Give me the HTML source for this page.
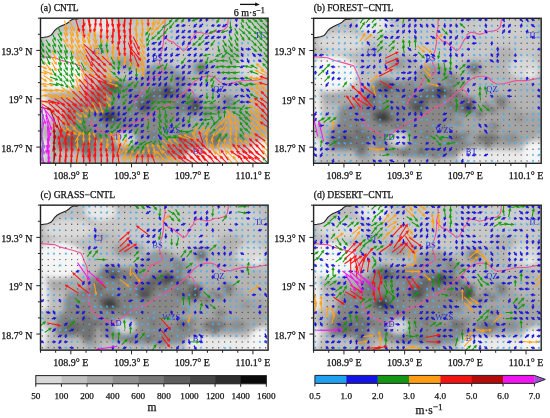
<!DOCTYPE html><html><head><meta charset="utf-8"><style>
html,body{margin:0;padding:0;background:#fff;width:550px;height:418px;overflow:hidden}
svg{display:block}
.ax{font-family:"Liberation Serif",serif;font-size:10px;fill:#111;stroke:#111;stroke-width:0.25px}
.ti{font-family:"Liberation Serif",serif;font-size:9.6px;fill:#111;stroke:#111;stroke-width:0.25px}
.cb{font-family:"Liberation Serif",serif;font-size:9.2px;fill:#111;stroke:#111;stroke-width:0.25px}
.cbu{font-family:"Liberation Serif",serif;font-size:11.5px;fill:#111;stroke:#111;stroke-width:0.25px}
.lb{font-family:"Liberation Serif",serif;font-size:8.5px;fill:#2828d8}
.cb2{font-family:"Liberation Serif",serif;font-size:10px;fill:#111;stroke:#111;stroke-width:0.25px}
</style></head><body>
<svg width="550" height="418" viewBox="0 0 550 418">
<rect width="550" height="418" fill="#fff"/>
<defs><filter id="tblur" x="-5%" y="-5%" width="110%" height="110%"><feGaussianBlur stdDeviation="2.5" edgeMode="duplicate"/></filter></defs>
<clipPath id="cpa"><rect x="40.50" y="18.20" width="227.6" height="145.0"/></clipPath>
<g clip-path="url(#cpa)">
<g filter="url(#tblur)"><rect x="32.5" y="10.2" width="243.6" height="161.0" fill="rgb(190,190,190)"/><ellipse cx="155.5" cy="118.2" rx="92" ry="40" fill="rgb(136,136,136)"/><ellipse cx="180.5" cy="43.2" rx="90" ry="25" fill="rgb(200,200,200)"/><ellipse cx="215.5" cy="78.2" rx="45" ry="20" fill="rgb(182,182,182)"/><ellipse cx="225.5" cy="123.2" rx="45" ry="25" fill="rgb(165,165,165)"/><ellipse cx="58.5" cy="73.2" rx="26" ry="18" fill="rgb(245,245,245)"/><ellipse cx="41.5" cy="123.2" rx="7" ry="40" fill="rgb(238,238,238)"/><ellipse cx="68.5" cy="42.2" rx="24" ry="10" fill="rgb(218,218,218)"/><ellipse cx="100.5" cy="24.2" rx="16" ry="9" fill="rgb(232,232,232)"/><ellipse cx="225.5" cy="159.2" rx="40" ry="9" fill="rgb(235,235,235)"/><ellipse cx="262.5" cy="155.2" rx="14" ry="14" fill="rgb(245,245,245)"/><ellipse cx="203.5" cy="156.2" rx="18" ry="8" fill="rgb(232,232,232)"/><ellipse cx="251.5" cy="68.2" rx="16" ry="11" fill="rgb(215,215,215)"/><ellipse cx="257.5" cy="74.2" rx="6" ry="4" fill="rgb(235,235,235)"/><ellipse cx="125.5" cy="139.2" rx="11" ry="8" fill="rgb(212,212,212)"/><ellipse cx="230.5" cy="28.2" rx="30" ry="10" fill="rgb(205,205,205)"/><ellipse cx="105.5" cy="54.2" rx="15" ry="9" fill="rgb(188,188,188)"/><ellipse cx="100.5" cy="50.2" rx="6" ry="4" fill="rgb(170,170,170)"/><ellipse cx="128.5" cy="62.2" rx="17" ry="8" fill="rgb(170,170,170)"/><ellipse cx="123.5" cy="64.2" rx="8" ry="5" fill="rgb(150,150,150)"/><ellipse cx="230.5" cy="54.2" rx="12" ry="7" fill="rgb(178,178,178)"/><ellipse cx="160.5" cy="78.2" rx="20" ry="15" fill="rgb(150,150,150)"/><ellipse cx="255.5" cy="98.2" rx="15" ry="14" fill="rgb(180,180,180)"/><ellipse cx="216.5" cy="98.2" rx="14" ry="9" fill="rgb(172,172,172)"/><ellipse cx="184.5" cy="82.2" rx="8" ry="7" fill="rgb(150,150,150)"/><ellipse cx="68.5" cy="98.2" rx="20" ry="7" fill="rgb(170,170,170)"/><ellipse cx="153.5" cy="147.2" rx="15" ry="10" fill="rgb(140,140,140)"/><ellipse cx="172.5" cy="130.2" rx="9" ry="7" fill="rgb(160,160,160)"/><ellipse cx="210.5" cy="118.2" rx="11" ry="13" fill="rgb(165,165,165)"/><ellipse cx="71.5" cy="137.2" rx="18" ry="14" fill="rgb(132,132,132)"/><ellipse cx="92.5" cy="150.2" rx="10" ry="12" fill="rgb(165,165,165)"/><ellipse cx="48.5" cy="131.2" rx="8" ry="10" fill="rgb(180,180,180)"/><ellipse cx="111.5" cy="86.2" rx="13" ry="8" fill="rgb(120,120,120)"/><ellipse cx="113.5" cy="88.2" rx="5" ry="4" fill="rgb(80,80,80)"/><ellipse cx="97.5" cy="106.2" rx="8" ry="5" fill="rgb(120,120,120)"/><ellipse cx="110.5" cy="116.2" rx="11" ry="7" fill="rgb(85,85,85)"/><ellipse cx="110.5" cy="117.2" rx="6" ry="4" fill="rgb(55,55,55)"/><ellipse cx="144.5" cy="104.2" rx="9" ry="7" fill="rgb(100,100,100)"/><ellipse cx="160.5" cy="92.2" rx="12" ry="6" fill="rgb(105,105,105)"/><ellipse cx="166.5" cy="91.2" rx="7" ry="6" fill="rgb(60,60,60)"/><ellipse cx="194.5" cy="105.2" rx="7" ry="9" fill="rgb(90,90,90)"/><ellipse cx="195.5" cy="107.2" rx="4" ry="4" fill="rgb(55,55,55)"/><ellipse cx="200.5" cy="68.2" rx="8" ry="7" fill="rgb(150,150,150)"/><ellipse cx="201.5" cy="68.2" rx="4" ry="4" fill="rgb(90,90,90)"/><ellipse cx="87.5" cy="144.2" rx="8" ry="12" fill="rgb(115,115,115)"/><ellipse cx="71.5" cy="140.2" rx="9" ry="7" fill="rgb(105,105,105)"/><ellipse cx="178.5" cy="78.2" rx="6" ry="5" fill="rgb(130,130,130)"/><ellipse cx="214.5" cy="138.2" rx="13" ry="5" fill="rgb(115,115,115)"/><ellipse cx="237.5" cy="138.2" rx="9" ry="5" fill="rgb(140,140,140)"/><ellipse cx="162.5" cy="153.2" rx="7" ry="7" fill="rgb(130,130,130)"/><ellipse cx="144.5" cy="108.2" rx="6" ry="4" fill="rgb(75,75,75)"/><ellipse cx="128.5" cy="110.2" rx="5" ry="3" fill="rgb(110,110,110)"/><ellipse cx="152.5" cy="98.2" rx="5" ry="3" fill="rgb(100,100,100)"/><ellipse cx="177.5" cy="94.2" rx="5" ry="4" fill="rgb(105,105,105)"/><ellipse cx="183.5" cy="108.2" rx="4" ry="3" fill="rgb(110,110,110)"/><ellipse cx="206.5" cy="113.2" rx="5" ry="4" fill="rgb(120,120,120)"/><ellipse cx="220.5" cy="126.2" rx="6" ry="4" fill="rgb(130,130,130)"/><ellipse cx="85.5" cy="118.2" rx="5" ry="4" fill="rgb(130,130,130)"/><ellipse cx="60.5" cy="146.2" rx="5" ry="4" fill="rgb(120,120,120)"/><ellipse cx="100.5" cy="136.2" rx="5" ry="4" fill="rgb(130,130,130)"/><ellipse cx="135.5" cy="148.2" rx="5" ry="4" fill="rgb(140,140,140)"/><ellipse cx="180.5" cy="138.2" rx="5" ry="4" fill="rgb(135,135,135)"/><ellipse cx="245.5" cy="118.2" rx="5" ry="4" fill="rgb(150,150,150)"/><ellipse cx="180.1" cy="135.5" rx="4.1" ry="3.4" fill="rgb(120,120,120)"/><ellipse cx="148.6" cy="151.7" rx="3.8" ry="3.4" fill="rgb(98,98,98)"/><ellipse cx="149.3" cy="95.9" rx="3.6" ry="2.9" fill="rgb(95,95,95)"/><ellipse cx="98.8" cy="98.6" rx="4.3" ry="3.1" fill="rgb(100,100,100)"/><ellipse cx="179.0" cy="86.3" rx="2.5" ry="3.3" fill="rgb(102,102,102)"/><ellipse cx="230.0" cy="99.3" rx="4.4" ry="2.8" fill="rgb(118,118,118)"/><ellipse cx="127.7" cy="89.5" rx="2.8" ry="2.1" fill="rgb(105,105,105)"/><ellipse cx="191.1" cy="103.2" rx="3.1" ry="3.2" fill="rgb(111,111,111)"/><ellipse cx="118.7" cy="114.7" rx="3.9" ry="2.1" fill="rgb(129,129,129)"/><ellipse cx="213.0" cy="105.5" rx="3.7" ry="2.0" fill="rgb(96,96,96)"/><ellipse cx="94.8" cy="136.7" rx="4.4" ry="3.4" fill="rgb(107,107,107)"/><ellipse cx="126.5" cy="118.2" rx="4.1" ry="2.2" fill="rgb(121,121,121)"/><ellipse cx="214.9" cy="145.0" rx="2.6" ry="3.4" fill="rgb(98,98,98)"/><ellipse cx="123.6" cy="125.1" rx="4.3" ry="2.5" fill="rgb(127,127,127)"/><ellipse cx="164.5" cy="101.2" rx="3.1" ry="2.3" fill="rgb(97,97,97)"/><ellipse cx="85.3" cy="131.3" rx="4.5" ry="2.2" fill="rgb(96,96,96)"/><ellipse cx="136.7" cy="95.2" rx="3.7" ry="3.2" fill="rgb(110,110,110)"/><ellipse cx="154.2" cy="143.3" rx="2.8" ry="3.1" fill="rgb(128,128,128)"/><ellipse cx="181.6" cy="139.2" rx="2.7" ry="2.7" fill="rgb(100,100,100)"/><ellipse cx="224.4" cy="99.8" rx="3.4" ry="3.5" fill="rgb(124,124,124)"/><ellipse cx="153.1" cy="134.6" rx="3.5" ry="2.4" fill="rgb(109,109,109)"/><ellipse cx="84.8" cy="106.4" rx="4.5" ry="3.4" fill="rgb(116,116,116)"/><ellipse cx="155.4" cy="103.3" rx="2.7" ry="2.4" fill="rgb(122,122,122)"/><ellipse cx="229.0" cy="105.1" rx="4.1" ry="3.2" fill="rgb(119,119,119)"/><ellipse cx="188.3" cy="137.0" rx="3.2" ry="3.1" fill="rgb(104,104,104)"/><ellipse cx="152.6" cy="137.8" rx="3.9" ry="2.4" fill="rgb(128,128,128)"/><ellipse cx="185.4" cy="122.7" rx="2.5" ry="2.8" fill="rgb(103,103,103)"/><ellipse cx="189.8" cy="113.2" rx="4.1" ry="3.0" fill="rgb(122,122,122)"/><ellipse cx="125.1" cy="127.7" rx="4.0" ry="3.2" fill="rgb(107,107,107)"/><ellipse cx="161.4" cy="89.5" rx="4.2" ry="3.4" fill="rgb(111,111,111)"/><ellipse cx="193.8" cy="133.8" rx="4.0" ry="2.3" fill="rgb(122,122,122)"/><ellipse cx="171.7" cy="129.4" rx="3.3" ry="2.9" fill="rgb(122,122,122)"/><ellipse cx="182.9" cy="133.8" rx="2.6" ry="2.2" fill="rgb(110,110,110)"/><ellipse cx="185.5" cy="93.7" rx="3.9" ry="2.9" fill="rgb(96,96,96)"/><ellipse cx="149.8" cy="94.3" rx="2.6" ry="2.2" fill="rgb(106,106,106)"/><ellipse cx="131.6" cy="125.1" rx="3.7" ry="2.4" fill="rgb(126,126,126)"/><ellipse cx="111.2" cy="109.0" rx="2.7" ry="3.2" fill="rgb(108,108,108)"/><ellipse cx="74.5" cy="119.8" rx="3.2" ry="2.9" fill="rgb(128,128,128)"/><ellipse cx="219.2" cy="109.7" rx="4.1" ry="3.0" fill="rgb(107,107,107)"/><ellipse cx="83.9" cy="123.9" rx="3.6" ry="3.4" fill="rgb(128,128,128)"/><ellipse cx="177.2" cy="104.3" rx="4.3" ry="2.0" fill="rgb(98,98,98)"/><ellipse cx="168.7" cy="125.4" rx="2.8" ry="2.9" fill="rgb(126,126,126)"/><ellipse cx="130.7" cy="110.7" rx="3.0" ry="2.4" fill="rgb(129,129,129)"/><ellipse cx="131.5" cy="153.1" rx="4.3" ry="2.9" fill="rgb(104,104,104)"/><ellipse cx="138.6" cy="101.7" rx="4.5" ry="2.7" fill="rgb(105,105,105)"/></g>
<polygon points="37.5,15.2 38.5,38.0 40.5,37.8 44.0,37.3 47.5,36.7 50.9,35.4 52.8,33.2 54.5,30.7 57.0,28.4 60.0,26.6 63.0,25.2 66.5,23.7 69.0,22.0 71.0,20.2 73.5,18.8 76.5,19.1 78.5,18.6 79.5,16.2 79.5,15.2" fill="#fff"/>
<polyline points="38.5,38.0 40.5,37.8 44.0,37.3 47.5,36.7 50.9,35.4 52.8,33.2 54.5,30.7 57.0,28.4 60.0,26.6 63.0,25.2 66.5,23.7 69.0,22.0 71.0,20.2 73.5,18.8 76.5,19.1 78.5,18.6 79.5,16.2" fill="none" stroke="#222" stroke-width="1.1"/>
<polyline points="39.5,56.4 47.2,57.1 54.4,57.6 61.5,60.4 68.7,62.3 75.9,64.3 80.7,65.9 82.6,69.5 84.3,74.3 86.7,79.1 87.8,86.3 87.8,93.4 88.6,100.6 87.8,107.8 89.0,115.0 91.3,123.1 96.0,127.7 100.7,130.9 106.9,134.0 110.5,135.7 115.5,135.2 119.5,132.7 123.3,129.7 126.7,127.5 131.5,124.5 136.3,121.5 141.1,119.7 145.9,117.9 150.7,114.9 155.5,111.9 160.0,108.3 164.6,106.3 171.8,102.7 178.9,96.4 184.7,92.1 188.4,88.5 194.9,81.2 200.7,77.5 206.5,76.1 210.9,76.1 215.3,77.5 219.6,81.9 224.0,84.2 231.1,83.4 242.8,80.5 253.1,80.5 269.5,77.5" fill="none" stroke="#f0509a" stroke-width="1.1"/>
<polyline points="228.4,17.2 228.0,22.2 227.3,26.6 224.0,29.9 219.6,31.0 215.2,31.4 210.8,33.2 206.4,34.3 202.0,32.8 197.6,32.1 194.3,34.3 193.2,37.6 191.0,39.8 188.8,44.2 186.6,48.6 183.3,50.8 180.0,47.5 176.7,45.3 173.4,42.0 169.0,40.9 165.7,37.6 163.5,34.3 163.5,42.0 162.4,48.6 160.2,55.2 160.2,58.9 159.5,63.2 161.7,69.0 162.4,71.9 159.5,74.7 155.2,76.9 150.9,78.3 149.5,81.2 148.0,84.0 145.9,88.0 142.3,91.6 138.7,96.4 136.3,98.8 134.0,104.2" fill="none" stroke="#f0509a" stroke-width="1.1"/>
<polyline points="165.0,17.2 165.0,26.2 163.5,34.3" fill="none" stroke="#f0509a" stroke-width="1.1"/>
<polyline points="188.4,88.5 192.8,91.5 195.7,98.1 196.5,102.2" fill="none" stroke="#f0509a" stroke-width="1.1"/>
<text x="157.5" y="60.6" text-anchor="middle" class="lb">BS</text>
<text x="218.9" y="91.7" text-anchor="middle" class="lb">QZ</text>
<text x="171.2" y="133.2" text-anchor="middle" class="lb">WZS</text>
<text x="116.0" y="139.5" text-anchor="middle" class="lb">LD</text>
<text x="198.2" y="154.0" text-anchor="middle" class="lb">BT</text>
<text x="260.5" y="37.8" text-anchor="middle" class="lb">TC</text>
<text x="98.5" y="54.4" text-anchor="middle" class="lb">CJ</text>
<path d="M189.3 25.6h0.01M165.8 43.2h0.01M171.7 43.2h0.01M201.1 49.1h0.01M212.8 49.1h0.01M183.4 55.0h0.01M159.9 60.9h0.01M124.6 72.6h0.01M212.8 72.6h0.01M248.1 72.6h0.01M189.3 78.5h0.01M218.7 84.4h0.01M201.1 90.3h0.01M224.6 96.1h0.01M218.7 102.0h0.01M142.3 113.8h0.01M171.7 113.8h0.01M148.1 119.7h0.01M89.3 125.5h0.01M154.0 125.5h0.01M101.1 131.4h0.01M148.1 131.4h0.01M177.5 131.4h0.01" stroke="#505050" stroke-width="1.4" stroke-linecap="round"/>
<path d="M213.3 18.8L213.0 19.4M225.1 18.8L224.8 19.4M230.8 18.9L230.7 19.2M207.8 25.3L207.4 25.4M172.4 30.1L171.6 31.5M202.0 30.9L201.3 31.3M172.6 36.4L171.7 37.3M178.3 42.8L178.0 43.0M218.0 42.2L218.6 43.1M242.0 42.1L242.2 43.0M247.8 42.3L247.9 42.8M172.5 48.7L172.1 48.9M184.6 48.4L183.4 49.1M213.3 54.2L213.1 54.5M247.5 53.8L248.1 54.9M177.8 60.0L177.7 60.4M253.1 59.8L254.0 60.9M155.2 66.0L154.1 66.7M172.3 65.9L171.9 66.5M195.5 65.4L195.2 66.7M178.8 71.9L177.5 72.6M196.4 72.0L195.2 72.6M243.6 72.3L242.2 72.6M219.5 78.2L219.2 78.3M125.4 83.5L124.8 84.2M172.3 83.4L171.8 84.2M137.2 89.4L136.5 90.1M143.0 89.8L142.7 90.0M154.8 89.9L154.5 90.0M160.4 89.6L160.3 89.8M173.0 89.8L171.7 90.3M183.9 89.1L183.5 90.2M196.0 89.6L195.4 90.1M206.5 89.6L206.6 89.8M231.4 90.1L230.9 90.2M237.2 89.7L236.6 90.1M143.0 95.2L142.4 96.0M155.1 95.6L154.2 96.1M160.6 95.2L160.0 96.0M195.9 95.0L195.2 96.1M231.0 95.5L230.8 95.7M119.7 101.4L118.9 101.9M137.8 101.6L136.3 102.0M143.5 101.2L142.2 102.1M178.5 102.0L178.0 102.0M231.6 101.6L230.7 101.9M136.9 107.1L136.6 107.6M184.5 107.3L183.6 107.8M196.1 107.2L195.4 107.7M131.2 113.2L130.9 113.4M184.1 112.5L183.4 113.9M90.2 119.1L89.7 119.4M96.2 119.0L95.4 119.6M113.2 118.2L112.8 119.8M195.7 118.7L195.3 119.4M101.8 124.7L101.3 125.3M154.4 130.7L154.3 130.9M137.1 136.4L136.5 137.1M154.4 136.1L154.1 137.2" stroke="#45b0f0" stroke-width="1.2" fill="none"/>
<path d="M212.3 20.6L212.3 19.0L213.7 19.8zM224.0 20.6L224.1 18.9L225.5 19.8zM230.2 20.5L229.9 18.9L231.5 19.5zM206.1 25.8L207.2 24.6L207.7 26.2zM171.0 32.8L170.9 31.1L172.4 31.9zM200.1 32.1L200.8 30.6L201.7 32.1zM170.8 38.3L171.1 36.7L172.3 37.9zM176.7 43.6L177.6 42.2L178.4 43.7zM219.4 44.3L217.9 43.6L219.3 42.6zM242.4 44.4L241.3 43.1L243.0 42.8zM248.4 44.1L247.1 43.1L248.7 42.5zM170.8 49.5L171.7 48.1L172.5 49.6zM182.2 49.8L183.0 48.4L183.9 49.8zM212.4 55.7L212.4 54.1L213.8 55.0zM248.7 56.2L247.3 55.3L248.8 54.5zM177.3 61.7L176.9 60.1L178.5 60.6zM254.9 61.9L253.3 61.4L254.6 60.3zM152.9 67.4L153.6 66.0L154.5 67.4zM171.0 67.6L171.2 65.9L172.5 67.0zM194.8 68.1L194.4 66.5L196.0 66.9zM176.3 73.3L177.1 71.9L177.9 73.4zM194.0 73.2L194.8 71.8L195.6 73.4zM240.9 72.9L242.1 71.8L242.4 73.5zM217.9 78.8L218.9 77.5L219.5 79.1zM123.8 85.2L124.2 83.6L125.4 84.8zM171.1 85.4L171.0 83.8L172.5 84.6zM135.5 91.1L135.9 89.5L137.1 90.7zM141.5 90.7L142.3 89.3L143.2 90.7zM153.2 90.6L154.2 89.3L154.9 90.8zM159.4 90.9L159.6 89.3L160.9 90.4zM170.3 90.7L171.4 89.5L171.9 91.1zM182.9 91.4L182.7 89.8L184.2 90.5zM194.3 90.9L194.9 89.4L196.0 90.7zM207.4 90.9L205.9 90.3L207.3 89.3zM229.5 90.4L230.8 89.4L231.0 91.0zM235.5 90.8L236.2 89.3L237.1 90.8zM141.5 97.1L141.7 95.5L143.0 96.5zM152.9 96.7L153.8 95.3L154.6 96.8zM159.2 97.1L159.3 95.5L160.7 96.5zM194.5 97.3L194.5 95.6L195.9 96.5zM229.9 96.8L230.2 95.2L231.5 96.3zM117.7 102.6L118.5 101.2L119.4 102.6zM135.0 102.5L136.0 101.2L136.6 102.9zM141.0 102.8L141.7 101.3L142.6 102.8zM176.6 102.0L178.0 101.2L178.0 102.9zM229.3 102.4L230.4 101.1L230.9 102.8zM135.8 108.7L135.9 107.1L137.3 108.0zM182.4 108.5L183.2 107.1L184.0 108.5zM194.3 108.6L194.9 107.1L195.9 108.4zM129.8 114.4L130.3 112.8L131.4 114.1zM182.7 115.1L182.6 113.5L184.1 114.3zM88.5 120.2L89.2 118.7L90.1 120.2zM94.2 120.3L94.9 118.8L95.8 120.3zM112.5 121.1L112.0 119.6L113.7 120.0zM194.7 120.7L194.5 119.0L196.1 119.8zM100.4 126.4L100.6 124.8L101.9 125.9zM153.6 132.1L153.6 130.5L155.0 131.3zM135.6 138.2L135.8 136.6L137.2 137.7zM153.6 138.5L153.2 136.9L154.9 137.5z" fill="#45b0f0" stroke="#45b0f0" stroke-width="0.5"/>
<path d="M189.7 17.5L189.4 19.4M202.6 17.7L201.1 19.6M207.6 17.8L207.1 19.3M236.2 17.5L236.3 19.4M179.3 24.7L177.9 25.4M185.4 25.0L183.7 25.5M196.7 23.8L195.3 25.4M202.9 23.7L201.1 25.6M214.6 25.2L213.3 25.5M220.6 24.9L219.1 25.4M226.8 24.1L224.6 25.6M236.1 23.8L236.3 25.0M178.9 30.0L177.8 31.2M185.2 29.9L183.6 31.3M190.9 30.7L189.8 31.2M196.6 30.6L195.7 31.2M208.3 29.7L207.1 31.3M220.7 30.5L218.9 31.3M231.9 29.4L230.5 31.4M167.0 35.3L165.9 37.2M179.3 35.4L177.5 37.3M185.4 37.0L183.8 37.3M190.9 36.9L189.9 37.2M195.8 35.6L195.3 36.9M209.1 35.8L206.9 37.3M214.5 35.8L213.0 37.2M221.0 36.9L218.9 37.3M225.6 35.8L224.8 36.9M156.6 42.4L154.0 43.2M161.3 40.9L159.9 43.2M184.4 40.8L183.4 43.2M190.8 42.0L189.6 42.9M209.3 42.0L207.0 43.2M148.5 47.2L148.2 48.7M155.8 48.9L154.5 49.0M161.9 47.4L159.9 49.1M166.9 47.2L165.9 48.9M179.4 48.6L178.0 49.0M191.6 47.7L189.3 49.1M196.8 48.5L195.7 48.9M208.9 47.8L207.1 49.0M241.3 47.4L242.0 48.7M245.6 48.9L248.0 49.1M148.6 52.8L148.2 54.7M155.5 53.3L154.2 54.8M161.6 53.5L160.1 54.8M167.4 53.9L166.1 54.7M172.5 52.8L171.7 54.8M179.8 54.0L177.7 54.9M191.1 54.3L189.7 54.8M196.5 53.2L195.3 54.8M202.6 53.5L201.3 54.8M241.4 53.0L242.1 54.7M252.3 53.1L253.9 54.9M257.6 54.0L259.7 54.9M149.3 58.8L148.2 60.7M155.7 60.0L154.4 60.6M167.4 59.5L166.0 60.7M173.3 59.2L171.8 60.7M191.4 60.3L189.6 60.8M196.6 59.5L195.5 60.6M202.7 59.9L201.4 60.6M240.5 60.2L241.8 60.7M247.1 58.4L248.1 60.8M258.3 59.7L259.5 60.6M125.8 65.1L124.9 66.4M149.3 65.3L148.5 66.3M179.4 65.4L177.7 66.6M185.3 64.8L183.4 66.7M190.0 65.2L189.5 66.2M207.7 64.6L207.0 66.5M214.9 65.5L212.9 66.7M244.6 65.8L242.3 66.7M118.6 70.7L118.7 72.2M132.1 70.8L130.6 72.5M149.8 71.6L148.5 72.4M155.3 70.5L154.1 72.5M162.0 71.6L160.1 72.5M167.7 72.3L166.2 72.5M173.3 72.2L172.2 72.5M184.4 70.9L183.6 72.3M191.0 71.3L189.5 72.5M203.1 71.0L201.1 72.6M209.1 71.3L207.0 72.6M220.5 73.0L219.2 72.7M132.2 76.7L130.6 78.4M136.4 76.5L136.4 78.1M143.1 76.8L142.5 78.1M148.9 76.0L148.2 78.5M154.2 75.8L154.0 78.5M160.9 76.1L159.9 78.5M167.8 76.9L165.8 78.5M179.5 77.9L177.9 78.4M184.5 76.3L183.5 78.4M201.9 76.1L201.1 78.5M226.7 77.7L224.8 78.4M244.4 78.8L242.5 78.5M143.7 82.8L142.5 84.1M149.5 82.9L148.4 84.1M156.4 83.7L154.1 84.3M161.2 82.3L160.0 84.3M166.7 82.4L165.9 84.1M178.3 82.6L177.7 84.0M185.4 83.3L183.6 84.3M191.3 83.8L189.6 84.3M196.8 83.5L195.6 84.2M202.1 82.1L201.1 84.3M207.6 81.9L207.0 84.3M227.2 85.0L224.6 84.4M232.4 83.0L230.6 84.3M238.5 84.3L236.6 84.4M132.6 89.3L130.7 90.2M167.0 88.7L166.0 89.9M179.1 88.5L177.7 90.1M190.9 89.6L189.8 90.0M212.4 88.4L212.7 89.8M220.8 88.8L218.7 90.2M226.3 89.6L225.1 90.1M243.6 91.9L242.4 90.5M250.0 91.7L248.2 90.4M118.6 93.4L118.7 96.2M131.3 94.0L130.6 95.9M138.6 95.1L136.5 96.1M167.2 94.5L166.0 95.9M173.0 94.4L171.8 95.9M178.3 94.1L177.6 95.9M184.9 94.6L183.7 95.9M203.1 94.9L201.2 96.0M219.7 94.2L218.8 95.9M238.5 95.0L236.5 96.1M244.6 96.6L242.4 96.2M249.9 97.9L248.1 96.2M132.4 100.3L130.5 102.0M150.1 100.7L148.3 101.9M185.7 101.1L183.5 102.0M196.8 101.1L195.6 101.8M202.9 101.2L201.4 101.9M225.0 100.4L224.7 101.5M244.8 102.1L242.3 102.0M250.6 102.1L248.2 102.0M114.2 106.4L113.1 107.6M120.0 106.6L119.1 107.5M125.9 106.4L124.9 107.6M144.1 106.2L142.4 107.8M150.1 107.5L148.5 107.8M179.3 108.3L178.0 108.0M190.8 106.3L189.5 107.7M202.9 107.0L201.4 107.7M219.7 106.5L219.0 107.4M227.0 107.4L224.7 107.9M95.2 111.1L95.2 113.8M102.6 111.8L101.2 113.7M108.9 112.8L107.2 113.6M114.4 112.4L113.1 113.5M119.0 111.3L118.7 113.7M126.8 112.5L124.7 113.8M138.5 112.5L136.5 113.7M148.9 112.0L148.3 113.4M154.9 111.3L154.0 113.8M178.4 111.9L177.7 113.5M191.3 112.4L189.4 113.7M196.3 112.5L195.6 113.4M202.6 111.8L201.1 113.7M103.1 118.2L101.2 119.6M108.2 118.2L107.3 119.3M121.2 118.5L118.7 119.7M126.0 117.4L124.6 119.7M132.1 117.9L130.6 119.5M137.1 117.6L136.5 119.4M143.5 118.0L142.5 119.4M154.4 117.4L154.0 119.5M179.2 118.1L177.7 119.5M184.0 117.2L183.4 119.6M202.7 119.2L201.6 119.5M97.0 124.7L95.6 125.4M107.9 123.5L107.1 125.3M126.2 124.8L125.1 125.3M132.6 124.4L130.6 125.5M138.7 124.4L136.4 125.5M143.7 123.9L142.4 125.3M172.0 123.3L171.7 125.3M184.7 124.2L183.8 125.2M190.1 123.7L189.4 125.2M96.1 129.9L95.5 130.9M109.2 130.8L107.2 131.4M120.8 129.8L118.7 131.4M126.1 129.9L124.9 131.2M132.2 129.6L130.6 131.3M143.8 130.2L142.6 131.2M173.7 130.0L171.7 131.4M128.4 138.7L130.4 137.3M143.1 135.6L142.5 136.9M149.2 135.5L148.3 137.0M158.2 134.6L160.1 137.6M138.1 141.9L136.6 143.0" stroke="#1010e0" stroke-width="1.35" fill="none"/>
<path d="M188.9 21.9L188.1 19.2L190.6 19.7zM199.5 21.7L200.1 18.8L202.1 20.4zM206.3 21.6L205.8 18.9L208.3 19.7zM236.5 21.9L235.0 19.5L237.6 19.3zM175.8 26.4L177.4 24.2L178.5 26.6zM181.4 26.2L183.4 24.2L184.1 26.7zM193.6 27.4L194.3 24.6L196.3 26.3zM199.2 27.4L200.2 24.6L202.0 26.5zM211.1 25.9L213.1 24.2L213.6 26.8zM216.8 26.3L218.6 24.2L219.5 26.7zM222.3 27.1L223.8 24.5L225.3 26.7zM236.5 27.3L235.0 25.2L237.6 24.9zM176.2 32.9L176.9 30.3L178.8 32.0zM181.7 33.0L182.7 30.3L184.4 32.3zM187.7 32.2L189.3 30.1L190.3 32.4zM193.7 32.4L195.0 30.1L196.3 32.3zM205.6 33.2L206.1 30.5L208.1 32.0zM216.7 32.4L218.4 30.2L219.5 32.5zM229.1 33.5L229.4 30.6L231.6 32.1zM164.5 39.4L164.8 36.5L167.0 37.9zM175.8 39.3L176.6 36.5L178.5 38.2zM181.5 37.7L183.6 36.0L184.1 38.5zM187.7 37.8L189.5 35.9L190.2 38.4zM194.6 39.1L194.1 36.4L196.6 37.3zM204.8 38.8L206.2 36.3L207.7 38.4zM211.1 38.9L212.1 36.2L213.9 38.2zM216.4 37.8L218.7 36.0L219.1 38.6zM223.5 38.9L223.8 36.2L225.9 37.7zM151.5 44.0L153.6 42.0L154.4 44.5zM158.5 45.5L158.8 42.5L161.0 43.9zM182.4 45.7L182.2 42.7L184.6 43.7zM187.8 44.4L188.8 41.9L190.5 44.0zM204.6 44.4L206.4 42.0L207.6 44.4zM147.8 51.0L146.9 48.5L149.5 48.9zM152.2 49.3L154.4 47.8L154.7 50.3zM157.9 50.8L159.1 48.1L160.8 50.1zM164.7 51.0L164.8 48.2L167.0 49.5zM175.7 49.6L177.7 47.7L178.3 50.3zM187.0 50.5L188.6 48.0L190.0 50.2zM193.5 49.7L195.2 47.7L196.1 50.1zM205.0 50.4L206.4 47.9L207.8 50.1zM243.2 50.8L240.9 49.4L243.1 48.1zM250.6 49.3L247.9 50.4L248.1 47.8zM147.7 57.1L146.9 54.4L149.5 55.0zM152.6 56.7L153.2 53.9L155.2 55.6zM158.2 56.5L159.2 53.8L160.9 55.8zM164.2 56.1L165.4 53.7L166.9 55.8zM170.9 57.1L170.5 54.3L173.0 55.2zM175.3 55.9L177.2 53.7L178.2 56.1zM187.5 55.6L189.3 53.6L190.1 56.1zM193.9 56.8L194.3 54.0L196.4 55.5zM199.5 56.5L200.4 53.8L202.2 55.7zM243.0 57.0L240.9 55.2L243.3 54.2zM255.6 56.9L252.9 55.8L254.9 54.1zM262.1 55.9L259.2 56.1L260.2 53.7zM147.0 62.9L147.1 60.1L149.4 61.4zM152.4 61.7L153.8 59.5L155.1 61.8zM164.1 62.2L165.2 59.6L166.8 61.7zM170.0 62.6L170.8 59.8L172.7 61.6zM187.2 61.4L189.3 59.5L189.9 62.0zM193.7 62.3L194.6 59.7L196.4 61.5zM199.4 61.8L200.8 59.5L202.1 61.7zM244.0 61.5L241.3 61.9L242.2 59.5zM249.1 63.3L246.9 61.3L249.3 60.3zM261.4 62.0L258.7 61.6L260.3 59.6zM123.4 68.3L123.8 65.6L125.9 67.2zM147.0 68.1L147.5 65.5L149.5 67.2zM175.7 68.0L177.0 65.5L178.5 67.7zM181.6 68.7L182.5 65.9L184.4 67.6zM188.6 68.3L188.4 65.7L190.7 66.7zM206.1 68.9L205.8 66.1L208.2 67.0zM210.7 68.0L212.3 65.6L213.6 67.8zM239.8 67.7L241.8 65.5L242.7 67.9zM118.9 74.5L117.4 72.2L120.0 72.1zM128.9 74.4L129.6 71.6L131.6 73.3zM146.5 73.7L147.8 71.3L149.2 73.5zM152.7 74.7L153.0 71.8L155.2 73.2zM157.8 73.7L159.5 71.4L160.6 73.7zM163.8 73.0L165.9 71.3L166.4 73.8zM170.0 73.1L171.9 71.2L172.5 73.7zM182.5 74.3L182.5 71.6L184.8 72.9zM187.6 74.0L188.7 71.4L190.3 73.5zM199.1 74.2L200.3 71.6L201.9 73.6zM204.7 73.9L206.3 71.5L207.7 73.7zM216.9 72.3L219.4 71.4L218.9 74.0zM128.8 80.3L129.6 77.5L131.5 79.3zM136.4 80.5L135.1 78.1L137.7 78.1zM141.5 80.2L141.3 77.5L143.6 78.6zM147.4 81.0L146.9 78.1L149.4 78.8zM153.8 81.2L152.7 78.4L155.3 78.6zM158.9 80.9L158.7 78.0L161.1 79.0zM163.7 80.1L165.0 77.4L166.6 79.5zM175.5 79.1L177.5 77.2L178.3 79.6zM182.4 80.7L182.3 77.8L184.7 78.9zM200.2 80.9L199.8 78.0L202.3 78.9zM222.5 79.3L224.4 77.2L225.3 79.6zM240.0 78.2L242.7 77.2L242.3 79.8zM140.9 86.0L141.5 83.3L143.4 85.0zM146.8 85.8L147.5 83.2L149.4 85.0zM151.7 85.0L153.8 83.1L154.5 85.6zM158.6 86.4L158.9 83.6L161.1 85.0zM164.8 86.4L164.7 83.6L167.1 84.7zM176.8 86.1L176.5 83.4L178.9 84.5zM181.4 85.5L183.0 83.1L184.2 85.4zM187.3 84.9L189.3 83.0L190.0 85.5zM193.5 85.3L195.0 83.0L196.2 85.3zM200.0 86.6L199.9 83.7L202.3 84.8zM206.3 86.9L205.7 84.0L208.2 84.7zM222.0 83.7L224.9 83.1L224.3 85.6zM228.5 85.8L229.8 83.2L231.3 85.4zM234.2 84.4L236.6 83.1L236.7 85.7zM128.4 91.2L130.1 89.0L131.2 91.4zM164.6 91.8L165.0 89.2L167.1 90.7zM176.0 92.1L176.7 89.3L178.6 91.0zM187.7 90.9L189.3 88.8L190.3 91.2zM213.2 92.2L211.5 90.1L214.0 89.6zM216.6 91.7L218.0 89.2L219.5 91.3zM222.9 90.9L224.6 88.9L225.5 91.3zM240.9 88.6L243.4 89.7L241.4 91.4zM246.2 88.8L249.0 89.3L247.5 91.4zM118.8 98.8L117.4 96.2L120.0 96.1zM129.7 98.3L129.4 95.5L131.8 96.4zM134.2 97.2L136.0 94.9L137.0 97.3zM164.4 97.8L165.0 95.1L167.0 96.8zM170.4 97.9L170.8 95.1L172.9 96.7zM176.8 98.2L176.4 95.4L178.9 96.3zM182.0 97.7L182.7 95.0L184.6 96.8zM199.1 97.4L200.5 95.0L201.9 97.1zM217.7 98.1L217.7 95.3L220.0 96.5zM234.2 97.3L235.8 94.9L237.1 97.2zM239.9 95.7L242.6 94.9L242.1 97.4zM246.3 94.3L249.1 95.3L247.2 97.1zM128.6 103.7L129.7 101.0L131.4 103.0zM146.2 103.3L147.6 100.8L149.0 103.0zM181.1 102.9L183.1 100.8L184.0 103.2zM193.6 102.9L195.0 100.7L196.2 102.9zM199.2 102.8L200.9 100.7L201.9 103.1zM224.2 103.7L223.5 101.1L226.0 101.8zM239.6 102.0L242.3 100.7L242.2 103.3zM245.6 102.0L248.2 100.7L248.2 103.3zM111.6 109.4L112.1 106.8L114.1 108.4zM117.5 109.2L118.1 106.6L120.0 108.4zM123.4 109.4L123.9 106.7L125.9 108.4zM140.4 109.6L141.5 106.9L143.2 108.8zM146.2 108.3L148.3 106.5L148.8 109.1zM175.7 107.5L178.3 106.7L177.8 109.3zM187.8 109.5L188.6 106.8L190.5 108.6zM199.2 108.8L200.9 106.6L202.0 108.9zM217.7 109.3L218.0 106.7L220.1 108.2zM222.2 108.4L224.5 106.6L225.0 109.2zM95.2 116.5L93.9 113.8L96.5 113.8zM99.6 115.7L100.2 112.9L102.2 114.5zM105.0 114.8L106.6 112.5L107.8 114.8zM111.3 115.1L112.3 112.6L114.0 114.5zM118.5 116.3L117.5 113.6L120.0 113.8zM122.4 115.1L124.0 112.6L125.3 114.9zM134.2 115.0L135.8 112.6L137.1 114.8zM147.4 115.6L147.1 112.9L149.5 113.9zM153.2 116.3L152.8 113.4L155.3 114.2zM176.7 115.7L176.5 112.9L178.9 114.0zM187.3 115.1L188.7 112.6L190.2 114.8zM194.0 115.1L194.6 112.5L196.5 114.2zM199.5 115.7L200.1 112.9L202.1 114.5zM99.1 121.1L100.4 118.5L101.9 120.7zM105.8 121.2L106.2 118.5L108.3 120.1zM116.3 120.9L118.1 118.5L119.3 120.8zM123.2 121.9L123.5 119.0L125.7 120.4zM128.9 121.4L129.7 118.6L131.6 120.4zM135.7 121.7L135.2 118.9L137.7 119.8zM141.0 121.3L141.5 118.6L143.5 120.2zM153.7 122.0L152.8 119.3L155.3 119.6zM175.9 121.2L176.8 118.6L178.6 120.4zM182.8 122.2L182.2 119.3L184.7 119.9zM199.4 120.2L201.2 118.3L202.0 120.7zM93.5 126.4L95.1 124.2L96.2 126.5zM106.1 127.5L105.9 124.8L108.3 125.8zM123.1 126.3L124.6 124.1L125.7 126.5zM128.4 126.7L130.0 124.3L131.3 126.6zM134.1 126.7L135.9 124.3L137.0 126.7zM140.8 127.2L141.5 124.5L143.4 126.2zM171.3 127.8L170.4 125.1L173.0 125.5zM182.1 126.8L182.9 124.3L184.7 126.1zM188.5 127.4L188.3 124.7L190.6 125.7zM94.3 132.9L94.4 130.3L96.6 131.6zM104.7 132.0L106.8 130.1L107.5 132.6zM116.7 133.1L117.9 130.4L119.6 132.4zM123.2 132.9L123.9 130.3L125.8 132.1zM128.8 133.2L129.6 130.5L131.5 132.2zM140.7 132.6L141.8 130.1L143.4 132.2zM169.6 132.8L171.0 130.3L172.5 132.4zM132.6 135.9L131.2 138.4L129.7 136.3zM141.4 139.0L141.3 136.3L143.6 137.5zM147.1 139.1L147.2 136.3L149.4 137.7zM161.6 140.0L159.0 138.3L161.2 136.9zM134.6 144.4L135.9 141.9L137.4 144.1z" fill="#1010e0" stroke="#1010e0" stroke-width="0.5"/>
<path d="M174.2 16.3L170.8 20.8M180.4 17.5L176.9 20.2M185.4 17.0L183.0 20.2M198.6 18.4L194.3 20.0M220.9 16.3L218.0 20.7M240.9 16.7L242.5 20.3M245.0 16.9L249.1 20.6M250.4 17.3L255.2 20.5M256.8 17.4L260.7 20.3M262.6 17.5L266.6 20.3M169.6 23.1L164.3 26.5M173.9 22.5L171.0 26.4M230.2 21.4L230.5 27.0M241.0 22.5L242.5 26.2M245.8 22.1L248.8 26.7M251.5 22.1L254.8 26.8M256.9 22.5L260.9 26.7M262.8 23.2L266.5 26.2M58.1 27.2L60.7 33.1M150.7 27.6L147.1 33.0M162.8 28.5L159.0 32.4M167.8 28.4L165.3 32.2M216.6 29.7L211.6 32.0M228.3 30.5L223.6 31.7M234.8 28.3L236.7 32.1M239.1 28.7L243.2 32.4M245.1 28.6L249.1 32.4M251.0 28.7L254.9 32.3M257.3 28.3L260.7 32.4M263.3 28.0L266.6 32.7M52.5 33.9L54.5 38.2M57.9 33.4L60.7 38.8M149.7 33.3L147.6 38.8M156.6 35.3L153.5 37.7M162.6 34.8L159.2 38.0M203.6 34.5L200.4 38.1M229.2 34.2L230.7 37.9M234.6 33.6L236.9 38.5M240.2 34.0L242.8 38.3M245.8 34.3L248.7 38.2M250.8 35.0L254.9 38.0M257.4 34.4L260.6 38.2M262.7 34.6L266.7 38.2M41.1 39.7L42.6 44.1M46.1 39.9L48.8 44.2M52.4 39.5L54.6 44.4M57.6 39.2L60.9 44.8M101.0 38.8L101.1 44.8M107.5 38.8L106.8 44.8M149.5 40.1L147.9 43.9M197.9 40.8L194.6 43.8M204.2 40.5L200.1 44.1M214.9 40.2L212.3 43.9M222.7 39.9L225.1 44.1M228.5 39.7L231.1 44.3M234.7 39.8L236.8 44.1M251.5 40.4L254.6 44.0M257.2 40.0L260.8 44.3M263.2 40.3L266.4 44.0M40.4 45.6L42.9 50.2M45.9 45.7L48.9 50.2M52.6 44.8L54.6 50.8M58.3 45.0L60.6 50.6M64.5 44.6L66.4 50.9M98.8 45.3L102.0 50.5M106.3 45.0L107.2 50.4M218.0 45.7L218.8 49.8M222.7 45.2L225.2 50.4M228.3 45.8L231.1 50.0M233.9 46.9L236.8 49.5M251.2 46.3L254.8 49.9M257.8 46.4L260.3 49.6M262.9 46.9L266.4 49.6M40.4 51.6L42.8 55.9M46.0 51.2L49.0 56.3M57.5 50.9L61.0 56.7M64.5 50.5L66.3 56.7M70.9 50.7L72.0 56.5M210.5 54.3L206.1 55.1M221.8 53.5L218.1 55.3M227.5 52.2L223.7 55.8M227.3 52.7L231.3 55.6M233.5 53.2L236.9 55.3M263.7 52.4L266.1 55.5M40.1 57.0L43.1 62.3M46.5 56.8L48.8 62.3M59.0 56.3L60.3 62.7M63.5 57.3L66.6 62.1M70.2 57.2L72.2 61.9M110.9 56.8L113.6 62.4M117.7 57.2L119.0 61.8M185.6 57.7L182.8 61.7M208.2 57.0L206.6 62.0M216.3 59.0L211.8 61.4M222.0 60.5L218.1 60.9M228.3 61.1L223.7 60.8M229.1 57.1L230.8 61.9M233.3 58.8L237.0 61.3M262.7 57.9L266.8 61.8M58.4 62.4L60.5 68.4M64.2 62.9L66.4 68.0M70.4 62.8L72.1 68.0M75.2 63.2L78.4 67.9M81.2 62.5L84.4 68.5M110.5 64.0L113.4 67.4M119.1 63.0L118.7 67.7M131.9 62.7L130.0 68.2M163.3 64.8L159.0 67.3M167.2 63.3L165.4 67.6M204.3 66.2L200.4 66.8M222.1 66.1L218.0 66.9M228.5 67.2L223.4 66.6M234.1 66.3L229.6 66.8M239.9 66.6L235.6 66.8M251.8 67.4L247.1 66.6M257.4 68.5L253.0 66.2M268.8 70.3L264.5 65.3M51.8 68.9L54.8 74.0M57.9 69.1L60.6 73.7M63.6 69.5L66.4 73.4M70.9 68.6L72.0 73.9M75.5 69.0L78.3 73.8M109.8 70.6L113.6 73.1M136.2 68.0L136.5 74.4M228.0 72.5L223.9 72.6M234.4 72.2L229.3 72.7M239.8 71.9L235.6 72.8M258.4 74.2L252.2 72.0M49.9 76.9L55.6 79.1M57.5 75.6L60.5 79.2M63.3 75.3L66.6 79.5M69.3 74.7L72.6 79.9M115.5 75.8L119.9 79.4M126.0 74.9L124.3 79.4M172.4 75.1L171.5 79.2M198.6 77.9L194.4 78.6M208.0 74.3L206.6 79.9M215.3 75.5L212.1 79.3M233.7 77.9L229.8 78.6M239.6 78.7L235.7 78.5M251.7 79.8L247.1 78.2M49.5 83.6L55.8 84.7M56.0 82.8L61.2 84.9M63.6 80.7L66.6 85.6M69.8 80.3L72.4 85.9M115.6 81.6L119.8 85.3M133.4 82.0L129.8 85.0M138.4 80.9L135.8 85.4M214.0 80.7L212.5 85.4M245.8 86.2L241.2 83.9M251.2 83.1L247.5 84.6M258.3 84.5L252.4 84.3M108.6 88.1L114.6 91.1M117.0 86.7L119.3 91.3M127.5 88.5L124.1 90.6M149.9 87.1L147.7 91.0M111.1 91.9L113.6 97.8M127.5 94.5L124.1 96.4M151.2 93.7L147.2 96.9M191.1 92.6L188.8 97.2M206.7 92.9L207.0 96.7M213.0 92.5L212.8 97.0M258.1 98.5L252.3 95.1M113.8 98.6L112.6 102.8M126.3 99.1L124.3 102.6M156.8 100.4L153.5 102.3M163.1 100.9L159.3 102.2M169.1 101.4L165.2 102.1M175.4 101.9L170.8 102.1M193.3 100.5L187.9 102.5M210.4 100.9L206.1 102.3M215.8 100.2L212.2 102.4M239.9 99.7L235.1 102.8M107.3 103.1L106.8 109.9M133.3 104.7L129.5 109.0M156.9 105.7L153.4 108.4M163.2 106.3L159.1 108.3M169.7 106.5L164.5 108.3M175.0 107.6L171.0 108.0M210.5 107.7L206.1 107.9M216.3 107.1L212.1 108.1M234.4 108.5L229.3 107.7M240.3 107.9L235.2 107.9M244.7 104.9L241.5 108.7M251.7 107.4L247.3 108.0M89.7 109.8L89.2 114.9M159.6 109.9L160.0 114.8M165.2 110.2L165.9 114.6M210.5 113.7L206.2 113.8M216.8 114.3L211.6 113.6M218.9 117.2L218.7 113.1M224.4 117.5L224.6 112.9M240.4 116.0L234.7 112.9M245.3 116.4L241.3 113.0M251.0 116.6L247.2 112.9M82.2 115.3L83.9 121.4M158.2 116.6L160.2 120.3M164.3 116.4L166.1 120.4M173.6 116.9L171.3 120.2M190.4 115.8L189.0 120.8M210.6 119.2L206.0 119.8M214.8 123.2L212.2 118.5M215.9 122.8L219.6 118.6M245.3 122.3L241.3 118.8M251.6 122.6L246.7 118.5M74.6 122.1L78.8 126.9M81.4 122.2L84.1 126.5M115.1 122.3L112.2 126.5M120.9 122.1L118.1 126.6M148.8 121.3L147.9 127.0M158.9 121.9L160.1 126.4M164.5 122.6L166.0 126.0M180.4 122.9L176.8 126.3M192.4 128.1L195.9 124.9M198.3 129.2L202.1 124.1M205.0 129.1L207.6 124.4M209.9 129.1L213.9 124.1M244.7 129.2L241.3 124.2M250.9 129.1L247.1 124.2M80.5 128.9L84.3 132.1M91.4 128.6L88.9 132.0M116.1 129.3L112.0 132.0M137.9 128.5L136.1 132.0M158.2 128.1L160.3 132.2M164.0 128.1L166.2 132.3M187.6 131.5L182.1 131.4M193.1 129.9L188.1 131.9M209.6 134.3L213.9 130.4M244.3 135.0L241.5 130.3M251.5 134.7L246.7 130.1M102.6 140.9L100.7 136.3M108.8 141.1L106.4 136.0M122.5 140.6L125.2 136.4M162.9 134.4L166.7 138.2M175.9 137.9L170.2 137.1M181.9 138.8L175.8 136.7M216.5 141.3L219.6 135.7M221.8 141.2L225.7 135.7M244.8 140.7L241.3 136.1M128.3 146.3L131.1 142.3M145.6 141.3L141.4 143.7M151.9 141.3L146.9 143.8M156.0 140.6L153.7 143.6M158.5 139.6L160.3 144.1M127.6 152.8L131.7 147.6M133.3 151.8L137.4 148.2M140.8 152.8L142.7 147.9M269.0 164.3L264.4 159.4" stroke="#0a9a0a" stroke-width="1.05" fill="none"/>
<path d="M169.2 23.1L169.8 20.1L171.8 21.6zM174.7 21.9L176.2 19.2L177.6 21.2zM181.4 22.4L182.1 19.5L184.0 20.9zM191.7 21.0L193.9 18.9L194.8 21.2zM216.5 23.1L217.0 20.0L219.1 21.4zM243.5 22.7L241.4 20.7L243.5 19.8zM251.2 22.5L248.3 21.6L250.0 19.7zM257.5 22.1L254.5 21.6L255.9 19.5zM262.9 22.0L259.9 21.3L261.4 19.3zM268.9 21.9L265.9 21.3L267.3 19.3zM162.0 28.0L163.7 25.5L165.0 27.6zM169.4 28.7L170.0 25.7L172.0 27.2zM230.7 29.8L229.3 27.1L231.8 26.9zM243.4 28.7L241.3 26.6L243.6 25.7zM250.4 29.0L247.8 27.4L249.9 26.0zM256.5 29.1L253.8 27.5L255.9 26.1zM262.8 28.7L260.0 27.5L261.8 25.8zM268.6 27.9L265.7 27.1L267.2 25.2zM61.8 35.7L59.5 33.6L61.8 32.6zM145.5 35.3L146.1 32.3L148.1 33.7zM157.0 34.4L158.1 31.5L159.8 33.3zM163.7 34.5L164.3 31.5L166.3 32.9zM209.0 33.2L211.0 30.9L212.1 33.2zM220.9 32.4L223.3 30.5L223.9 32.9zM237.9 34.6L235.6 32.7L237.7 31.6zM245.3 34.2L242.4 33.3L244.1 31.4zM251.1 34.3L248.2 33.3L249.9 31.5zM256.9 34.2L254.0 33.2L255.7 31.4zM262.4 34.6L259.7 33.2L261.6 31.6zM268.2 35.0L265.5 33.4L267.6 31.9zM55.6 40.8L53.3 38.8L55.6 37.7zM61.9 41.3L59.6 39.4L61.8 38.2zM146.6 41.4L146.4 38.4L148.7 39.3zM151.4 39.4L152.8 36.8L154.3 38.6zM157.2 39.9L158.4 37.1L160.1 38.9zM198.5 40.2L199.5 37.3L201.3 38.9zM231.8 40.4L229.6 38.4L231.8 37.5zM238.1 41.1L235.8 39.1L238.0 38.0zM244.2 40.7L241.7 38.9L243.8 37.6zM250.4 40.4L247.7 38.9L249.7 37.4zM257.1 39.7L254.1 39.0L255.6 37.0zM262.4 40.3L259.6 39.0L261.5 37.4zM268.7 40.1L265.8 39.1L267.5 37.3zM43.5 46.7L41.4 44.5L43.7 43.7zM50.3 46.5L47.7 44.8L49.8 43.5zM55.7 47.0L53.4 44.9L55.7 43.9zM62.3 47.2L59.8 45.5L62.0 44.2zM101.2 47.6L99.9 44.8L102.4 44.8zM106.5 47.6L105.5 44.7L108.0 45.0zM146.8 46.4L146.8 43.4L149.0 44.3zM192.5 45.6L193.8 42.8L195.4 44.7zM197.9 45.9L199.2 43.1L200.9 45.0zM210.7 46.2L211.3 43.2L213.3 44.6zM226.5 46.5L224.0 44.7L226.2 43.5zM232.4 46.8L230.0 44.9L232.2 43.7zM238.0 46.6L235.7 44.6L237.9 43.5zM256.5 46.1L253.7 44.8L255.6 43.2zM262.6 46.4L259.8 45.1L261.7 43.5zM268.2 46.2L265.5 44.8L267.4 43.2zM44.2 52.6L41.8 50.7L44.0 49.6zM50.5 52.5L47.9 50.9L50.0 49.5zM55.5 53.4L53.4 51.2L55.8 50.3zM61.6 53.2L59.4 51.1L61.7 50.1zM67.2 53.6L65.2 51.3L67.6 50.6zM103.4 52.9L100.9 51.2L103.0 49.9zM107.6 53.2L105.9 50.6L108.4 50.2zM219.4 52.5L217.7 50.1L220.0 49.6zM226.4 53.0L224.1 51.0L226.3 49.9zM232.6 52.4L230.0 50.7L232.1 49.3zM238.8 51.3L236.0 50.4L237.5 48.6zM256.8 51.9L253.9 50.8L255.6 49.0zM261.9 51.8L259.3 50.3L261.2 48.9zM268.6 51.3L265.6 50.5L267.1 48.6zM44.2 58.3L41.8 56.5L43.9 55.3zM50.4 58.8L47.9 57.0L50.1 55.7zM62.4 59.1L59.9 57.3L62.0 56.0zM67.1 59.4L65.1 57.1L67.5 56.4zM72.5 59.3L70.8 56.8L73.2 56.3zM203.3 55.7L205.9 53.9L206.3 56.3zM215.6 56.5L217.5 54.2L218.6 56.4zM221.6 57.7L222.8 54.9L224.5 56.7zM233.6 57.3L230.6 56.6L232.1 54.6zM239.2 56.7L236.2 56.3L237.5 54.3zM267.8 57.6L265.2 56.2L267.1 54.7zM44.5 64.7L42.0 62.9L44.2 61.7zM49.9 64.9L47.6 62.8L50.0 61.9zM60.9 65.4L59.1 62.9L61.6 62.4zM68.1 64.5L65.6 62.8L67.7 61.4zM73.2 64.5L71.0 62.4L73.3 61.4zM114.8 65.0L112.5 62.9L114.7 61.9zM119.8 64.5L117.8 62.1L120.2 61.4zM181.2 64.1L181.8 61.0L183.8 62.4zM205.7 64.7L205.4 61.6L207.8 62.4zM209.4 62.7L211.2 60.3L212.4 62.5zM215.4 61.3L217.9 59.8L218.2 62.1zM220.9 60.6L223.8 59.6L223.6 62.0zM231.8 64.6L229.7 62.4L232.0 61.5zM239.3 62.9L236.3 62.3L237.7 60.3zM268.8 63.8L265.9 62.7L267.6 60.9zM61.4 71.1L59.3 68.8L61.7 68.0zM67.5 70.6L65.2 68.5L67.5 67.6zM73.0 70.6L70.9 68.4L73.3 67.6zM79.9 70.3L77.3 68.6L79.4 67.2zM85.7 71.0L83.3 69.1L85.5 67.9zM115.2 69.5L112.5 68.2L114.3 66.6zM118.4 70.5L117.4 67.6L119.9 67.8zM129.1 70.8L128.8 67.8L131.2 68.6zM156.5 68.6L158.4 66.2L159.6 68.3zM164.3 70.2L164.3 67.1L166.5 68.1zM197.8 67.3L200.3 65.7L200.6 68.0zM215.3 67.4L217.7 65.7L218.2 68.1zM220.6 66.3L223.5 65.4L223.3 67.9zM226.8 67.2L229.4 65.6L229.7 68.1zM232.8 66.9L235.5 65.6L235.6 68.0zM244.4 66.1L247.4 65.4L246.9 67.8zM250.5 65.0L253.6 65.1L252.4 67.3zM262.6 63.2L265.4 64.5L263.5 66.1zM56.3 76.4L53.8 74.6L55.9 73.3zM62.0 76.2L59.5 74.4L61.7 73.1zM68.1 75.7L65.4 74.2L67.4 72.7zM72.5 76.6L70.7 74.1L73.2 73.6zM79.7 76.2L77.2 74.5L79.4 73.2zM115.9 74.7L112.9 74.1L114.3 72.1zM136.6 77.2L135.2 74.5L137.7 74.4zM221.2 72.7L223.9 71.4L223.9 73.8zM226.5 73.0L229.1 71.5L229.4 74.0zM232.9 73.3L235.4 71.6L235.8 73.9zM249.5 71.0L252.6 70.8L251.7 73.2zM58.2 80.1L55.1 80.3L56.1 77.9zM62.3 81.4L59.6 80.0L61.5 78.4zM68.4 81.7L65.6 80.3L67.6 78.7zM74.1 82.3L71.6 80.6L73.7 79.2zM122.0 81.2L119.0 80.4L120.7 78.5zM123.3 82.1L123.1 79.0L125.4 79.9zM170.9 81.9L170.3 78.9L172.7 79.5zM191.7 79.1L194.2 77.5L194.7 79.8zM205.9 82.7L205.4 79.6L207.8 80.2zM210.4 81.5L211.2 78.5L213.1 80.1zM227.2 79.1L229.6 77.5L230.1 79.8zM233.0 78.3L235.8 77.3L235.6 79.6zM244.5 77.2L247.5 77.0L246.7 79.3zM58.6 85.2L55.6 85.9L56.0 83.5zM63.8 85.9L60.8 86.1L61.7 83.7zM68.0 88.0L65.5 86.3L67.7 85.0zM73.6 88.4L71.3 86.4L73.5 85.4zM121.9 87.1L118.9 86.2L120.6 84.4zM127.6 86.7L129.0 84.0L130.6 85.9zM134.3 87.8L134.7 84.8L136.8 86.1zM211.6 88.0L211.3 85.0L213.7 85.8zM238.7 82.6L241.7 82.7L240.6 85.0zM245.0 85.7L247.0 83.5L247.9 85.7zM249.6 84.3L252.4 83.1L252.4 85.6zM117.1 92.4L114.1 92.3L115.2 90.0zM120.5 93.8L118.2 91.9L120.4 90.8zM121.8 92.0L123.5 89.6L124.7 91.6zM146.4 93.4L146.7 90.4L148.8 91.6zM114.6 100.4L112.4 98.3L114.7 97.3zM121.8 97.8L123.5 95.4L124.7 97.5zM145.1 98.6L146.5 95.9L148.0 97.8zM187.5 99.6L187.7 96.6L189.9 97.7zM207.2 99.3L205.8 96.8L208.2 96.6zM212.7 99.8L211.6 96.9L214.0 97.0zM249.8 93.7L252.9 94.1L251.6 96.2zM111.9 105.5L111.5 102.5L113.8 103.1zM122.9 104.9L123.3 102.0L125.3 103.2zM151.2 103.6L152.9 101.3L154.1 103.3zM156.7 103.1L158.9 101.1L159.7 103.4zM162.5 102.6L164.9 101.0L165.4 103.3zM168.0 102.2L170.7 100.8L170.8 103.3zM185.3 103.5L187.5 101.4L188.3 103.7zM203.5 103.1L205.8 101.1L206.5 103.4zM209.8 103.8L211.6 101.4L212.8 103.4zM232.8 104.4L234.4 101.8L235.8 103.9zM106.6 112.7L105.6 109.8L108.1 110.0zM127.7 111.1L128.6 108.2L130.5 109.8zM151.2 110.1L152.6 107.4L154.1 109.4zM156.6 109.5L158.6 107.2L159.7 109.4zM161.9 109.3L164.1 107.2L164.9 109.5zM168.3 108.2L170.9 106.8L171.1 109.1zM203.4 108.1L206.1 106.7L206.2 109.2zM209.4 108.7L211.8 106.9L212.3 109.2zM226.5 107.3L229.5 106.5L229.1 109.0zM232.4 107.9L235.2 106.7L235.2 109.2zM239.8 110.9L240.6 107.9L242.5 109.5zM244.5 108.4L247.1 106.8L247.4 109.2zM89.0 117.7L88.0 114.8L90.5 115.0zM160.2 117.6L158.7 114.9L161.2 114.7zM166.3 117.4L164.7 114.8L167.1 114.4zM203.4 113.9L206.1 112.6L206.2 115.0zM208.8 113.3L211.7 112.4L211.4 114.9zM218.5 110.3L219.8 113.0L217.5 113.2zM224.8 110.1L225.8 113.0L223.4 112.8zM232.3 111.6L235.3 111.8L234.1 114.0zM239.1 111.2L242.1 112.0L240.5 113.9zM245.2 111.0L248.0 112.0L246.3 113.8zM84.7 124.0L82.7 121.7L85.1 121.0zM161.6 122.7L159.2 120.9L161.3 119.7zM167.3 122.9L165.0 120.9L167.2 119.9zM169.7 122.4L170.3 119.5L172.2 120.9zM188.2 123.5L187.8 120.5L190.2 121.2zM203.2 120.1L205.9 118.6L206.2 121.0zM210.8 116.1L213.3 117.9L211.1 119.1zM221.5 116.5L220.6 119.4L218.7 117.8zM239.1 117.0L242.1 117.9L240.4 119.8zM244.6 116.8L247.5 117.6L245.9 119.5zM80.6 129.0L77.8 127.7L79.7 126.1zM85.5 128.9L83.0 127.2L85.1 125.9zM110.6 128.7L111.2 125.7L113.2 127.2zM116.6 129.0L117.0 125.9L119.1 127.3zM147.4 129.8L146.7 126.8L149.1 127.2zM160.9 129.1L159.0 126.8L161.3 126.1zM167.0 128.5L164.9 126.5L167.1 125.6zM174.7 128.2L175.9 125.4L177.6 127.2zM198.0 123.0L196.7 125.8L195.1 124.0zM203.8 121.9L203.1 124.9L201.1 123.4zM208.9 121.9L208.7 125.0L206.5 123.8zM215.7 122.0L214.9 124.9L213.0 123.4zM239.7 121.9L242.3 123.5L240.3 124.9zM245.3 122.0L248.1 123.5L246.1 125.0zM86.5 133.9L83.5 133.1L85.1 131.2zM87.3 134.3L87.9 131.3L89.9 132.7zM109.6 133.5L111.3 130.9L112.7 133.0zM134.8 134.4L135.0 131.4L137.1 132.5zM161.6 134.7L159.2 132.8L161.4 131.7zM167.6 134.7L165.2 132.9L167.3 131.7zM179.3 131.3L182.1 130.1L182.0 132.6zM185.5 133.0L187.6 130.7L188.6 133.1zM216.0 128.5L214.8 131.3L213.1 129.5zM240.1 127.9L242.6 129.6L240.5 130.9zM244.7 128.2L247.6 129.2L245.9 131.0zM99.6 133.7L101.8 135.8L99.5 136.7zM105.2 133.5L107.5 135.5L105.2 136.5zM126.7 134.0L126.2 137.1L124.2 135.7zM168.7 140.2L165.8 139.1L167.6 137.3zM167.4 136.7L170.4 135.8L170.0 138.3zM173.2 135.8L176.2 135.5L175.4 137.9zM220.9 133.3L220.7 136.3L218.5 135.1zM227.3 133.4L226.7 136.4L224.7 134.9zM239.6 133.9L242.3 135.4L240.3 136.9zM132.7 140.0L132.1 143.0L130.1 141.6zM138.9 145.0L140.8 142.6L142.0 144.7zM144.4 145.0L146.4 142.7L147.5 144.9zM152.1 145.8L152.7 142.9L154.6 144.3zM161.3 146.7L159.1 144.6L161.4 143.7zM133.4 145.4L132.7 148.3L130.7 146.8zM139.4 146.3L138.2 149.1L136.5 147.2zM143.8 145.3L143.9 148.4L141.6 147.4zM262.5 157.3L265.3 158.5L263.5 160.2z" fill="#0a9a0a" stroke="#0a9a0a" stroke-width="0.5"/>
<path d="M135.1 13.6L137.1 23.0M141.9 13.6L142.4 23.0M155.6 13.6L153.1 23.1M162.4 14.3L158.6 22.6M169.4 15.6L164.0 21.7M64.6 20.4L66.4 28.0M69.1 20.1L73.1 28.5M137.5 20.0L135.8 28.4M141.5 19.4L142.7 29.0M148.0 19.4L148.2 28.9M156.7 20.3L152.6 28.3M163.9 21.2L157.8 27.9M64.3 26.7L66.5 33.5M70.1 26.4L72.5 33.9M77.7 25.1L77.5 35.0M90.3 25.9L88.9 34.3M95.9 25.6L94.9 34.6M135.6 25.7L136.8 34.4M142.7 26.4L142.1 33.7M156.9 27.5L152.8 33.2M64.2 32.4L66.6 39.7M70.0 31.9L72.6 40.1M76.1 31.5L78.4 40.5M81.6 31.6L84.4 40.4M89.6 31.2L89.2 40.7M93.8 31.4L96.0 40.6M99.9 31.3L101.7 40.7M106.6 31.5L107.2 40.3M135.9 31.4L136.6 40.5M142.8 31.6L142.0 40.3M62.9 38.9L67.2 45.2M70.6 37.5L72.3 46.2M75.1 37.9L78.8 46.0M82.4 37.4L84.0 46.3M87.2 37.2L90.5 46.6M92.8 38.3L96.4 45.6M112.2 37.0L113.2 46.6M139.6 38.2L143.6 45.8M69.4 44.0L72.9 51.7M74.8 44.2L79.0 51.5M80.8 44.2L84.8 51.5M92.7 43.7L96.6 52.0M113.4 43.8L112.6 51.6M140.4 43.9L143.2 51.7M52.2 50.1L54.9 57.3M76.2 49.7L78.3 57.6M80.2 50.1L85.2 57.6M98.0 49.7L102.8 57.8M105.6 49.5L107.7 57.7M112.5 50.1L113.0 57.0M118.5 49.5L118.9 57.7M123.7 48.8L125.1 58.4M138.6 50.2L144.2 57.5M51.3 56.9L55.2 62.5M75.1 56.6L78.6 62.7M80.6 56.3L84.8 63.1M125.0 55.7L124.4 63.2M130.3 55.0L130.6 64.0M140.4 55.6L143.2 63.5M37.6 64.6L44.4 67.7M45.1 62.6L49.6 68.6M51.8 62.3L55.0 68.6M86.1 61.4L91.1 69.7M103.0 62.0L109.2 69.3M133.5 61.4L137.9 69.6M140.8 61.4L143.0 69.4M263.8 69.9L258.1 65.3M37.2 71.5L44.6 73.1M43.2 70.6L50.6 73.6M80.3 68.8L84.8 74.3M84.4 68.7L92.1 74.8M102.8 68.6L109.1 74.7M140.8 67.9L142.9 74.7M264.8 75.3L257.4 71.3M271.2 75.7L262.8 70.9M37.6 75.5L44.6 80.0M43.6 75.5L50.4 79.9M74.7 74.4L78.8 80.3M81.5 73.2L84.4 81.2M101.7 75.2L109.9 80.3M107.5 76.8L115.5 79.3M258.8 79.8L251.9 77.9M265.4 78.8L257.2 78.3M37.6 81.9L44.5 85.5M42.8 83.2L50.9 85.0M75.7 78.8L78.5 87.3M107.6 82.5L115.5 85.3M265.4 85.2L257.1 84.0M36.4 90.0L45.4 90.4M43.2 89.4L50.4 90.7M49.0 90.0L56.3 90.4M55.0 89.2L62.2 90.7M61.6 87.2L67.8 91.7M68.6 86.0L73.1 92.2M73.6 85.5L79.8 92.8M258.1 93.0L252.2 89.1M264.0 94.4L257.7 88.1M270.7 94.1L263.0 88.1M36.8 97.2L45.0 95.6M42.4 95.2L51.2 96.6M48.1 94.1L57.4 97.3M54.0 94.8L63.1 96.9M60.4 92.9L68.8 97.9M67.1 92.2L74.1 98.2M103.3 91.5L108.9 98.6M263.9 100.3L257.8 94.0M36.0 102.0L45.8 102.1M103.5 97.1L108.9 104.7M259.4 104.2L251.1 100.9M79.2 103.5L85.8 110.3M85.3 103.7L91.4 110.1M92.4 102.4L96.7 110.9M99.3 102.2L102.1 110.9M259.3 110.3L251.2 106.7M72.5 110.3L80.4 115.7M80.0 110.0L85.0 115.5M234.4 117.0L228.7 112.3M259.0 116.7L251.4 112.3M265.0 117.3L257.0 111.8M73.5 116.4L79.5 121.2M221.4 123.4L225.9 118.1M232.6 124.9L229.4 117.0M239.8 123.9L234.7 117.6M258.6 122.7L251.7 118.2M264.0 124.3L257.6 117.1M63.2 119.9L67.3 128.7M67.7 121.5L73.7 127.6M215.0 129.1L220.4 123.9M222.2 130.0L225.7 123.5M230.9 131.4L230.2 122.4M238.4 130.1L235.4 123.5M257.6 129.7L252.2 123.5M263.4 129.8L258.1 123.4M61.5 127.4L68.1 133.6M66.8 128.4L74.2 132.9M73.3 128.6L79.5 132.7M193.6 136.5L195.9 129.0M197.4 135.7L202.9 129.2M203.8 135.1L208.2 129.9M215.4 135.1L220.2 129.8M222.1 136.5L225.8 128.9M230.3 136.5L230.5 129.1M236.7 137.0L236.2 128.6M257.1 135.7L252.5 129.4M263.2 136.5L258.0 128.6M269.2 136.6L263.9 128.5M75.1 142.0L78.8 135.0M83.6 143.1L83.4 134.3M89.2 142.6L89.4 134.8M97.0 142.5L94.3 134.8M115.4 142.2L111.6 134.9M119.7 142.5L118.3 134.9M188.7 139.1L180.8 136.4M194.8 140.0L186.3 135.8M198.2 142.8L193.5 134.3M207.0 142.7L206.9 134.7M210.9 141.9L213.6 135.3M230.1 143.0L230.7 134.4M237.2 142.6L235.9 134.8M252.0 140.1L246.5 136.1M257.8 141.7L252.0 135.0M270.8 140.9L263.0 135.3M77.9 149.4L77.4 139.8M83.3 149.3L83.5 139.8M89.0 149.5L89.5 139.6M100.1 148.2L101.5 140.9M106.2 148.3L107.3 140.9M118.4 149.4L118.9 139.8M122.5 147.7L125.5 141.2M162.1 139.8L167.4 144.7M175.3 147.9L169.8 140.7M181.6 147.5L175.4 140.9M208.0 149.4L206.4 139.7M213.7 149.1L212.3 140.0M217.7 147.9L219.1 141.2M223.9 148.1L224.9 141.0M230.8 148.5L230.3 140.7M237.7 149.1L235.6 140.0M245.4 147.2L240.8 141.4M252.2 146.1L246.3 141.9M269.1 147.8L264.0 140.8M78.4 155.4L77.1 145.5M105.8 155.2L107.6 145.7M120.9 153.9L126.6 146.4M149.3 154.5L147.6 146.4M156.0 154.5L153.0 146.2M162.5 154.0L158.6 146.6M170.1 152.9L163.5 147.1M215.7 154.6L211.3 146.0M220.3 154.0L218.0 146.8M226.8 154.6L223.4 146.1M233.9 153.9L228.7 146.5M270.2 152.6L263.5 147.3M118.1 161.2L119.1 151.5M122.2 160.4L125.9 152.1M127.4 159.7L132.1 152.5M133.3 159.1L137.8 153.1M140.3 160.2L143.3 152.3M147.2 161.1L148.7 151.6M153.9 161.3L154.1 151.4M163.7 159.0L158.0 152.9M169.8 159.8L163.6 152.3M223.4 158.6L216.2 153.0M234.8 159.5L228.0 152.4M269.3 159.9L263.8 152.2M78.7 166.9L77.0 157.5M123.9 166.5L125.0 157.9M130.4 166.4L130.6 158.1M163.4 166.0L158.0 158.0M170.4 163.9L163.5 159.3M175.0 165.3L170.0 158.6M182.5 164.2L174.9 159.0M234.5 165.2L228.3 158.5M239.7 165.6L234.6 158.3" stroke="#ffa014" stroke-width="1.05" fill="none"/>
<path d="M137.6 25.8L135.9 23.3L138.3 22.8zM142.6 25.8L141.2 23.1L143.7 23.0zM152.4 25.8L151.9 22.8L154.4 23.4zM157.4 25.1L157.4 22.1L159.7 23.1zM162.1 23.8L163.1 20.8L164.9 22.5zM67.0 30.8L65.2 28.3L67.6 27.7zM74.3 31.1L72.0 29.1L74.2 28.0zM135.3 31.1L134.6 28.1L137.0 28.6zM143.0 31.7L141.5 29.1L143.9 28.8zM148.3 31.7L147.0 29.0L149.5 28.9zM151.4 30.8L151.5 27.8L153.7 28.9zM155.9 29.9L156.9 27.0L158.7 28.7zM67.3 36.2L65.3 33.9L67.7 33.1zM73.3 36.6L71.3 34.3L73.7 33.5zM77.4 37.8L76.3 35.0L78.8 35.0zM88.4 37.1L87.6 34.1L90.1 34.5zM94.5 37.4L93.6 34.4L96.1 34.7zM137.2 37.2L135.5 34.6L138.0 34.3zM141.8 36.5L140.8 33.6L143.3 33.8zM151.1 35.4L151.8 32.4L153.8 33.9zM67.5 42.3L65.4 40.1L67.8 39.3zM73.4 42.8L71.4 40.5L73.8 39.7zM79.0 43.2L77.1 40.8L79.6 40.2zM85.3 43.1L83.2 40.8L85.6 40.0zM89.1 43.5L88.0 40.7L90.5 40.7zM96.6 43.3L94.7 40.8L97.2 40.3zM102.3 43.4L100.5 40.9L103.0 40.4zM107.4 43.1L106.0 40.4L108.4 40.3zM136.8 43.3L135.4 40.6L137.9 40.4zM141.7 43.1L140.7 40.2L143.2 40.4zM68.8 47.5L66.2 45.9L68.2 44.5zM72.8 48.9L71.1 46.4L73.5 46.0zM80.0 48.5L77.7 46.5L80.0 45.5zM84.5 49.0L82.8 46.5L85.2 46.1zM91.5 49.2L89.3 47.0L91.7 46.1zM97.6 48.2L95.3 46.2L97.5 45.1zM113.5 49.4L112.0 46.8L114.5 46.5zM145.0 48.3L142.5 46.4L144.7 45.2zM74.0 54.2L71.7 52.2L74.0 51.2zM80.3 54.0L77.9 52.2L80.0 50.9zM86.1 54.0L83.7 52.1L85.9 50.9zM97.8 54.5L95.4 52.5L97.7 51.4zM112.4 54.4L111.4 51.5L113.9 51.8zM144.2 54.3L142.0 52.1L144.4 51.3zM55.9 59.9L53.8 57.7L56.1 56.8zM79.0 60.3L77.1 57.9L79.5 57.2zM86.7 59.9L84.1 58.3L86.2 56.9zM104.2 60.2L101.7 58.5L103.9 57.2zM108.4 60.4L106.5 58.0L108.9 57.4zM113.3 59.8L111.8 57.1L114.3 56.9zM119.0 60.5L117.6 57.7L120.1 57.6zM125.5 61.2L123.9 58.6L126.3 58.3zM146.0 59.8L143.3 58.3L145.2 56.8zM56.8 64.8L54.2 63.2L56.2 61.8zM80.0 65.1L77.6 63.3L79.7 62.1zM86.3 65.4L83.8 63.7L85.9 62.4zM124.2 66.0L123.2 63.1L125.7 63.3zM130.7 66.8L129.3 64.0L131.8 63.9zM144.1 66.1L142.0 63.9L144.4 63.1zM47.0 68.9L43.9 68.9L45.0 66.6zM51.2 70.9L48.5 69.3L50.6 67.9zM56.3 71.1L53.9 69.2L56.1 68.1zM92.6 72.1L90.1 70.3L92.2 69.0zM111.0 71.5L108.2 70.1L110.1 68.5zM139.2 72.1L136.8 70.2L139.0 69.1zM143.7 72.1L141.8 69.7L144.2 69.1zM256.0 63.5L258.9 64.3L257.3 66.3zM47.4 73.7L44.4 74.4L44.9 71.9zM53.1 74.7L50.1 74.8L51.0 72.4zM86.6 76.5L83.9 75.1L85.8 73.5zM94.3 76.6L91.3 75.8L92.9 73.9zM111.1 76.6L108.3 75.6L110.0 73.8zM143.7 77.3L141.7 75.0L144.1 74.3zM254.9 70.0L258.0 70.2L256.8 72.4zM260.3 69.6L263.4 69.9L262.1 72.0zM47.0 81.5L44.0 81.0L45.3 78.9zM52.7 81.5L49.7 81.0L51.1 78.9zM80.4 82.6L77.8 81.0L79.9 79.6zM85.4 83.8L83.3 81.6L85.6 80.8zM112.2 81.8L109.2 81.4L110.5 79.2zM118.2 80.2L115.2 80.5L115.9 78.1zM249.2 77.2L252.2 76.7L251.6 79.1zM254.4 78.2L257.2 77.1L257.1 79.6zM47.0 86.8L43.9 86.6L45.1 84.4zM53.6 85.6L50.6 86.2L51.2 83.8zM79.4 90.0L77.4 87.7L79.7 86.9zM118.1 86.3L115.1 86.5L115.9 84.1zM254.3 83.6L257.3 82.7L256.9 85.2zM48.2 90.5L45.4 91.6L45.5 89.1zM53.2 91.1L50.2 91.9L50.6 89.4zM59.1 90.5L56.2 91.6L56.3 89.1zM64.9 91.3L61.9 91.9L62.4 89.5zM70.1 93.3L67.1 92.7L68.5 90.7zM74.8 94.5L72.1 93.0L74.1 91.5zM81.6 95.0L78.8 93.7L80.7 92.0zM249.9 87.6L252.9 88.1L251.5 90.2zM255.8 86.1L258.6 87.2L256.8 89.0zM260.8 86.4L263.8 87.2L262.2 89.1zM47.8 95.0L45.3 96.8L44.8 94.4zM53.9 97.1L50.9 97.9L51.4 95.4zM60.0 98.2L57.0 98.5L57.8 96.1zM65.9 97.5L62.8 98.1L63.4 95.6zM71.2 99.3L68.1 99.0L69.4 96.8zM76.3 100.0L73.3 99.2L75.0 97.3zM110.6 100.7L107.9 99.3L109.9 97.8zM255.8 91.9L258.7 93.1L256.9 94.8zM48.6 102.1L45.8 103.3L45.8 100.8zM110.5 107.0L107.8 105.4L109.9 103.9zM248.5 99.9L251.6 99.7L250.7 102.0zM87.7 112.3L84.9 111.1L86.7 109.4zM93.4 112.1L90.5 110.9L92.3 109.2zM98.0 113.4L95.6 111.5L97.9 110.4zM102.9 113.6L100.9 111.3L103.3 110.5zM248.7 105.5L251.8 105.5L250.7 107.8zM82.7 117.2L79.7 116.7L81.1 114.6zM86.9 117.6L84.1 116.4L86.0 114.7zM226.5 110.5L229.5 111.4L227.9 113.3zM249.0 110.9L252.0 111.2L250.8 113.4zM254.7 110.2L257.7 110.8L256.3 112.8zM81.7 122.9L78.7 122.2L80.3 120.2zM227.8 115.9L226.9 118.9L225.0 117.3zM228.3 114.4L230.5 116.5L228.2 117.5zM232.9 115.4L235.6 116.8L233.7 118.3zM249.3 116.6L252.4 117.1L251.0 119.2zM255.7 115.0L258.5 116.3L256.6 118.0zM68.5 131.2L66.2 129.2L68.4 128.1zM75.7 129.6L72.8 128.5L74.6 126.7zM222.4 121.9L221.3 124.8L219.5 123.0zM227.0 121.0L226.8 124.1L224.6 122.9zM230.1 119.6L231.5 122.3L229.0 122.5zM234.3 120.9L236.6 123.0L234.3 124.0zM250.4 121.4L253.2 122.7L251.3 124.3zM256.3 121.2L259.0 122.6L257.1 124.2zM70.2 135.5L67.3 134.5L69.0 132.7zM76.6 134.4L73.6 134.0L74.9 131.9zM81.9 134.3L78.8 133.8L80.2 131.7zM196.7 126.4L197.1 129.4L194.7 128.7zM204.7 127.1L203.8 130.0L201.9 128.4zM210.1 127.7L209.2 130.7L207.3 129.1zM222.0 127.7L221.1 130.7L219.2 129.0zM227.1 126.4L227.0 129.4L224.7 128.3zM230.6 126.3L231.8 129.2L229.3 129.1zM236.0 125.9L237.4 128.6L234.9 128.7zM250.9 127.2L253.6 128.7L251.5 130.2zM256.5 126.3L259.1 128.0L257.0 129.3zM262.3 126.2L264.9 127.9L262.8 129.2zM80.1 132.6L79.9 135.6L77.7 134.5zM83.3 131.5L84.6 134.3L82.1 134.4zM89.5 132.0L90.7 134.9L88.2 134.8zM93.4 132.1L95.5 134.3L93.1 135.2zM110.3 132.4L112.7 134.3L110.5 135.5zM117.8 132.1L119.5 134.7L117.1 135.1zM178.2 135.5L181.2 135.2L180.4 137.6zM183.8 134.6L186.8 134.7L185.7 136.9zM192.1 131.8L194.6 133.7L192.4 134.9zM206.9 131.9L208.2 134.7L205.7 134.8zM214.7 132.7L214.8 135.8L212.5 134.8zM230.9 131.6L231.9 134.5L229.4 134.3zM235.5 132.0L237.2 134.6L234.7 135.0zM244.2 134.5L247.2 135.1L245.7 137.2zM250.1 132.9L252.9 134.2L251.1 135.9zM260.7 133.7L263.7 134.3L262.2 136.3zM77.3 137.0L78.7 139.7L76.2 139.8zM83.6 137.0L84.8 139.8L82.3 139.8zM89.7 136.8L90.8 139.7L88.3 139.6zM102.1 138.1L102.8 141.1L100.3 140.6zM107.8 138.1L108.6 141.1L106.1 140.7zM119.1 137.0L120.2 139.9L117.7 139.7zM126.7 138.7L126.7 141.7L124.4 140.7zM169.4 146.6L166.5 145.6L168.2 143.7zM168.1 138.5L170.8 139.9L168.8 141.5zM173.4 138.8L176.3 140.0L174.5 141.7zM205.9 137.0L207.6 139.5L205.1 139.9zM211.9 137.3L213.6 139.9L211.1 140.2zM219.7 138.5L220.3 141.5L217.9 141.0zM225.3 138.2L226.1 141.2L223.6 140.8zM230.1 137.9L231.5 140.6L229.0 140.7zM235.0 137.3L236.8 139.7L234.4 140.3zM239.0 139.2L241.7 140.6L239.8 142.2zM244.0 140.2L247.0 140.9L245.5 142.9zM262.3 138.6L265.0 140.1L263.0 141.5zM76.8 142.8L78.4 145.4L75.9 145.7zM108.2 142.9L108.9 145.9L106.4 145.4zM128.3 144.2L127.6 147.2L125.6 145.7zM147.0 143.6L148.8 146.1L146.4 146.6zM152.1 143.6L154.2 145.8L151.8 146.6zM157.3 144.1L159.7 146.0L157.5 147.2zM161.4 145.3L164.4 146.2L162.7 148.0zM210.0 143.5L212.4 145.4L210.1 146.6zM217.1 144.1L219.1 146.4L216.8 147.2zM222.4 143.5L224.6 145.7L222.3 146.6zM227.1 144.2L229.7 145.8L227.6 147.2zM261.3 145.6L264.2 146.3L262.7 148.3zM119.4 148.7L120.4 151.6L117.9 151.3zM127.0 149.5L127.0 152.6L124.7 151.6zM133.6 150.2L133.1 153.2L131.1 151.8zM139.5 150.8L138.8 153.8L136.8 152.3zM144.2 149.7L144.4 152.7L142.1 151.8zM149.1 148.8L149.9 151.8L147.4 151.4zM154.1 148.6L155.3 151.4L152.8 151.4zM156.1 150.9L158.9 152.1L157.1 153.8zM161.8 150.1L164.5 151.5L162.6 153.1zM214.0 151.3L217.0 152.0L215.5 154.0zM226.1 150.4L228.9 151.5L227.1 153.3zM262.1 150.0L264.8 151.5L262.8 153.0zM76.5 154.7L78.2 157.2L75.7 157.7zM125.4 155.2L126.2 158.1L123.8 157.8zM130.6 155.3L131.8 158.1L129.3 158.0zM156.4 155.6L159.0 157.3L156.9 158.7zM161.2 157.7L164.2 158.3L162.8 160.3zM168.4 156.3L171.0 157.8L169.0 159.3zM172.6 157.4L175.6 158.0L174.2 160.1zM226.4 156.4L229.2 157.7L227.4 159.3zM233.0 156.0L235.6 157.6L233.6 159.0z" fill="#ffa014" stroke="#ffa014" stroke-width="0.5"/>
<path d="M82.3 13.1L84.1 23.5M88.4 12.2L89.9 24.4M94.8 13.0L95.5 23.6M102.2 12.8L100.5 23.8M105.5 12.1L107.9 24.5M113.4 12.8L112.5 23.8M118.0 12.5L119.2 24.1M125.7 12.1L123.9 24.6M130.9 13.2L130.3 23.4M148.0 13.1L148.2 23.5M75.7 19.2L78.7 29.3M83.4 19.0L83.5 29.4M87.9 18.5L90.2 29.9M96.3 19.2L94.6 29.2M100.7 18.8L101.3 29.6M106.5 17.9L107.3 30.5M111.6 19.0L113.6 29.4M118.1 18.0L119.2 30.4M125.3 18.1L124.2 30.2M131.4 19.1L130.0 29.3M82.3 25.1L84.1 35.0M101.3 24.3L101.0 35.9M106.6 23.7L107.2 36.4M113.6 24.5L112.4 35.6M117.2 23.9L119.7 36.2M124.1 24.6L124.9 35.5M130.5 24.3L130.5 35.8M113.4 30.7L112.6 41.2M118.2 30.3L119.1 41.6M125.1 30.5L124.4 41.4M129.5 30.9L131.1 41.0M120.1 36.1L117.9 47.6M124.4 35.6L124.7 48.0M129.4 36.5L131.2 47.1M133.2 36.8L138.3 47.1M83.9 44.3L92.7 52.0M117.7 42.2L119.4 53.2M124.3 42.1L124.8 53.3M128.4 42.5L131.7 53.0M133.5 42.8L138.1 52.9M85.3 48.8L91.8 58.8M90.7 50.1L97.8 57.8M130.3 47.7L130.6 59.5M131.8 49.2L139.2 58.6M85.9 54.9L91.3 64.4M89.8 55.7L98.7 64.1M96.3 55.9L104.0 63.8M102.2 56.2L109.8 63.6M133.8 54.5L137.9 64.6M91.2 61.3L97.6 70.0M95.7 61.4L104.5 70.1M90.1 67.0L98.4 76.2M95.9 67.3L104.3 75.9M85.0 73.8L91.8 81.2M89.0 74.3L99.1 81.1M95.4 74.1L104.6 81.2M271.8 80.9L262.3 77.1M79.3 79.4L85.8 87.2M84.4 79.2L92.3 87.5M90.7 78.2L98.1 88.3M96.3 78.9L104.1 87.8M100.7 80.9L110.8 86.5M272.7 86.3L261.5 83.2M79.7 84.7L85.7 93.5M84.2 85.9L92.3 92.8M90.7 83.9L98.1 94.3M96.2 84.9L104.1 93.6M101.9 85.9L110.0 92.8M72.5 91.1L80.7 99.2M78.9 91.0L86.2 99.2M84.6 90.5L92.3 99.6M90.7 90.6L98.0 99.5M95.6 91.4L104.5 99.0M270.6 101.2L262.8 93.1M41.2 101.1L52.4 102.6M47.9 100.2L57.5 103.0M54.5 98.6L63.0 103.9M60.9 97.3L68.7 104.8M66.2 97.8L75.0 104.5M72.8 97.5L80.3 104.6M78.7 97.1L86.3 104.9M85.0 96.0L92.0 105.7M91.1 96.7L97.6 105.1M96.1 97.6L104.0 104.6M265.7 106.3L256.2 99.4M271.4 106.1L262.4 99.6M41.6 103.6L52.4 110.6M48.7 103.2L57.4 110.8M54.8 103.4L63.0 110.5M60.6 103.2L69.0 110.7M67.5 102.7L74.2 110.9M72.3 103.8L80.6 110.3M264.8 112.8L256.9 105.0M270.8 113.2L262.6 104.6M48.4 108.6L57.7 117.1M54.4 109.2L63.3 116.6M61.0 108.1L68.9 117.4M67.8 108.2L74.0 117.0M269.9 118.9L263.3 110.8M54.7 114.4L63.2 122.9M62.1 113.5L68.1 123.4M67.9 114.4L73.8 122.6M270.8 124.9L262.6 116.4M54.0 117.6L54.1 130.7M57.8 119.0L61.2 129.4M271.4 129.2L262.4 123.4M53.4 123.5L54.5 136.6M56.8 125.0L61.9 135.4M58.7 144.4L60.7 132.9M63.6 144.1L67.2 133.1M71.1 143.9L72.1 133.5M203.1 143.5L199.9 133.8M265.2 141.0L256.8 135.2M61.5 150.6L59.0 138.5M65.8 150.2L65.8 139.0M71.0 150.2L72.1 138.9M94.7 149.6L95.5 139.5M114.1 150.0L112.1 139.1M187.6 148.8L180.9 139.8M195.4 147.4L185.5 140.6M199.9 147.9L192.5 140.5M205.8 147.6L198.4 140.7M258.8 148.1L251.1 140.3M264.6 147.5L257.2 140.8M60.7 156.7L59.5 144.2M65.6 156.3L65.9 144.6M71.2 155.6L72.0 145.3M82.9 155.9L83.8 145.0M90.5 156.5L88.6 144.4M95.7 155.5L94.9 145.4M101.0 155.8L101.2 145.1M113.5 155.7L112.5 145.2M116.8 155.3L119.9 145.5M175.9 154.1L169.2 146.2M182.6 154.0L174.5 146.1M188.0 154.2L180.7 146.0M194.5 153.9L186.1 146.1M200.2 154.7L192.1 145.5M206.6 153.6L197.7 146.3M212.5 153.9L203.5 146.1M240.2 154.5L234.1 145.9M247.2 153.1L239.4 146.8M253.5 153.6L244.9 146.3M258.5 154.6L251.2 145.7M263.9 154.2L257.5 146.1M59.1 161.7L60.4 150.9M64.7 161.9L66.5 150.7M70.7 162.2L72.3 150.5M76.4 162.0L78.3 150.6M84.1 161.5L83.1 151.2M90.5 161.5L88.7 151.2M95.4 162.1L95.1 150.6M101.6 162.5L100.8 150.2M107.9 161.9L106.4 150.8M112.6 161.8L113.0 150.8M176.2 159.7L169.1 152.2M183.3 158.9L174.1 152.5M187.3 160.3L181.2 151.9M194.2 159.5L186.5 152.3M199.7 160.4L192.5 151.7M205.4 160.9L198.4 151.2M212.5 158.6L203.7 152.8M217.2 159.9L210.3 152.1M228.3 160.1L222.5 152.0M242.3 159.0L232.7 152.5M248.1 158.8L238.7 152.6M254.3 159.3L244.2 152.2M259.7 159.2L250.5 152.4M264.8 159.2L257.1 152.5M59.5 167.7L60.2 156.7M65.3 167.7L66.1 156.7M72.0 167.7L71.5 156.7M83.6 167.5L83.4 157.0M90.4 167.5L88.7 156.9M96.2 168.2L94.6 156.3M100.8 168.3L101.3 156.1M106.9 168.3L107.0 156.1M111.7 167.7L113.5 156.7M119.9 168.0L118.0 156.4M135.1 167.3L137.1 157.1M142.2 167.5L142.3 157.0M148.2 167.9L148.1 156.5M156.7 167.5L152.4 156.7M189.0 165.3L180.0 158.1M195.7 165.0L185.2 158.2M200.8 165.3L191.8 158.1M205.4 166.6L198.4 157.3M212.1 166.6L203.6 157.1M217.3 166.5L210.1 157.4M223.5 165.7L215.9 157.9M229.4 165.7L221.8 157.9M246.5 166.7L239.6 157.2M253.2 165.6L245.0 157.9M260.1 165.5L250.1 157.9M265.5 164.8L256.5 158.4" stroke="#ff1010" stroke-width="1.05" fill="none"/>
<path d="M84.6 26.3L82.9 23.7L85.4 23.3zM90.3 27.2L88.7 24.6L91.2 24.3zM95.6 26.4L94.2 23.7L96.7 23.6zM100.0 26.6L99.2 23.6L101.7 24.0zM108.4 27.3L106.7 24.8L109.1 24.3zM112.3 26.6L111.3 23.7L113.8 23.9zM119.5 26.9L118.0 24.3L120.5 24.0zM123.6 27.3L122.7 24.4L125.2 24.7zM130.1 26.2L129.0 23.3L131.5 23.5zM148.2 26.3L146.9 23.5L149.4 23.4zM79.5 31.9L77.5 29.6L79.9 28.9zM83.5 32.2L82.2 29.4L84.7 29.4zM90.7 32.6L89.0 30.1L91.4 29.6zM94.1 31.9L93.4 29.0L95.8 29.4zM101.5 32.4L100.1 29.7L102.6 29.5zM107.5 33.3L106.1 30.6L108.6 30.4zM114.1 32.1L112.4 29.6L114.8 29.2zM119.4 33.2L117.9 30.5L120.4 30.3zM123.9 33.0L122.9 30.1L125.4 30.4zM129.6 32.0L128.8 29.1L131.2 29.4zM84.6 37.8L82.9 35.2L85.3 34.8zM100.9 38.7L99.7 35.8L102.2 35.9zM107.3 39.2L106.0 36.4L108.5 36.3zM112.2 38.4L111.2 35.5L113.7 35.7zM120.3 39.0L118.5 36.5L121.0 36.0zM125.1 38.3L123.7 35.6L126.2 35.4zM130.5 38.6L129.2 35.8L131.7 35.8zM112.4 44.0L111.3 41.1L113.8 41.3zM119.3 44.4L117.8 41.7L120.3 41.5zM124.2 44.2L123.1 41.3L125.6 41.5zM131.5 43.7L129.8 41.2L132.3 40.8zM117.4 50.3L116.7 47.3L119.2 47.8zM124.8 50.8L123.5 48.1L126.0 48.0zM131.6 49.9L129.9 47.3L132.4 46.9zM139.5 49.7L137.2 47.7L139.4 46.6zM94.8 53.9L91.8 53.0L93.5 51.1zM119.8 56.0L118.2 53.4L120.6 53.0zM125.0 56.1L123.6 53.3L126.1 53.2zM132.6 55.7L130.5 53.4L132.9 52.6zM139.3 55.4L137.0 53.4L139.2 52.3zM93.4 61.1L90.8 59.5L92.9 58.1zM99.7 59.9L96.9 58.6L98.7 57.0zM130.7 62.3L129.4 59.5L131.9 59.5zM141.0 60.7L138.3 59.3L140.2 57.8zM92.7 66.8L90.3 65.0L92.4 63.7zM100.7 66.1L97.8 65.0L99.5 63.2zM105.9 65.9L103.0 64.7L104.9 63.0zM111.8 65.5L108.9 64.5L110.6 62.7zM138.9 67.2L136.7 65.1L139.0 64.1zM99.3 72.2L96.6 70.7L98.6 69.2zM106.5 72.1L103.6 71.0L105.4 69.2zM100.3 78.2L97.5 77.0L99.4 75.3zM106.3 77.9L103.4 76.8L105.2 75.1zM93.7 83.2L90.8 82.0L92.7 80.3zM101.4 82.7L98.4 82.2L99.8 80.1zM106.8 82.9L103.8 82.2L105.4 80.2zM259.7 76.1L262.7 76.0L261.8 78.3zM87.7 89.3L84.9 88.0L86.8 86.4zM94.3 89.6L91.4 88.4L93.2 86.7zM99.7 90.5L97.1 89.0L99.1 87.5zM105.9 89.9L103.1 88.6L105.0 86.9zM113.3 87.9L110.2 87.6L111.4 85.4zM258.8 82.5L261.8 82.0L261.2 84.4zM87.2 95.9L84.6 94.2L86.7 92.8zM94.5 94.6L91.5 93.8L93.1 91.9zM99.7 96.6L97.1 95.0L99.1 93.6zM106.0 95.7L103.2 94.4L105.0 92.7zM112.1 94.7L109.1 93.8L110.8 91.9zM82.7 101.1L79.8 100.1L81.5 98.3zM88.0 101.3L85.2 100.0L87.1 98.4zM94.1 101.7L91.3 100.4L93.2 98.8zM99.8 101.7L97.0 100.3L99.0 98.7zM106.6 100.9L103.6 100.0L105.3 98.1zM260.9 91.1L263.7 92.3L261.9 94.0zM55.2 102.9L52.2 103.8L52.5 101.3zM60.2 103.8L57.2 104.2L57.9 101.8zM65.4 105.4L62.3 105.0L63.7 102.9zM70.7 106.7L67.8 105.7L69.6 103.9zM77.2 106.2L74.3 105.5L75.8 103.5zM82.4 106.5L79.5 105.5L81.2 103.7zM88.2 106.9L85.4 105.8L87.2 104.1zM93.7 108.0L91.0 106.5L93.0 105.0zM99.4 107.3L96.6 105.9L98.6 104.4zM106.1 106.5L103.2 105.6L104.9 103.7zM254.0 97.8L257.0 98.4L255.5 100.4zM260.1 97.9L263.1 98.5L261.6 100.6zM54.7 112.2L51.7 111.7L53.1 109.6zM59.5 112.6L56.5 111.7L58.2 109.8zM65.1 112.4L62.2 111.5L63.8 109.6zM71.0 112.6L68.1 111.6L69.8 109.8zM75.9 113.1L73.2 111.7L75.1 110.2zM82.8 112.0L79.9 111.2L81.4 109.3zM254.9 103.0L257.8 104.1L256.1 105.9zM260.7 102.6L263.5 103.8L261.7 105.5zM59.7 119.0L56.8 118.0L58.5 116.1zM65.4 118.4L62.5 117.5L64.1 115.6zM70.7 119.5L67.9 118.2L69.8 116.6zM75.6 119.3L73.0 117.8L75.0 116.3zM261.6 108.7L264.3 110.0L262.4 111.6zM65.2 124.9L62.3 123.8L64.1 122.0zM69.5 125.8L67.0 124.1L69.1 122.8zM75.5 124.9L72.8 123.3L74.8 121.9zM260.7 114.4L263.5 115.6L261.7 117.3zM54.1 133.5L52.9 130.7L55.4 130.6zM62.1 132.1L60.0 129.8L62.4 129.0zM260.1 121.8L263.1 122.3L261.7 124.4zM54.8 139.3L53.3 136.7L55.8 136.4zM63.1 137.9L60.8 135.9L63.0 134.8zM61.2 130.2L61.9 133.1L59.5 132.7zM68.1 130.5L68.4 133.5L66.0 132.7zM72.3 130.7L73.3 133.6L70.8 133.4zM199.1 131.1L201.1 133.4L198.7 134.2zM254.5 133.6L257.5 134.2L256.1 136.3zM58.4 135.8L60.2 138.3L57.7 138.8zM65.8 136.2L67.1 139.0L64.6 139.0zM72.4 136.1L73.4 139.0L70.9 138.8zM95.8 136.7L96.8 139.6L94.3 139.4zM111.6 136.4L113.3 138.9L110.9 139.4zM179.2 137.6L181.9 139.1L179.9 140.6zM183.2 139.0L186.2 139.5L184.8 141.6zM190.5 138.5L193.4 139.6L191.6 141.4zM196.3 138.8L199.2 139.8L197.5 141.6zM249.2 138.3L252.0 139.4L250.2 141.2zM255.1 138.9L258.0 139.8L256.3 141.7zM59.2 141.4L60.7 144.1L58.2 144.3zM66.0 141.8L67.2 144.6L64.7 144.5zM72.2 142.5L73.2 145.4L70.7 145.2zM84.0 142.2L85.0 145.1L82.5 144.9zM88.2 141.6L89.9 144.2L87.4 144.6zM94.7 142.6L96.2 145.3L93.7 145.5zM101.2 142.3L102.4 145.1L99.9 145.1zM112.2 142.4L113.7 145.1L111.2 145.3zM120.7 142.9L121.0 145.9L118.7 145.2zM167.4 144.1L170.2 145.4L168.3 147.0zM172.5 144.1L175.3 145.2L173.6 147.0zM178.8 144.0L181.6 145.2L179.8 146.9zM184.1 144.2L187.0 145.2L185.3 147.0zM190.2 143.4L193.0 144.7L191.1 146.3zM195.5 144.5L198.5 145.3L196.9 147.3zM201.4 144.2L204.4 145.1L202.7 147.0zM232.5 143.7L235.1 145.2L233.1 146.7zM237.2 145.0L240.2 145.8L238.6 147.7zM242.7 144.5L245.7 145.4L244.0 147.3zM249.4 143.5L252.2 144.9L250.2 146.5zM255.8 143.9L258.5 145.4L256.6 146.9zM60.8 148.1L61.7 151.1L59.2 150.8zM67.0 148.0L67.8 150.9L65.3 150.5zM72.7 147.7L73.6 150.6L71.1 150.3zM78.8 147.8L79.5 150.8L77.1 150.4zM82.8 148.4L84.3 151.0L81.9 151.3zM88.2 148.4L89.9 150.9L87.5 151.4zM95.0 147.8L96.3 150.6L93.8 150.6zM100.6 147.4L102.0 150.1L99.5 150.3zM106.0 148.0L107.6 150.6L105.2 150.9zM113.1 148.0L114.2 150.9L111.7 150.8zM167.1 150.2L170.0 151.3L168.2 153.1zM171.8 150.9L174.8 151.5L173.4 153.6zM179.5 149.6L182.2 151.1L180.2 152.6zM184.4 150.4L187.3 151.4L185.6 153.2zM190.7 149.5L193.4 150.9L191.5 152.5zM196.8 148.9L199.4 150.5L197.4 151.9zM201.4 151.2L204.4 151.8L203.0 153.8zM208.4 150.0L211.2 151.3L209.3 152.9zM220.8 149.7L223.5 151.3L221.4 152.7zM230.4 150.9L233.4 151.5L232.0 153.5zM236.3 151.1L239.4 151.6L238.0 153.7zM241.9 150.5L244.9 151.2L243.5 153.2zM248.3 150.7L251.3 151.4L249.8 153.4zM255.0 150.7L257.9 151.6L256.3 153.5zM60.4 153.9L61.5 156.8L59.0 156.6zM66.3 153.9L67.4 156.8L64.9 156.6zM71.4 153.9L72.8 156.7L70.3 156.8zM83.3 154.2L84.6 157.0L82.1 157.0zM88.2 154.1L89.9 156.7L87.5 157.1zM94.2 153.5L95.8 156.1L93.4 156.4zM101.4 153.3L102.5 156.2L100.0 156.1zM107.0 153.3L108.3 156.1L105.8 156.1zM114.0 153.9L114.8 156.9L112.3 156.5zM117.6 153.7L119.3 156.2L116.8 156.6zM137.7 154.3L138.3 157.3L135.9 156.8zM142.3 154.2L143.5 157.0L141.0 156.9zM148.1 153.7L149.4 156.5L146.9 156.5zM151.3 154.1L153.5 156.2L151.2 157.2zM177.8 156.3L180.8 157.1L179.2 159.0zM182.9 156.6L185.9 157.1L184.5 159.2zM189.6 156.3L192.5 157.1L191.0 159.0zM196.7 155.0L199.4 156.5L197.4 158.0zM201.8 155.0L204.6 156.3L202.7 158.0zM208.3 155.2L211.0 156.6L209.1 158.1zM213.9 155.9L216.8 157.1L215.0 158.8zM219.8 155.9L222.7 157.1L220.9 158.8zM237.9 154.9L240.6 156.5L238.6 157.9zM243.0 156.0L245.9 157.0L244.2 158.9zM247.8 156.2L250.8 156.9L249.3 158.9zM254.3 156.8L257.3 157.4L255.8 159.5z" fill="#ff1010" stroke="#ff1010" stroke-width="0.5"/>
<path d="M34.1 106.8L47.7 108.6M50.9 111.3L56.2 125.4M54.1 145.4L54.1 132.0M52.8 151.5L54.9 137.7M54.1 157.4L54.1 143.5M53.7 163.3L54.3 149.4M52.6 169.0L55.0 155.4" stroke="#b40a0a" stroke-width="1.05" fill="none"/>
<path d="M50.5 109.0L47.6 109.9L47.9 107.4zM57.2 128.0L55.0 125.8L57.4 124.9zM54.1 129.2L55.3 132.0L52.8 132.0zM55.3 134.9L56.1 137.8L53.6 137.5zM54.1 140.7L55.3 143.5L52.8 143.5zM54.4 146.6L55.6 149.5L53.1 149.3zM55.5 152.7L56.3 155.7L53.8 155.2z" fill="#b40a0a" stroke="#b40a0a" stroke-width="0.5"/>
<path d="M38.9 103.4L44.8 121.5M41.8 105.5L52.8 119.9M44.7 109.3L50.8 127.4M45.7 115.0L50.0 133.3M43.9 121.6L41.1 138.4M47.8 120.9L48.4 139.1M47.4 126.4L48.7 145.4M50.3 132.7L46.6 150.9M47.3 138.3L48.8 157.0M40.4 144.6L43.7 162.5M46.5 145.1L49.4 162.0M49.3 150.1L47.4 168.7" stroke="#f514f5" stroke-width="1.05" fill="none"/>
<path d="M45.7 124.2L43.6 121.9L46.0 121.2zM54.5 122.1L51.8 120.6L53.8 119.1zM51.7 130.0L49.6 127.8L52.0 127.0zM50.7 136.0L48.8 133.6L51.3 133.0zM40.7 141.2L39.9 138.2L42.4 138.7zM48.5 141.9L47.2 139.2L49.7 139.1zM48.9 148.2L47.5 145.5L50.0 145.3zM46.1 153.6L45.4 150.6L47.9 151.1zM49.0 159.8L47.6 157.1L50.1 156.9zM44.2 165.2L42.4 162.7L44.9 162.3zM49.8 164.8L48.1 162.2L50.6 161.8zM47.1 171.5L46.1 168.6L48.6 168.9z" fill="#f514f5" stroke="#f514f5" stroke-width="0.5"/>
<path d="M42.7 107.9L42.0 128.6M43.7 114.0L41.2 134.3M40.0 126.0L44.0 145.8M40.4 131.9L43.7 151.7M42.7 137.3L42.0 158.1M43.3 148.8L41.6 170.1" stroke="#a064d2" stroke-width="1.05" fill="none"/>
<path d="M41.9 131.4L40.7 128.6L43.2 128.7zM40.9 137.1L40.0 134.2L42.5 134.5zM44.6 148.6L42.8 146.1L45.3 145.6zM44.2 154.4L42.5 151.9L44.9 151.5zM41.9 160.9L40.8 158.0L43.3 158.1zM41.3 172.9L40.3 170.0L42.8 170.2z" fill="#a064d2" stroke="#a064d2" stroke-width="0.5"/>
</g>
<clipPath id="cpb"><rect x="313.60" y="18.30" width="227.6" height="145.0"/></clipPath>
<g clip-path="url(#cpb)">
<g filter="url(#tblur)"><rect x="305.6" y="10.3" width="243.6" height="161.0" fill="rgb(190,190,190)"/><ellipse cx="428.6" cy="118.3" rx="92" ry="40" fill="rgb(136,136,136)"/><ellipse cx="453.6" cy="43.3" rx="90" ry="25" fill="rgb(200,200,200)"/><ellipse cx="488.6" cy="78.3" rx="45" ry="20" fill="rgb(182,182,182)"/><ellipse cx="498.6" cy="123.3" rx="45" ry="25" fill="rgb(165,165,165)"/><ellipse cx="331.6" cy="73.3" rx="26" ry="18" fill="rgb(245,245,245)"/><ellipse cx="314.6" cy="123.3" rx="7" ry="40" fill="rgb(238,238,238)"/><ellipse cx="341.6" cy="42.3" rx="24" ry="10" fill="rgb(218,218,218)"/><ellipse cx="373.6" cy="24.3" rx="16" ry="9" fill="rgb(232,232,232)"/><ellipse cx="498.6" cy="159.3" rx="40" ry="9" fill="rgb(235,235,235)"/><ellipse cx="535.6" cy="155.3" rx="14" ry="14" fill="rgb(245,245,245)"/><ellipse cx="476.6" cy="156.3" rx="18" ry="8" fill="rgb(232,232,232)"/><ellipse cx="524.6" cy="68.3" rx="16" ry="11" fill="rgb(215,215,215)"/><ellipse cx="530.6" cy="74.3" rx="6" ry="4" fill="rgb(235,235,235)"/><ellipse cx="398.6" cy="139.3" rx="11" ry="8" fill="rgb(212,212,212)"/><ellipse cx="503.6" cy="28.3" rx="30" ry="10" fill="rgb(205,205,205)"/><ellipse cx="378.6" cy="54.3" rx="15" ry="9" fill="rgb(188,188,188)"/><ellipse cx="373.6" cy="50.3" rx="6" ry="4" fill="rgb(170,170,170)"/><ellipse cx="401.6" cy="62.3" rx="17" ry="8" fill="rgb(170,170,170)"/><ellipse cx="396.6" cy="64.3" rx="8" ry="5" fill="rgb(150,150,150)"/><ellipse cx="503.6" cy="54.3" rx="12" ry="7" fill="rgb(178,178,178)"/><ellipse cx="433.6" cy="78.3" rx="20" ry="15" fill="rgb(150,150,150)"/><ellipse cx="528.6" cy="98.3" rx="15" ry="14" fill="rgb(180,180,180)"/><ellipse cx="489.6" cy="98.3" rx="14" ry="9" fill="rgb(172,172,172)"/><ellipse cx="457.6" cy="82.3" rx="8" ry="7" fill="rgb(150,150,150)"/><ellipse cx="341.6" cy="98.3" rx="20" ry="7" fill="rgb(170,170,170)"/><ellipse cx="426.6" cy="147.3" rx="15" ry="10" fill="rgb(140,140,140)"/><ellipse cx="445.6" cy="130.3" rx="9" ry="7" fill="rgb(160,160,160)"/><ellipse cx="483.6" cy="118.3" rx="11" ry="13" fill="rgb(165,165,165)"/><ellipse cx="344.6" cy="137.3" rx="18" ry="14" fill="rgb(132,132,132)"/><ellipse cx="365.6" cy="150.3" rx="10" ry="12" fill="rgb(165,165,165)"/><ellipse cx="321.6" cy="131.3" rx="8" ry="10" fill="rgb(180,180,180)"/><ellipse cx="384.6" cy="86.3" rx="13" ry="8" fill="rgb(120,120,120)"/><ellipse cx="386.6" cy="88.3" rx="5" ry="4" fill="rgb(80,80,80)"/><ellipse cx="370.6" cy="106.3" rx="8" ry="5" fill="rgb(120,120,120)"/><ellipse cx="383.6" cy="116.3" rx="11" ry="7" fill="rgb(85,85,85)"/><ellipse cx="383.6" cy="117.3" rx="6" ry="4" fill="rgb(55,55,55)"/><ellipse cx="417.6" cy="104.3" rx="9" ry="7" fill="rgb(100,100,100)"/><ellipse cx="433.6" cy="92.3" rx="12" ry="6" fill="rgb(105,105,105)"/><ellipse cx="439.6" cy="91.3" rx="7" ry="6" fill="rgb(60,60,60)"/><ellipse cx="467.6" cy="105.3" rx="7" ry="9" fill="rgb(90,90,90)"/><ellipse cx="468.6" cy="107.3" rx="4" ry="4" fill="rgb(55,55,55)"/><ellipse cx="473.6" cy="68.3" rx="8" ry="7" fill="rgb(150,150,150)"/><ellipse cx="474.6" cy="68.3" rx="4" ry="4" fill="rgb(90,90,90)"/><ellipse cx="360.6" cy="144.3" rx="8" ry="12" fill="rgb(115,115,115)"/><ellipse cx="344.6" cy="140.3" rx="9" ry="7" fill="rgb(105,105,105)"/><ellipse cx="451.6" cy="78.3" rx="6" ry="5" fill="rgb(130,130,130)"/><ellipse cx="487.6" cy="138.3" rx="13" ry="5" fill="rgb(115,115,115)"/><ellipse cx="510.6" cy="138.3" rx="9" ry="5" fill="rgb(140,140,140)"/><ellipse cx="435.6" cy="153.3" rx="7" ry="7" fill="rgb(130,130,130)"/><ellipse cx="417.6" cy="108.3" rx="6" ry="4" fill="rgb(75,75,75)"/><ellipse cx="401.6" cy="110.3" rx="5" ry="3" fill="rgb(110,110,110)"/><ellipse cx="425.6" cy="98.3" rx="5" ry="3" fill="rgb(100,100,100)"/><ellipse cx="450.6" cy="94.3" rx="5" ry="4" fill="rgb(105,105,105)"/><ellipse cx="456.6" cy="108.3" rx="4" ry="3" fill="rgb(110,110,110)"/><ellipse cx="479.6" cy="113.3" rx="5" ry="4" fill="rgb(120,120,120)"/><ellipse cx="493.6" cy="126.3" rx="6" ry="4" fill="rgb(130,130,130)"/><ellipse cx="358.6" cy="118.3" rx="5" ry="4" fill="rgb(130,130,130)"/><ellipse cx="333.6" cy="146.3" rx="5" ry="4" fill="rgb(120,120,120)"/><ellipse cx="373.6" cy="136.3" rx="5" ry="4" fill="rgb(130,130,130)"/><ellipse cx="408.6" cy="148.3" rx="5" ry="4" fill="rgb(140,140,140)"/><ellipse cx="453.6" cy="138.3" rx="5" ry="4" fill="rgb(135,135,135)"/><ellipse cx="518.6" cy="118.3" rx="5" ry="4" fill="rgb(150,150,150)"/><ellipse cx="453.2" cy="135.6" rx="4.1" ry="3.4" fill="rgb(120,120,120)"/><ellipse cx="421.7" cy="151.8" rx="3.8" ry="3.4" fill="rgb(98,98,98)"/><ellipse cx="422.4" cy="96.0" rx="3.6" ry="2.9" fill="rgb(95,95,95)"/><ellipse cx="371.9" cy="98.7" rx="4.3" ry="3.1" fill="rgb(100,100,100)"/><ellipse cx="452.1" cy="86.4" rx="2.5" ry="3.3" fill="rgb(102,102,102)"/><ellipse cx="503.1" cy="99.4" rx="4.4" ry="2.8" fill="rgb(118,118,118)"/><ellipse cx="400.8" cy="89.6" rx="2.8" ry="2.1" fill="rgb(105,105,105)"/><ellipse cx="464.2" cy="103.3" rx="3.1" ry="3.2" fill="rgb(111,111,111)"/><ellipse cx="391.8" cy="114.8" rx="3.9" ry="2.1" fill="rgb(129,129,129)"/><ellipse cx="486.1" cy="105.6" rx="3.7" ry="2.0" fill="rgb(96,96,96)"/><ellipse cx="367.9" cy="136.8" rx="4.4" ry="3.4" fill="rgb(107,107,107)"/><ellipse cx="399.6" cy="118.3" rx="4.1" ry="2.2" fill="rgb(121,121,121)"/><ellipse cx="488.0" cy="145.1" rx="2.6" ry="3.4" fill="rgb(98,98,98)"/><ellipse cx="396.7" cy="125.2" rx="4.3" ry="2.5" fill="rgb(127,127,127)"/><ellipse cx="437.6" cy="101.3" rx="3.1" ry="2.3" fill="rgb(97,97,97)"/><ellipse cx="358.4" cy="131.4" rx="4.5" ry="2.2" fill="rgb(96,96,96)"/><ellipse cx="409.8" cy="95.3" rx="3.7" ry="3.2" fill="rgb(110,110,110)"/><ellipse cx="427.3" cy="143.4" rx="2.8" ry="3.1" fill="rgb(128,128,128)"/><ellipse cx="454.7" cy="139.3" rx="2.7" ry="2.7" fill="rgb(100,100,100)"/><ellipse cx="497.5" cy="99.9" rx="3.4" ry="3.5" fill="rgb(124,124,124)"/><ellipse cx="426.2" cy="134.7" rx="3.5" ry="2.4" fill="rgb(109,109,109)"/><ellipse cx="357.9" cy="106.5" rx="4.5" ry="3.4" fill="rgb(116,116,116)"/><ellipse cx="428.5" cy="103.4" rx="2.7" ry="2.4" fill="rgb(122,122,122)"/><ellipse cx="502.1" cy="105.2" rx="4.1" ry="3.2" fill="rgb(119,119,119)"/><ellipse cx="461.4" cy="137.1" rx="3.2" ry="3.1" fill="rgb(104,104,104)"/><ellipse cx="425.7" cy="137.9" rx="3.9" ry="2.4" fill="rgb(128,128,128)"/><ellipse cx="458.5" cy="122.8" rx="2.5" ry="2.8" fill="rgb(103,103,103)"/><ellipse cx="462.9" cy="113.3" rx="4.1" ry="3.0" fill="rgb(122,122,122)"/><ellipse cx="398.2" cy="127.8" rx="4.0" ry="3.2" fill="rgb(107,107,107)"/><ellipse cx="434.5" cy="89.6" rx="4.2" ry="3.4" fill="rgb(111,111,111)"/><ellipse cx="466.9" cy="133.9" rx="4.0" ry="2.3" fill="rgb(122,122,122)"/><ellipse cx="444.8" cy="129.5" rx="3.3" ry="2.9" fill="rgb(122,122,122)"/><ellipse cx="456.0" cy="133.9" rx="2.6" ry="2.2" fill="rgb(110,110,110)"/><ellipse cx="458.6" cy="93.8" rx="3.9" ry="2.9" fill="rgb(96,96,96)"/><ellipse cx="422.9" cy="94.4" rx="2.6" ry="2.2" fill="rgb(106,106,106)"/><ellipse cx="404.7" cy="125.2" rx="3.7" ry="2.4" fill="rgb(126,126,126)"/><ellipse cx="384.3" cy="109.1" rx="2.7" ry="3.2" fill="rgb(108,108,108)"/><ellipse cx="347.6" cy="119.9" rx="3.2" ry="2.9" fill="rgb(128,128,128)"/><ellipse cx="492.3" cy="109.8" rx="4.1" ry="3.0" fill="rgb(107,107,107)"/><ellipse cx="357.0" cy="124.0" rx="3.6" ry="3.4" fill="rgb(128,128,128)"/><ellipse cx="450.3" cy="104.4" rx="4.3" ry="2.0" fill="rgb(98,98,98)"/><ellipse cx="441.8" cy="125.5" rx="2.8" ry="2.9" fill="rgb(126,126,126)"/><ellipse cx="403.8" cy="110.8" rx="3.0" ry="2.4" fill="rgb(129,129,129)"/><ellipse cx="404.6" cy="153.2" rx="4.3" ry="2.9" fill="rgb(104,104,104)"/><ellipse cx="411.7" cy="101.8" rx="4.5" ry="2.7" fill="rgb(105,105,105)"/></g>
<polygon points="310.6,15.3 311.6,38.1 313.6,37.9 317.1,37.4 320.6,36.8 324.0,35.5 325.9,33.3 327.6,30.8 330.1,28.5 333.1,26.7 336.1,25.3 339.6,23.8 342.1,22.1 344.1,20.3 346.6,18.9 349.6,19.2 351.6,18.7 352.6,16.3 352.6,15.3" fill="#fff"/>
<polyline points="311.6,38.1 313.6,37.9 317.1,37.4 320.6,36.8 324.0,35.5 325.9,33.3 327.6,30.8 330.1,28.5 333.1,26.7 336.1,25.3 339.6,23.8 342.1,22.1 344.1,20.3 346.6,18.9 349.6,19.2 351.6,18.7 352.6,16.3" fill="none" stroke="#222" stroke-width="1.1"/>
<polyline points="312.6,56.5 320.3,57.2 327.5,57.7 334.6,60.5 341.8,62.4 349.0,64.4 353.8,66.0 355.7,69.6 357.4,74.4 359.8,79.2 360.9,86.4 360.9,93.5 361.7,100.7 360.9,107.9 362.1,115.1 364.4,123.2 369.1,127.8 373.8,131.0 380.0,134.1 383.6,135.8 388.6,135.3 392.6,132.8 396.4,129.8 399.8,127.6 404.6,124.6 409.4,121.6 414.2,119.8 419.0,118.0 423.8,115.0 428.6,112.0 433.1,108.4 437.7,106.4 444.9,102.8 452.0,96.5 457.8,92.2 461.5,88.6 468.0,81.3 473.8,77.6 479.6,76.2 484.0,76.2 488.4,77.6 492.7,82.0 497.1,84.3 504.2,83.5 515.9,80.6 526.2,80.6 542.6,77.6" fill="none" stroke="#f0509a" stroke-width="1.1"/>
<polyline points="501.5,17.3 501.1,22.3 500.4,26.7 497.1,30.0 492.7,31.1 488.3,31.5 483.9,33.3 479.5,34.4 475.1,32.9 470.7,32.2 467.4,34.4 466.3,37.7 464.1,39.9 461.9,44.3 459.7,48.7 456.4,50.9 453.1,47.6 449.8,45.4 446.5,42.1 442.1,41.0 438.8,37.7 436.6,34.4 436.6,42.1 435.5,48.7 433.3,55.3 433.3,59.0 432.6,63.3 434.8,69.1 435.5,72.0 432.6,74.8 428.3,77.0 424.0,78.4 422.6,81.3 421.1,84.1 419.0,88.1 415.4,91.7 411.8,96.5 409.4,98.9 407.1,104.3" fill="none" stroke="#f0509a" stroke-width="1.1"/>
<polyline points="438.1,17.3 438.1,26.3 436.6,34.4" fill="none" stroke="#f0509a" stroke-width="1.1"/>
<polyline points="461.5,88.6 465.9,91.6 468.8,98.2 469.6,102.3" fill="none" stroke="#f0509a" stroke-width="1.1"/>
<text x="430.6" y="60.7" text-anchor="middle" class="lb">BS</text>
<text x="492.0" y="91.8" text-anchor="middle" class="lb">QZ</text>
<text x="444.3" y="133.3" text-anchor="middle" class="lb">WZS</text>
<text x="389.1" y="139.6" text-anchor="middle" class="lb">LD</text>
<text x="471.3" y="154.1" text-anchor="middle" class="lb">BT</text>
<text x="533.6" y="37.9" text-anchor="middle" class="lb">TC</text>
<text x="371.6" y="54.5" text-anchor="middle" class="lb">CJ</text>
<path d="M421.2 19.8h0.01M438.9 19.8h0.01M456.5 19.8h0.01M491.8 19.8h0.01M497.7 19.8h0.01M509.4 19.8h0.01M515.3 19.8h0.01M538.8 19.8h0.01M380.1 25.7h0.01M438.9 25.7h0.01M468.3 25.7h0.01M474.2 25.7h0.01M497.7 25.7h0.01M515.3 25.7h0.01M333.0 31.6h0.01M350.7 31.6h0.01M433.0 31.6h0.01M468.3 31.6h0.01M480.0 31.6h0.01M497.7 31.6h0.01M515.3 31.6h0.01M521.2 31.6h0.01M533.0 31.6h0.01M333.0 37.4h0.01M344.8 37.4h0.01M350.7 37.4h0.01M374.2 37.4h0.01M403.6 37.4h0.01M497.7 37.4h0.01M509.4 37.4h0.01M521.2 37.4h0.01M315.4 43.3h0.01M321.3 43.3h0.01M327.2 43.3h0.01M333.0 43.3h0.01M350.7 43.3h0.01M397.7 43.3h0.01M468.3 43.3h0.01M485.9 43.3h0.01M497.7 43.3h0.01M503.6 43.3h0.01M509.4 43.3h0.01M521.2 43.3h0.01M527.1 43.3h0.01M533.0 43.3h0.01M538.8 43.3h0.01M315.4 49.2h0.01M321.3 49.2h0.01M350.7 49.2h0.01M356.6 49.2h0.01M368.3 49.2h0.01M386.0 49.2h0.01M397.7 49.2h0.01M415.4 49.2h0.01M480.0 49.2h0.01M485.9 49.2h0.01M503.6 49.2h0.01M509.4 49.2h0.01M521.2 49.2h0.01M527.1 49.2h0.01M533.0 49.2h0.01M338.9 55.1h0.01M409.5 55.1h0.01M468.3 55.1h0.01M503.6 55.1h0.01M509.4 55.1h0.01M538.8 55.1h0.01M321.3 61.0h0.01M327.2 61.0h0.01M344.8 61.0h0.01M350.7 61.0h0.01M356.6 61.0h0.01M374.2 61.0h0.01M386.0 61.0h0.01M462.4 61.0h0.01M480.0 61.0h0.01M503.6 61.0h0.01M527.1 61.0h0.01M538.8 61.0h0.01M338.9 66.8h0.01M350.7 66.8h0.01M403.6 66.8h0.01M415.4 66.8h0.01M485.9 66.8h0.01M491.8 66.8h0.01M503.6 66.8h0.01M521.2 66.8h0.01M527.1 66.8h0.01M533.0 66.8h0.01M374.2 72.7h0.01M421.2 72.7h0.01M433.0 72.7h0.01M456.5 72.7h0.01M474.2 72.7h0.01M480.0 72.7h0.01M485.9 72.7h0.01M491.8 72.7h0.01M497.7 72.7h0.01M503.6 72.7h0.01M509.4 72.7h0.01M515.3 72.7h0.01M527.1 72.7h0.01M533.0 72.7h0.01M538.8 72.7h0.01M321.3 78.6h0.01M350.7 78.6h0.01M362.4 78.6h0.01M368.3 78.6h0.01M421.2 78.6h0.01M433.0 78.6h0.01M456.5 78.6h0.01M474.2 78.6h0.01M509.4 78.6h0.01M515.3 78.6h0.01M533.0 78.6h0.01M315.4 84.5h0.01M321.3 84.5h0.01M356.6 84.5h0.01M380.1 84.5h0.01M409.5 84.5h0.01M421.2 84.5h0.01M509.4 84.5h0.01M515.3 84.5h0.01M521.2 84.5h0.01M315.4 90.4h0.01M327.2 90.4h0.01M333.0 90.4h0.01M338.9 90.4h0.01M344.8 90.4h0.01M350.7 90.4h0.01M409.5 90.4h0.01M450.6 90.4h0.01M456.5 90.4h0.01M462.4 90.4h0.01M474.2 90.4h0.01M503.6 90.4h0.01M515.3 90.4h0.01M321.3 96.2h0.01M333.0 96.2h0.01M344.8 96.2h0.01M350.7 96.2h0.01M391.8 96.2h0.01M450.6 96.2h0.01M456.5 96.2h0.01M462.4 96.2h0.01M485.9 96.2h0.01M497.7 96.2h0.01M515.3 96.2h0.01M527.1 96.2h0.01M533.0 96.2h0.01M315.4 102.1h0.01M321.3 102.1h0.01M327.2 102.1h0.01M338.9 102.1h0.01M344.8 102.1h0.01M397.7 102.1h0.01M409.5 102.1h0.01M427.1 102.1h0.01M433.0 102.1h0.01M438.9 102.1h0.01M450.6 102.1h0.01M480.0 102.1h0.01M485.9 102.1h0.01M497.7 102.1h0.01M503.6 102.1h0.01M509.4 102.1h0.01M515.3 102.1h0.01M521.2 102.1h0.01M527.1 102.1h0.01M533.0 102.1h0.01M315.4 108.0h0.01M321.3 108.0h0.01M327.2 108.0h0.01M362.4 108.0h0.01M409.5 108.0h0.01M415.4 108.0h0.01M433.0 108.0h0.01M438.9 108.0h0.01M444.8 108.0h0.01M491.8 108.0h0.01M497.7 108.0h0.01M503.6 108.0h0.01M515.3 108.0h0.01M521.2 108.0h0.01M527.1 108.0h0.01M344.8 113.9h0.01M374.2 113.9h0.01M380.1 113.9h0.01M386.0 113.9h0.01M403.6 113.9h0.01M427.1 113.9h0.01M433.0 113.9h0.01M438.9 113.9h0.01M450.6 113.9h0.01M480.0 113.9h0.01M485.9 113.9h0.01M491.8 113.9h0.01M497.7 113.9h0.01M509.4 113.9h0.01M515.3 113.9h0.01M521.2 113.9h0.01M527.1 113.9h0.01M350.7 119.8h0.01M374.2 119.8h0.01M386.0 119.8h0.01M391.8 119.8h0.01M433.0 119.8h0.01M438.9 119.8h0.01M450.6 119.8h0.01M468.3 119.8h0.01M480.0 119.8h0.01M485.9 119.8h0.01M491.8 119.8h0.01M497.7 119.8h0.01M509.4 119.8h0.01M515.3 119.8h0.01M521.2 119.8h0.01M344.8 125.6h0.01M356.6 125.6h0.01M374.2 125.6h0.01M386.0 125.6h0.01M391.8 125.6h0.01M403.6 125.6h0.01M421.2 125.6h0.01M427.1 125.6h0.01M444.8 125.6h0.01M468.3 125.6h0.01M497.7 125.6h0.01M503.6 125.6h0.01M515.3 125.6h0.01M521.2 125.6h0.01M527.1 125.6h0.01M533.0 125.6h0.01M315.4 131.5h0.01M350.7 131.5h0.01M356.6 131.5h0.01M368.3 131.5h0.01M374.2 131.5h0.01M380.1 131.5h0.01M415.4 131.5h0.01M427.1 131.5h0.01M433.0 131.5h0.01M444.8 131.5h0.01M456.5 131.5h0.01M468.3 131.5h0.01M480.0 131.5h0.01M491.8 131.5h0.01M497.7 131.5h0.01M509.4 131.5h0.01M521.2 131.5h0.01M527.1 131.5h0.01M533.0 131.5h0.01M315.4 137.4h0.01M350.7 137.4h0.01M362.4 137.4h0.01M380.1 137.4h0.01M421.2 137.4h0.01M456.5 137.4h0.01M474.2 137.4h0.01M480.0 137.4h0.01M485.9 137.4h0.01M491.8 137.4h0.01M497.7 137.4h0.01M515.3 137.4h0.01M533.0 137.4h0.01M538.8 137.4h0.01M356.6 143.3h0.01M391.8 143.3h0.01M421.2 143.3h0.01M433.0 143.3h0.01M462.4 143.3h0.01M474.2 143.3h0.01M480.0 143.3h0.01M485.9 143.3h0.01M491.8 143.3h0.01M497.7 143.3h0.01M503.6 143.3h0.01M533.0 143.3h0.01M538.8 143.3h0.01M350.7 149.2h0.01M362.4 149.2h0.01M368.3 149.2h0.01M397.7 149.2h0.01M409.5 149.2h0.01M421.2 149.2h0.01M456.5 149.2h0.01M462.4 149.2h0.01M468.3 149.2h0.01M474.2 149.2h0.01M485.9 149.2h0.01M491.8 149.2h0.01M497.7 149.2h0.01M503.6 149.2h0.01M509.4 149.2h0.01M515.3 149.2h0.01M527.1 149.2h0.01M533.0 149.2h0.01M333.0 155.0h0.01M350.7 155.0h0.01M374.2 155.0h0.01M380.1 155.0h0.01M397.7 155.0h0.01M403.6 155.0h0.01M433.0 155.0h0.01M456.5 155.0h0.01M462.4 155.0h0.01M480.0 155.0h0.01M491.8 155.0h0.01M497.7 155.0h0.01M503.6 155.0h0.01M509.4 155.0h0.01M515.3 155.0h0.01M521.2 155.0h0.01M527.1 155.0h0.01M321.3 160.9h0.01M327.2 160.9h0.01M338.9 160.9h0.01M344.8 160.9h0.01M356.6 160.9h0.01M362.4 160.9h0.01M368.3 160.9h0.01M386.0 160.9h0.01M397.7 160.9h0.01M403.6 160.9h0.01M415.4 160.9h0.01M421.2 160.9h0.01M433.0 160.9h0.01M438.9 160.9h0.01M444.8 160.9h0.01M450.6 160.9h0.01M480.0 160.9h0.01M485.9 160.9h0.01M497.7 160.9h0.01M503.6 160.9h0.01M509.4 160.9h0.01M515.3 160.9h0.01M521.2 160.9h0.01M527.1 160.9h0.01M538.8 160.9h0.01" stroke="#505050" stroke-width="1.4" stroke-linecap="round"/>
<path d="M355.7 20.5L356.4 20.0M379.8 20.6L379.9 20.3M393.1 20.0L391.9 19.8M426.9 18.7L427.1 19.6M432.9 18.8L432.9 19.4M444.1 18.5L444.8 19.9M450.8 18.4L450.6 19.8M475.2 19.4L474.5 19.7M338.6 27.1L338.9 25.6M344.2 26.6L344.6 26.0M399.0 26.2L397.7 25.7M480.7 26.5L480.2 25.9M492.4 26.6L492.0 25.9M527.0 26.7L527.0 26.1M539.5 26.5L539.1 26.0M338.9 32.9L338.9 31.6M343.8 32.0L344.5 31.7M355.5 32.4L356.6 31.6M361.1 32.0L362.5 31.5M386.4 32.6L386.1 31.8M393.2 32.1L391.7 31.5M420.9 30.1L421.3 31.6M427.1 30.4L427.1 31.4M456.5 30.0L456.5 31.7M475.2 32.3L474.2 31.6M492.0 32.7L491.8 31.8M538.9 32.6L538.8 31.9M327.9 38.3L327.3 37.6M338.4 38.4L338.8 37.7M356.1 38.8L356.6 37.4M409.3 36.4L409.4 37.1M420.9 36.1L421.2 37.4M426.8 36.7L426.9 36.9M462.7 36.1L462.4 37.4M481.1 37.9L480.3 37.6M486.4 38.5L486.0 37.7M491.9 38.4L491.8 37.9M503.7 38.9L503.6 37.3M514.7 38.5L515.2 37.6M527.8 38.3L527.3 37.7M540.2 38.1L538.8 37.4M338.9 44.6L338.9 43.4M344.1 44.4L344.7 43.4M355.5 44.2L356.5 43.3M362.4 44.8L362.4 43.2M374.9 43.8L374.6 43.6M387.4 43.3L385.9 43.3M420.4 42.1L421.3 43.4M432.8 42.5L432.9 42.8M438.7 42.5L438.7 42.7M457.2 42.1L456.5 43.3M463.0 42.7L462.8 42.9M481.4 43.4L480.1 43.3M515.5 44.5L515.4 43.5M328.0 50.1L327.3 49.3M334.0 50.1L333.1 49.3M339.6 49.8L339.3 49.5M344.3 50.2L344.7 49.4M363.1 50.0L362.7 49.5M432.2 48.3L432.9 49.1M437.5 48.7L439.0 49.2M443.4 48.5L444.9 49.2M456.4 48.1L456.5 48.9M463.2 48.6L462.7 49.0M474.8 49.8L474.5 49.5M491.6 50.0L491.7 49.7M515.8 50.5L515.3 49.2M328.3 56.0L327.1 55.0M333.3 56.2L333.1 55.3M345.8 55.7L345.0 55.2M351.7 56.0L350.7 55.1M357.0 55.9L356.8 55.5M386.2 54.3L386.2 54.5M397.3 54.4L397.4 54.6M443.9 53.9L444.8 55.1M475.3 55.6L474.3 55.1M481.0 56.0L480.1 55.1M486.7 55.3L486.4 55.2M522.2 56.0L521.3 55.1M528.0 55.1L527.6 55.1M533.8 55.5L533.4 55.3M316.1 60.4L315.8 60.6M334.0 60.5L333.4 60.8M340.4 60.7L338.8 61.0M369.4 61.2L368.6 61.0M402.7 60.3L403.4 60.8M420.5 61.5L420.9 61.3M431.7 61.4L433.0 61.0M437.9 61.0L438.5 61.0M456.1 59.9L456.4 60.8M475.6 60.7L474.1 61.0M487.0 60.8L486.2 60.9M510.0 61.8L509.7 61.3M522.2 61.1L521.6 61.0M533.7 60.6L533.5 60.7M316.0 65.8L315.5 66.7M346.2 67.2L344.7 66.8M357.3 66.3L357.0 66.6M379.8 65.7L380.0 66.7M396.5 67.2L397.6 66.9M432.6 67.8L432.9 67.1M474.9 65.6L474.1 66.9M499.0 67.1L497.7 66.9M510.4 67.6L509.6 67.0M516.4 67.3L515.6 66.9M539.1 65.8L538.9 66.5M339.7 71.8L339.0 72.6M345.5 72.2L345.2 72.4M351.5 71.6L350.7 72.7M356.7 71.9L356.7 72.2M369.5 71.9L368.3 72.7M390.9 71.9L391.7 72.6M396.7 73.5L397.6 72.8M469.2 71.7L468.3 72.7M522.4 72.6L521.4 72.7M315.4 77.7L315.4 78.1M345.4 77.4L344.8 78.5M356.9 77.4L356.6 78.5M379.3 77.9L379.8 78.4M384.8 77.8L386.0 78.6M390.9 78.3L391.5 78.5M437.9 78.4L438.5 78.5M449.6 78.3L450.3 78.5M481.3 78.3L480.1 78.6M492.7 79.0L492.2 78.8M498.6 78.7L498.1 78.7M504.8 78.5L503.7 78.6M521.7 77.8L521.5 78.2M537.5 78.1L538.8 78.6M332.9 83.3L333.0 84.3M340.1 83.7L338.9 84.5M350.3 83.1L350.7 84.6M373.0 83.8L374.2 84.5M396.5 84.0L397.7 84.5M403.0 85.6L403.5 84.6M414.4 85.1L415.1 84.6M426.2 84.8L426.7 84.6M443.9 83.9L444.5 84.3M449.8 83.8L450.4 84.3M469.4 83.7L468.3 84.5M481.0 84.1L480.4 84.4M486.6 83.7L486.2 84.2M493.1 84.5L491.9 84.5M498.7 84.7L498.0 84.6M504.9 84.3L503.6 84.5M527.5 83.8L527.4 84.0M538.4 83.6L538.7 84.1M320.8 89.5L321.1 90.0M390.8 90.3L391.5 90.3M426.0 90.7L426.9 90.4M431.9 90.6L432.7 90.4M443.7 90.4L444.4 90.4M492.7 91.0L492.0 90.5M499.0 90.9L497.6 90.3M521.4 89.6L521.3 89.8M526.6 89.3L527.0 90.2M532.0 89.6L532.8 90.2M315.0 95.0L315.4 96.1M327.1 95.4L327.1 95.7M339.0 94.8L338.9 96.3M379.5 95.0L380.1 96.2M397.1 95.7L397.3 95.9M408.6 96.2L409.0 96.2M420.0 96.6L421.1 96.3M425.8 97.0L427.2 96.2M431.8 95.6L433.0 96.2M444.5 95.1L444.7 96.0M469.2 95.9L468.6 96.1M475.3 96.1L474.4 96.2M505.0 95.8L503.5 96.3M522.1 95.8L521.6 96.1M334.0 101.3L333.2 102.0M373.7 101.3L373.9 101.7M379.1 101.0L380.1 102.2M402.5 101.9L403.4 102.1M414.1 102.2L415.2 102.1M445.0 100.7L444.8 102.2M469.2 102.0L468.7 102.0M493.1 102.5L491.8 102.1M538.0 101.8L538.3 101.9M333.9 107.1L333.1 107.9M339.4 106.8L339.0 107.9M345.2 106.6L344.8 108.1M357.9 107.8L356.7 108.0M379.4 106.8L380.1 108.0M420.8 106.9L421.1 107.8M451.4 107.6L451.1 107.7M463.6 107.4L462.4 108.0M510.2 108.2L510.0 108.1M533.4 107.2L533.2 107.6M321.8 112.5L321.3 113.9M333.5 112.9L333.2 113.6M339.8 113.9L339.4 113.9M351.8 113.9L350.9 113.9M363.7 114.1L362.6 113.9M369.0 113.1L368.6 113.6M391.7 112.9L391.8 113.4M457.2 113.3L456.9 113.5M463.6 114.1L462.6 113.9M474.8 115.3L474.1 113.8M504.2 114.9L503.7 114.0M532.7 112.9L532.9 113.5M539.3 112.6L538.8 113.9M340.0 119.9L339.2 119.8M346.0 120.0L344.9 119.8M369.4 119.7L368.7 119.7M380.7 119.1L380.4 119.4M410.2 119.1L409.8 119.5M421.8 119.1L421.6 119.4M427.0 118.9L427.1 119.3M457.6 119.3L456.8 119.7M463.2 119.5L462.9 119.6M475.0 120.5L474.3 119.9M504.0 121.1L503.6 119.8M527.7 119.1L527.4 119.4M533.2 118.3L533.0 119.8M539.1 118.5L538.9 119.7M328.2 125.1L327.4 125.5M351.5 125.3L351.1 125.4M363.1 126.5L362.6 125.9M368.9 126.4L368.6 126.0M381.0 125.6L380.5 125.6M398.7 125.9L398.1 125.7M410.4 125.4L409.9 125.5M433.6 124.3L433.0 125.7M452.0 125.9L450.7 125.6M457.4 126.2L456.8 125.9M463.3 125.9L462.9 125.8M474.2 126.5L474.2 126.2M492.7 126.5L491.9 125.7M510.7 126.3L509.4 125.6M539.1 124.5L538.9 125.4M328.4 130.9L327.2 131.5M340.1 131.1L339.0 131.5M363.2 131.9L362.9 131.7M387.3 131.8L386.0 131.5M392.7 132.4L392.0 131.6M410.5 130.8L409.7 131.4M422.5 131.4L421.4 131.5M463.0 132.7L462.4 131.5M474.1 132.4L474.1 132.0M504.1 132.8L503.6 131.5M516.0 132.1L515.7 131.8M539.5 130.2L538.8 131.6M322.5 137.2L321.4 137.4M328.5 137.7L327.1 137.4M340.3 136.8L338.8 137.4M357.4 137.9L356.9 137.6M368.9 138.4L368.4 137.6M428.4 137.8L427.2 137.4M463.2 137.5L463.0 137.5M468.4 138.4L468.3 137.8M504.2 137.9L504.0 137.7M509.9 138.8L509.4 137.4M522.0 137.2L521.7 137.3M527.9 136.5L527.2 137.3M315.3 142.1L315.4 143.0M340.0 144.2L338.9 143.2M346.0 144.2L344.7 143.2M351.7 143.7L351.0 143.4M363.4 143.5L362.9 143.4M381.2 144.2L380.0 143.2M416.7 143.6L415.3 143.3M446.1 143.8L444.7 143.3M457.4 143.6L457.0 143.5M469.4 143.7L468.5 143.4M510.1 143.9L509.8 143.6M516.5 143.5L515.5 143.3M522.3 143.2L521.5 143.3M528.1 143.3L527.5 143.3M340.0 149.2L339.2 149.2M346.1 149.3L344.9 149.2M357.0 150.3L356.6 149.4M404.3 148.5L403.9 148.9M416.0 148.6L415.8 148.8M480.9 149.4L480.5 149.3M522.2 148.9L521.6 149.1M538.8 148.3L538.8 148.6M327.9 154.3L327.4 154.8M340.2 154.5L338.9 155.0M345.9 154.4L344.9 155.0M357.8 155.6L356.6 155.1M363.1 155.5L362.9 155.4M369.6 155.3L368.4 155.1M392.9 154.5L392.0 155.0M410.3 154.8L410.1 154.9M416.5 154.4L415.5 155.0M422.1 154.1L421.3 155.0M427.5 153.6L427.1 155.2M439.6 154.5L439.3 154.7M451.1 153.7L450.6 155.0M533.4 154.4L533.3 154.6M539.9 154.0L538.8 155.1M315.6 160.0L315.5 160.5M352.0 160.3L350.6 161.0M456.5 159.6L456.5 160.8M469.4 160.3L468.3 160.9M475.0 160.6L474.6 160.8M492.9 161.2L492.1 161.0M533.6 160.1L533.2 160.6" stroke="#45b0f0" stroke-width="1.2" fill="none"/>
<path d="M357.4 19.1L356.9 20.6L355.8 19.3zM380.4 19.0L380.7 20.6L379.1 20.0zM390.6 19.6L392.1 19.0L391.8 20.7zM427.3 20.9L426.2 19.7L427.9 19.4zM433.1 20.8L432.1 19.5L433.8 19.3zM445.5 21.1L444.1 20.3L445.6 19.5zM450.5 21.2L449.8 19.7L451.5 19.9zM473.2 20.2L474.1 18.9L474.8 20.5zM339.2 24.3L339.8 25.8L338.1 25.5zM345.4 24.8L345.4 26.4L343.9 25.5zM396.4 25.2L398.0 24.9L397.4 26.5zM479.3 24.9L480.9 25.4L479.6 26.5zM491.2 24.8L492.7 25.4L491.3 26.4zM527.2 24.7L527.9 26.2L526.2 26.0zM538.2 24.9L539.7 25.4L538.4 26.5zM339.0 30.2L339.8 31.6L338.1 31.6zM345.8 31.2L344.8 32.5L344.2 30.9zM357.7 30.7L357.1 32.2L356.0 30.9zM363.8 31.1L362.7 32.4L362.2 30.7zM385.5 30.5L386.8 31.5L385.3 32.1zM390.4 31.0L392.1 30.7L391.4 32.3zM421.6 33.0L420.4 31.8L422.1 31.4zM427.1 32.8L426.3 31.4L428.0 31.3zM456.6 33.1L455.7 31.7L457.4 31.6zM473.1 30.8L474.7 30.9L473.7 32.3zM491.6 30.4L492.7 31.7L491.0 32.0zM538.8 30.5L539.7 31.9L538.0 31.9zM326.4 36.6L328.0 37.0L326.7 38.2zM339.5 36.5L339.5 38.1L338.0 37.2zM357.0 36.0L357.4 37.6L355.8 37.1zM409.6 38.5L408.6 37.2L410.3 37.0zM421.6 38.8L420.4 37.7L422.1 37.2zM427.4 38.2L426.1 37.2L427.7 36.6zM462.1 38.8L461.6 37.2L463.2 37.6zM479.0 37.0L480.7 36.8L479.9 38.3zM485.4 36.4L486.8 37.3L485.3 38.1zM491.7 36.5L492.7 37.9L491.0 38.0zM503.4 35.9L504.4 37.3L502.7 37.4zM516.0 36.4L516.0 38.0L514.5 37.1zM526.4 36.6L527.9 37.2L526.6 38.2zM537.5 36.8L539.1 36.6L538.4 38.2zM338.9 42.0L339.8 43.4L338.1 43.4zM345.5 42.2L345.4 43.9L344.0 43.0zM357.6 42.4L357.1 44.0L356.0 42.7zM362.4 41.8L363.3 43.2L361.6 43.2zM373.5 42.8L375.1 42.9L374.2 44.3zM384.5 43.3L385.9 42.5L385.9 44.2zM422.1 44.5L420.6 43.9L422.0 42.9zM433.2 44.1L432.0 43.0L433.7 42.5zM439.1 44.1L437.9 43.0L439.5 42.5zM455.8 44.6L455.8 42.9L457.3 43.7zM461.8 43.9L462.2 42.3L463.4 43.5zM478.7 43.3L480.1 42.5L480.0 44.2zM515.1 42.2L516.2 43.4L514.5 43.7zM326.3 48.3L327.9 48.7L326.7 49.9zM332.1 48.3L333.7 48.7L332.5 49.9zM338.2 48.6L339.8 48.9L338.7 50.2zM345.3 48.2L345.4 49.9L343.9 49.0zM361.7 48.4L363.3 48.9L362.0 50.0zM433.8 50.1L432.2 49.6L433.5 48.5zM440.3 49.7L438.7 50.0L439.2 48.4zM446.1 49.9L444.5 50.0L445.2 48.5zM456.7 50.3L455.6 49.0L457.3 48.8zM461.6 49.8L462.2 48.3L463.2 49.7zM473.5 48.6L475.1 48.9L474.0 50.2zM492.0 48.4L492.5 49.9L490.8 49.5zM514.8 47.9L516.1 48.9L514.5 49.5zM326.0 54.2L327.6 54.4L326.6 55.7zM332.8 53.9L333.9 55.1L332.3 55.5zM343.8 54.4L345.4 54.5L344.5 55.9zM349.6 54.2L351.2 54.4L350.1 55.7zM356.1 54.3L357.6 55.1L356.1 55.9zM385.7 55.8L385.4 54.2L387.0 54.8zM398.1 55.8L396.7 55.0L398.2 54.2zM445.6 56.2L444.1 55.6L445.5 54.6zM473.0 54.6L474.6 54.4L473.9 55.9zM479.0 54.1L480.6 54.5L479.5 55.7zM485.1 54.8L486.7 54.4L486.2 56.1zM520.2 54.2L521.8 54.5L520.7 55.8zM526.2 55.0L527.7 54.3L527.5 56.0zM532.1 54.7L533.8 54.5L533.1 56.1zM314.7 61.5L315.3 60.0L316.3 61.3zM332.1 61.4L333.0 60.0L333.7 61.6zM337.4 61.2L338.7 60.1L338.9 61.8zM367.2 60.8L368.8 60.2L368.5 61.8zM404.5 61.6L402.9 61.5L403.9 60.1zM421.9 60.4L421.4 61.9L420.3 60.6zM434.3 60.5L433.3 61.8L432.7 60.2zM439.9 61.0L438.5 61.8L438.5 60.1zM456.9 62.1L455.6 61.0L457.2 60.5zM472.7 61.2L473.9 60.1L474.2 61.8zM484.8 61.1L486.1 60.1L486.3 61.8zM508.9 60.1L510.4 60.9L508.9 61.8zM520.2 60.8L521.7 60.2L521.4 61.9zM532.2 61.4L533.1 59.9L533.9 61.4zM314.8 67.9L314.8 66.3L316.2 67.1zM343.4 66.5L344.9 66.0L344.5 67.7zM355.8 67.4L356.5 65.9L357.4 67.3zM380.4 68.0L379.2 66.9L380.9 66.4zM398.9 66.5L397.8 67.7L397.4 66.1zM433.4 65.8L433.7 67.5L432.1 66.8zM473.4 68.1L473.4 66.5L474.9 67.3zM496.4 66.6L497.9 66.0L497.6 67.7zM508.5 66.1L510.1 66.3L509.1 67.6zM514.3 66.4L515.9 66.1L515.2 67.7zM538.5 67.8L538.1 66.3L539.8 66.7zM338.2 73.7L338.4 72.0L339.7 73.1zM344.1 73.3L344.6 71.7L345.8 73.0zM349.9 73.8L350.0 72.2L351.4 73.2zM356.4 73.6L355.8 72.0L357.5 72.4zM367.1 73.5L367.8 72.0L368.7 73.5zM392.8 73.5L391.1 73.2L392.2 71.9zM398.7 71.9L398.2 73.5L397.1 72.1zM467.3 73.7L467.7 72.1L468.9 73.3zM520.0 72.8L521.4 71.9L521.5 73.5zM315.4 79.5L314.5 78.1L316.2 78.0zM344.2 79.8L344.1 78.1L345.6 78.9zM356.2 79.8L355.8 78.2L357.4 78.7zM380.9 79.3L379.3 79.0L380.4 77.7zM387.1 79.4L385.5 79.3L386.4 77.9zM392.8 78.9L391.2 79.3L391.7 77.7zM439.9 78.8L438.4 79.4L438.6 77.7zM451.6 78.9L450.0 79.3L450.5 77.7zM478.8 78.9L479.9 77.8L480.3 79.4zM490.9 78.2L492.5 78.0L491.8 79.5zM496.7 78.5L498.2 77.8L498.0 79.5zM502.3 78.7L503.7 77.7L503.8 79.4zM520.7 79.4L520.8 77.7L522.2 78.7zM540.2 79.1L538.5 79.4L539.1 77.8zM333.2 85.7L332.2 84.4L333.9 84.2zM337.8 85.3L338.5 83.8L339.4 85.2zM351.1 85.9L349.9 84.8L351.5 84.3zM375.4 85.2L373.8 85.2L374.6 83.7zM399.0 84.9L397.4 85.2L398.0 83.7zM404.2 83.4L404.3 85.0L402.8 84.2zM416.3 83.9L415.6 85.4L414.7 83.9zM428.1 84.1L427.0 85.4L426.5 83.8zM445.7 85.0L444.0 85.0L444.9 83.6zM451.5 85.2L449.9 84.9L451.0 83.6zM467.2 85.3L467.8 83.8L468.8 85.1zM479.0 84.8L480.1 83.6L480.7 85.2zM485.2 85.3L485.5 83.6L486.8 84.8zM490.5 84.5L491.9 83.6L491.9 85.3zM496.7 84.2L498.2 83.7L497.8 85.4zM502.2 84.6L503.5 83.6L503.7 85.3zM526.7 85.2L526.6 83.6L528.1 84.4zM539.3 85.4L537.9 84.5L539.4 83.7zM321.7 91.2L320.3 90.4L321.8 89.6zM392.9 90.4L391.4 91.2L391.6 89.5zM428.2 90.0L427.2 91.2L426.6 89.6zM434.1 90.2L432.9 91.3L432.5 89.6zM445.8 90.4L444.4 91.2L444.4 89.5zM490.9 89.7L492.5 89.8L491.5 91.2zM496.4 89.8L498.0 89.6L497.3 91.1zM521.0 91.1L520.5 89.6L522.2 90.0zM527.6 91.4L526.2 90.5L527.7 89.8zM533.9 91.1L532.3 90.9L533.3 89.6zM315.8 97.5L314.6 96.4L316.2 95.9zM327.2 97.1L326.3 95.8L328.0 95.6zM338.9 97.7L338.1 96.3L339.8 96.3zM380.7 97.5L379.3 96.6L380.9 95.9zM398.3 96.8L396.7 96.5L397.9 95.2zM410.4 96.3L409.0 97.1L409.0 95.4zM422.4 95.9L421.3 97.1L420.9 95.5zM428.4 95.5L427.6 96.9L426.8 95.5zM434.2 96.9L432.6 97.0L433.3 95.5zM445.0 97.4L443.9 96.2L445.5 95.9zM467.3 96.6L468.3 95.3L468.9 96.9zM473.0 96.4L474.3 95.4L474.5 97.1zM502.2 96.7L503.2 95.5L503.8 97.1zM520.3 96.6L521.2 95.3L522.0 96.8zM332.1 102.9L332.6 101.4L333.7 102.6zM374.7 102.9L373.2 102.2L374.6 101.3zM381.1 103.2L379.5 102.7L380.8 101.6zM404.7 102.4L403.2 102.9L403.6 101.2zM416.6 102.1L415.3 103.0L415.2 101.3zM444.6 103.6L443.9 102.1L445.6 102.3zM467.3 102.3L468.6 101.2L468.9 102.9zM490.5 101.7L492.1 101.3L491.6 102.9zM539.6 102.4L538.0 102.7L538.6 101.1zM332.2 108.9L332.5 107.3L333.8 108.4zM338.5 109.2L338.2 107.6L339.8 108.2zM344.4 109.4L344.0 107.8L345.6 108.3zM355.3 108.2L356.5 107.1L356.8 108.8zM380.7 109.2L379.3 108.4L380.8 107.6zM421.7 109.1L420.4 108.1L421.9 107.4zM449.9 108.4L450.7 107.0L451.5 108.5zM461.2 108.6L462.1 107.2L462.8 108.7zM508.6 107.8L510.2 107.3L509.8 109.0zM532.5 108.8L532.5 107.1L533.9 108.0zM320.8 115.3L320.5 113.6L322.1 114.2zM332.5 114.8L332.4 113.2L333.9 114.0zM338.0 113.9L339.4 113.0L339.4 114.7zM349.5 113.8L350.9 113.0L350.9 114.7zM361.2 113.7L362.7 113.1L362.5 114.7zM367.6 114.7L367.9 113.1L369.2 114.2zM392.0 114.8L390.9 113.6L392.6 113.3zM455.9 114.5L456.3 112.9L457.5 114.2zM461.2 113.7L462.7 113.1L462.4 114.7zM473.5 112.5L474.9 113.4L473.3 114.1zM502.9 112.9L504.4 113.6L502.9 114.5zM533.2 114.8L532.0 113.7L533.7 113.3zM538.3 115.2L538.1 113.6L539.6 114.2zM337.8 119.6L339.3 119.0L339.1 120.6zM343.6 119.5L345.1 119.0L344.8 120.6zM367.3 119.8L368.6 118.9L368.7 120.6zM379.5 120.4L379.8 118.8L381.0 120.0zM408.8 120.5L409.2 118.9L410.4 120.1zM420.6 120.4L421.0 118.8L422.2 120.0zM427.2 120.7L426.2 119.4L427.9 119.2zM455.5 120.2L456.4 118.9L457.1 120.5zM461.6 120.0L462.6 118.8L463.2 120.4zM473.3 119.0L474.9 119.3L473.8 120.5zM503.1 118.4L504.4 119.5L502.8 120.0zM526.4 120.4L526.9 118.8L528.0 120.1zM532.7 121.2L532.1 119.7L533.8 119.9zM538.6 121.1L538.0 119.5L539.7 119.9zM326.1 126.2L327.0 124.8L327.8 126.3zM349.9 126.0L350.8 124.7L351.5 126.2zM361.8 124.8L363.3 125.4L361.9 126.4zM367.7 124.9L369.3 125.4L367.9 126.5zM379.1 125.6L380.6 124.8L380.5 126.5zM396.7 125.4L398.3 124.9L397.9 126.6zM408.6 125.9L409.7 124.7L410.1 126.3zM432.4 127.0L432.2 125.3L433.7 126.1zM449.3 125.4L450.8 124.8L450.5 126.5zM455.7 125.1L457.3 125.2L456.4 126.6zM461.5 125.3L463.1 125.0L462.6 126.6zM474.1 124.8L475.0 126.1L473.3 126.2zM490.9 124.8L492.5 125.1L491.3 126.3zM508.1 124.9L509.8 124.9L509.0 126.4zM538.6 126.8L538.1 125.3L539.7 125.6zM325.9 132.2L326.8 130.8L327.6 132.3zM337.7 132.0L338.7 130.7L339.3 132.3zM361.6 131.1L363.3 131.0L362.5 132.5zM384.6 131.3L386.1 130.7L385.8 132.4zM391.0 130.6L392.6 131.0L391.4 132.2zM408.5 132.2L409.2 130.7L410.1 132.1zM420.0 131.6L421.3 130.7L421.4 132.4zM461.8 130.3L463.2 131.1L461.7 132.0zM474.2 130.7L475.0 132.1L473.3 132.0zM503.0 130.2L504.3 131.2L502.8 131.8zM514.6 131.0L516.2 131.1L515.2 132.5zM538.2 132.9L538.0 131.2L539.6 132.0zM320.0 137.6L321.3 136.5L321.5 138.2zM325.8 137.1L327.3 136.6L327.0 138.2zM337.5 138.0L338.5 136.7L339.2 138.2zM355.7 136.9L357.4 136.9L356.5 138.3zM367.7 136.4L369.2 137.1L367.7 138.0zM425.9 137.0L427.4 136.6L427.0 138.2zM461.6 137.3L463.1 136.6L462.9 138.3zM468.1 136.4L469.2 137.6L467.5 137.9zM502.9 136.9L504.5 137.0L503.5 138.4zM509.0 136.0L510.2 137.1L508.6 137.6zM520.4 137.6L521.5 136.5L521.9 138.1zM526.3 138.3L526.5 136.7L527.8 137.8zM315.5 144.4L314.5 143.1L316.2 142.9zM337.8 142.3L339.4 142.6L338.3 143.9zM343.6 142.3L345.2 142.5L344.2 143.9zM349.7 142.8L351.3 142.6L350.6 144.2zM361.5 143.1L363.0 142.5L362.7 144.2zM378.9 142.3L380.5 142.6L379.5 143.9zM414.0 143.0L415.5 142.4L415.2 144.1zM443.4 142.8L445.0 142.5L444.4 144.1zM455.7 143.0L457.3 142.7L456.7 144.3zM467.2 142.8L468.8 142.6L468.2 144.2zM508.8 142.7L510.4 143.0L509.2 144.3zM514.1 143.1L515.6 142.5L515.3 144.1zM520.1 143.4L521.4 142.4L521.6 144.1zM526.1 143.3L527.5 142.4L527.5 144.1zM337.8 149.1L339.2 148.3L339.2 150.0zM343.5 149.0L345.0 148.3L344.8 150.0zM356.1 148.1L357.4 149.0L355.9 149.7zM402.9 149.8L403.3 148.2L404.5 149.5zM414.7 149.7L415.3 148.2L416.3 149.5zM479.2 148.9L480.7 148.5L480.2 150.1zM520.2 149.4L521.4 148.2L521.8 149.9zM538.9 150.0L538.0 148.6L539.7 148.6zM326.5 155.8L326.8 154.2L328.0 155.4zM337.6 155.5L338.6 154.2L339.2 155.8zM343.7 155.7L344.4 154.3L345.3 155.7zM355.3 154.5L356.9 154.3L356.2 155.8zM361.8 154.6L363.4 154.7L362.4 156.1zM367.1 154.8L368.6 154.2L368.3 155.9zM390.8 155.5L391.7 154.2L392.4 155.7zM408.7 155.2L409.8 154.1L410.3 155.7zM414.2 155.7L415.0 154.2L415.9 155.7zM420.4 156.0L420.7 154.4L421.9 155.5zM426.7 156.5L426.3 154.9L427.9 155.4zM438.2 155.6L438.8 154.0L439.8 155.4zM450.2 156.4L449.8 154.8L451.4 155.3zM532.5 155.7L532.6 154.1L534.0 155.0zM537.8 156.1L538.2 154.5L539.4 155.7zM315.2 161.8L314.7 160.3L316.3 160.6zM349.3 161.5L350.3 160.2L351.0 161.7zM456.6 162.2L455.7 160.8L457.4 160.8zM467.1 161.6L467.9 160.1L468.8 161.6zM473.3 161.2L474.3 160.0L474.9 161.6zM490.7 160.7L492.3 160.2L491.9 161.8zM532.4 161.7L532.5 160.1L533.9 161.1z" fill="#45b0f0" stroke="#45b0f0" stroke-width="0.5"/>
<path d="M387.9 21.2L386.1 19.9M399.7 18.1L397.8 19.8M410.5 18.4L409.8 19.4M415.6 17.3L415.4 19.7M464.0 18.7L462.8 19.5M470.6 19.6L468.5 19.8M481.7 19.5L480.6 19.7M487.2 20.8L486.4 20.2M504.5 22.1L503.6 19.9M522.7 21.8L521.3 19.9M528.4 21.8L527.2 19.9M534.5 20.6L533.5 20.0M350.0 27.8L350.6 25.9M356.1 27.5L356.4 26.2M366.7 27.2L368.1 25.9M386.6 27.8L386.0 25.9M393.8 26.0L392.2 25.7M404.8 23.9L403.8 25.4M410.2 23.5L409.6 25.5M416.1 23.9L415.5 25.3M420.0 24.0L421.0 25.4M426.5 23.8L427.0 25.3M431.6 23.9L432.8 25.5M444.6 23.4L444.7 25.4M451.4 24.2L450.9 25.1M456.0 23.6L456.4 25.4M486.3 27.9L486.0 25.9M502.9 27.5L503.4 26.1M508.3 27.5L509.3 25.9M520.7 27.7L521.1 26.0M534.8 27.1L533.1 25.8M368.3 33.2L368.3 32.2M373.0 33.1L374.0 31.9M399.1 29.9L397.9 31.3M404.6 29.7L403.8 31.3M409.4 29.8L409.5 31.0M414.8 29.2L415.3 31.4M437.4 30.5L438.4 31.2M449.4 29.8L450.5 31.3M462.7 29.8L462.5 31.0M487.2 33.3L486.1 31.8M502.3 33.7L503.5 31.7M508.6 33.1L509.2 32.0M526.7 33.5L527.0 32.0M388.1 38.0L386.2 37.5M393.2 36.1L392.1 37.1M399.7 36.4L397.9 37.3M414.6 35.3L415.3 37.2M430.6 36.2L433.0 37.4M444.0 36.0L444.5 36.9M451.4 35.9L450.9 37.0M457.8 35.2L456.6 37.4M469.9 36.0L468.5 37.2M475.7 39.2L474.3 37.6M534.7 38.4L533.3 37.6M369.7 45.3L368.4 43.4M425.1 43.3L426.8 43.3M445.1 41.3L444.8 43.0M451.7 41.5L450.8 43.1M476.5 43.0L474.3 43.3M491.5 45.3L491.8 43.7M376.5 49.3L374.4 49.2M407.7 47.6L409.4 49.1M450.6 46.8L450.6 49.0M470.0 49.2L468.9 49.2M497.7 51.5L497.7 49.4M540.5 48.8L539.4 49.1M316.9 54.5L316.0 54.8M323.6 54.7L321.5 55.0M364.1 55.0L363.0 55.0M370.2 54.9L368.8 55.0M375.9 54.8L374.8 55.0M380.8 53.5L380.3 54.6M402.4 53.8L403.2 54.7M413.3 55.6L415.1 55.2M424.7 54.6L427.0 55.1M430.9 53.7L432.9 55.0M450.7 52.4L450.6 55.1M455.6 53.3L456.3 54.7M462.8 53.4L462.5 54.6M492.7 56.7L492.1 55.5M497.0 57.5L497.7 55.2M515.2 56.8L515.3 55.6M363.8 62.0L362.9 61.3M380.6 58.8L380.1 60.7M397.0 59.3L397.5 60.5M407.6 59.8L409.2 60.8M413.4 60.8L414.9 60.9M425.9 62.6L426.9 61.2M442.2 60.8L444.7 61.0M469.7 60.0L468.7 60.7M493.8 62.3L491.9 61.0M498.1 62.9L497.8 61.4M516.9 61.6L515.8 61.2M323.1 65.3L321.4 66.7M335.2 67.1L333.3 66.9M364.5 66.2L362.7 66.8M370.3 65.3L368.4 66.8M374.8 64.9L374.3 66.5M385.0 64.5L385.9 66.8M407.9 66.6L408.9 66.7M420.6 68.7L421.1 67.2M456.4 65.1L456.5 66.3M470.1 66.1L468.7 66.7M481.7 67.3L480.6 67.0M315.6 70.9L315.5 72.2M327.9 70.3L327.2 72.6M334.6 72.3L333.6 72.5M363.6 71.4L362.8 72.3M378.7 71.6L379.7 72.4M401.2 72.7L403.4 72.7M407.2 73.5L409.3 72.8M415.1 74.6L415.3 73.2M438.0 74.1L438.6 73.3M449.5 70.9L450.5 72.4M333.9 76.8L333.2 78.2M340.7 78.2L339.4 78.5M395.9 79.9L397.5 78.7M401.8 78.9L403.1 78.7M407.8 80.2L409.3 78.8M415.3 80.9L415.3 78.8M463.1 77.0L462.6 78.1M469.6 77.5L468.7 78.2M487.2 77.5L486.3 78.2M527.5 76.9L527.2 78.0M328.6 82.3L327.2 84.5M361.5 82.7L362.2 84.1M367.3 82.6L368.2 84.2M389.2 84.2L391.9 84.5M436.8 84.4L438.5 84.5M475.7 83.2L474.5 84.2M533.3 82.8L533.1 83.9M361.4 88.3L362.3 90.2M377.9 89.8L379.8 90.3M384.1 89.9L385.5 90.2M395.8 89.2L397.5 90.2M402.5 91.8L403.3 90.8M414.4 92.5L415.3 90.5M419.0 91.4L421.1 90.4M437.2 89.6L438.4 90.1M468.0 88.1L468.3 90.1M511.4 89.8L509.8 90.3M538.2 88.7L538.7 89.9M358.0 95.0L356.9 95.9M369.7 94.0L368.3 96.2M374.2 94.1L374.2 96.0M385.2 94.5L385.8 95.8M401.7 97.6L403.4 96.4M413.4 96.1L414.9 96.2M437.3 94.4L438.8 96.1M493.3 97.2L492.3 96.5M511.8 96.4L509.6 96.3M537.6 95.1L538.4 95.8M390.1 101.6L391.4 102.0M419.0 102.6L421.0 102.2M464.6 100.9L462.4 102.1M476.3 102.6L474.4 102.2M352.5 107.3L351.1 107.8M370.2 107.3L368.7 107.9M375.1 105.8L374.3 107.8M391.6 106.2L391.8 107.5M396.2 106.6L397.4 107.7M402.1 106.2L403.5 107.9M425.7 107.2L426.6 107.7M470.3 108.9L468.5 108.1M475.8 107.8L474.8 107.9M538.4 106.3L538.7 107.5M316.4 111.6L315.4 113.8M328.7 112.4L327.4 113.7M358.4 114.4L357.0 114.0M398.2 112.0L397.8 113.5M410.5 112.1L409.7 113.6M415.4 111.7L415.4 113.6M420.7 111.6L421.2 113.7M446.9 113.1L445.0 113.8M316.3 117.9L315.6 119.4M359.0 120.1L356.7 119.8M364.8 120.3L362.6 119.8M399.4 119.4L398.3 119.6M403.9 118.1L403.7 119.2M416.3 118.1L415.6 119.4M446.6 118.1L444.9 119.7M323.8 125.4L321.3 125.6M340.4 126.4L339.5 125.9M416.7 124.5L415.8 125.3M440.6 124.1L439.1 125.5M481.3 127.7L480.1 125.8M487.3 127.2L486.2 125.9M334.6 130.9L333.6 131.3M346.9 131.0L345.1 131.4M399.5 131.6L398.3 131.5M405.8 131.3L403.9 131.5M440.6 130.6L439.3 131.3M452.2 132.4L451.1 131.8M487.3 133.6L486.0 131.6M335.3 137.6L333.3 137.4M346.1 138.7L345.1 137.7M375.3 139.5L374.3 137.6M399.3 138.1L398.3 137.6M405.4 137.5L404.1 137.4M417.1 136.5L415.7 137.2M452.3 139.1L450.8 137.6M329.3 143.0L327.4 143.2M370.6 143.8L368.5 143.3M375.1 145.3L374.3 143.5M387.1 145.2L386.1 143.5M400.0 142.2L397.8 143.2M405.1 144.3L404.0 143.6M411.4 144.1L409.8 143.4M428.5 142.3L427.6 143.0M314.6 147.4L315.2 148.7M322.2 147.3L321.4 148.9M329.4 149.1L327.4 149.2M334.6 148.5L333.6 148.9M387.8 149.9L386.4 149.3M429.6 148.8L427.2 149.1M435.4 149.3L433.2 149.2M440.9 147.9L439.0 149.1M445.7 146.9L444.8 149.0M451.9 147.2L450.7 149.0M314.0 153.3L315.2 154.8M322.5 152.8L321.3 155.0M446.8 153.6L444.8 155.0M470.3 154.9L468.7 155.0M476.4 154.6L474.4 155.0M488.0 154.1L486.1 154.9M333.5 158.8L333.1 160.6M375.6 162.2L374.6 161.3M382.2 161.1L380.4 161.0M394.2 161.9L391.9 160.9M410.1 159.3L409.7 160.4M427.7 159.3L427.3 160.4M462.9 158.8L462.5 160.6" stroke="#1010e0" stroke-width="1.35" fill="none"/>
<path d="M384.1 18.4L386.9 18.9L385.4 21.0zM395.8 21.5L396.9 18.8L398.6 20.7zM408.4 21.2L408.8 18.6L410.8 20.2zM415.2 22.3L414.1 19.6L416.7 19.8zM460.8 20.9L462.0 18.5L463.5 20.6zM465.9 20.0L468.3 18.5L468.6 21.1zM478.4 20.1L480.4 18.4L480.9 21.0zM484.6 18.8L487.2 19.1L485.6 21.2zM502.6 17.5L504.8 19.4L502.4 20.4zM519.7 17.8L522.3 19.1L520.2 20.7zM525.8 17.8L528.2 19.2L526.1 20.6zM531.4 19.0L534.0 18.9L532.9 21.2zM351.3 23.6L351.8 26.3L349.4 25.6zM357.0 23.9L357.7 26.5L355.2 25.9zM369.9 24.1L369.0 26.8L367.2 24.9zM385.3 23.5L387.3 25.5L384.8 26.3zM389.9 25.4L392.4 24.5L392.0 27.0zM402.4 27.5L402.7 24.7L404.9 26.1zM408.8 27.8L408.3 25.0L410.8 25.9zM414.6 27.5L414.3 24.8L416.7 25.8zM422.5 27.4L420.0 26.2L422.1 24.6zM427.8 27.6L425.8 25.7L428.2 24.9zM434.4 27.5L431.8 26.3L433.9 24.7zM444.9 27.9L443.4 25.5L446.0 25.3zM449.9 27.1L449.8 24.5L452.1 25.7zM457.0 27.7L455.2 25.7L457.7 25.1zM485.6 23.5L487.2 25.7L484.7 26.1zM504.3 23.9L504.6 26.6L502.2 25.6zM510.6 23.9L510.4 26.6L508.2 25.2zM521.7 23.6L522.4 26.3L519.9 25.7zM531.1 24.2L533.9 24.8L532.3 26.8zM368.3 29.9L369.6 32.1L367.0 32.2zM375.4 30.0L375.0 32.7L372.9 31.1zM396.4 33.2L396.9 30.5L398.9 32.1zM402.6 33.4L402.6 30.7L404.9 31.9zM409.5 33.3L408.2 31.0L410.8 31.0zM415.9 33.9L414.1 31.7L416.6 31.1zM440.3 32.6L437.7 32.3L439.2 30.2zM451.9 33.3L449.4 32.1L451.5 30.6zM462.1 33.3L461.2 30.8L463.8 31.2zM484.7 29.8L487.2 31.1L485.1 32.6zM504.8 29.4L504.6 32.3L502.4 31.0zM510.3 30.1L510.3 32.7L508.0 31.4zM527.5 29.6L528.3 32.2L525.7 31.7zM383.8 36.9L386.5 36.2L385.9 38.8zM390.5 38.8L391.2 36.2L393.1 38.0zM395.7 38.5L397.3 36.2L398.5 38.5zM416.2 39.5L414.1 37.7L416.5 36.7zM435.4 38.6L432.4 38.6L433.6 36.3zM445.5 38.9L443.3 37.5L445.6 36.3zM449.8 39.0L449.7 36.4L452.0 37.5zM455.2 39.6L455.4 36.7L457.7 38.0zM466.7 38.9L467.7 36.3L469.4 38.2zM472.7 35.6L475.3 36.8L473.3 38.4zM531.3 36.4L534.0 36.5L532.7 38.8zM367.0 41.3L369.5 42.7L367.3 44.2zM429.2 43.3L426.8 44.6L426.7 42.0zM444.4 45.4L443.5 42.8L446.1 43.2zM449.6 45.2L449.7 42.4L451.9 43.7zM471.8 43.6L474.1 42.0L474.5 44.6zM492.1 41.3L493.0 43.9L490.5 43.5zM371.9 49.1L374.5 47.9L374.3 50.5zM411.3 50.8L408.5 50.1L410.2 48.1zM450.7 51.6L449.3 49.0L451.9 49.0zM466.6 49.2L468.8 47.9L468.9 50.5zM497.7 46.9L499.0 49.4L496.4 49.4zM537.2 49.6L539.1 47.8L539.7 50.3zM313.9 55.7L315.5 53.6L316.5 56.0zM319.0 55.5L321.3 53.8L321.7 56.3zM360.7 55.2L362.9 53.7L363.1 56.3zM366.5 55.3L368.7 53.7L368.9 56.3zM372.5 55.4L374.6 53.7L375.0 56.3zM379.3 56.7L379.1 54.0L381.5 55.1zM404.8 56.3L402.3 55.6L404.1 53.8zM417.5 54.5L415.4 56.4L414.7 53.9zM429.5 55.6L426.7 56.3L427.2 53.8zM435.1 56.4L432.2 56.1L433.6 53.9zM450.6 57.7L449.3 55.0L451.9 55.1zM457.4 56.9L455.2 55.3L457.5 54.2zM462.0 56.8L461.3 54.2L463.8 54.9zM490.9 53.5L493.2 54.9L490.9 56.2zM498.3 52.7L498.9 55.5L496.4 54.8zM515.5 53.4L516.6 55.8L514.0 55.5zM361.1 59.9L363.7 60.3L362.1 62.3zM379.6 63.1L378.9 60.4L381.4 61.0zM398.5 62.6L396.3 61.0L398.7 59.9zM411.4 62.1L408.6 61.9L409.9 59.7zM417.3 61.1L414.8 62.2L415.0 59.6zM428.4 59.3L427.9 62.0L425.9 60.5zM447.4 61.1L444.6 62.3L444.8 59.7zM466.8 61.9L468.0 59.6L469.5 61.7zM489.8 59.6L492.6 60.0L491.2 62.1zM497.3 59.0L499.0 61.1L496.5 61.6zM513.7 60.3L516.3 60.0L515.3 62.4zM319.5 68.4L320.5 65.8L322.3 67.7zM330.9 66.6L333.5 65.6L333.2 68.2zM360.3 67.5L362.3 65.5L363.1 68.0zM366.4 68.3L367.6 65.7L369.2 67.8zM373.6 68.8L373.1 66.1L375.6 66.9zM386.9 69.2L384.7 67.3L387.1 66.3zM411.1 67.1L408.6 68.0L409.1 65.5zM421.9 64.9L422.3 67.7L419.9 66.8zM456.6 68.6L455.2 66.4L457.8 66.2zM466.4 67.6L468.2 65.5L469.2 67.9zM478.3 66.4L480.9 65.7L480.2 68.2zM315.2 74.5L314.2 72.1L316.8 72.4zM326.4 75.1L325.9 72.2L328.4 73.0zM331.5 73.2L333.3 71.3L334.0 73.8zM361.3 74.1L361.8 71.5L363.8 73.2zM381.4 73.9L378.8 73.4L380.5 71.4zM406.0 72.7L403.4 74.0L403.4 71.4zM411.7 71.9L409.7 74.0L408.9 71.6zM415.6 70.8L416.6 73.3L414.0 73.0zM439.7 71.3L439.7 73.9L437.4 72.6zM451.8 74.5L449.4 73.2L451.6 71.7zM332.2 80.4L332.0 77.7L334.4 78.8zM337.1 79.0L339.1 77.2L339.7 79.8zM399.5 77.3L398.3 79.8L396.7 77.7zM405.4 78.3L403.3 80.0L402.9 77.4zM411.1 77.0L410.2 79.7L408.4 77.8zM415.5 76.3L416.6 78.9L414.1 78.8zM461.7 80.2L461.4 77.6L463.8 78.6zM467.0 79.7L467.9 77.2L469.5 79.2zM484.6 79.7L485.5 77.2L487.2 79.2zM526.7 80.3L526.0 77.7L528.5 78.4zM325.7 86.7L326.1 83.8L328.2 85.2zM363.4 86.2L361.1 84.8L363.4 83.5zM369.4 86.4L367.0 84.8L369.3 83.6zM394.5 84.8L391.7 85.8L392.0 83.2zM441.0 84.5L438.5 85.8L438.6 83.2zM472.6 85.8L473.6 83.2L475.3 85.2zM532.6 86.2L531.8 83.7L534.3 84.2zM363.5 92.4L361.2 90.8L363.5 89.6zM382.3 91.0L379.5 91.5L380.2 89.0zM387.8 90.8L385.2 91.5L385.8 89.0zM399.6 91.5L396.8 91.3L398.1 89.1zM404.7 88.9L404.3 91.6L402.3 90.0zM416.4 88.3L416.4 91.1L414.1 90.0zM423.5 89.3L421.7 91.6L420.6 89.2zM440.5 91.1L437.9 91.3L438.9 89.0zM468.6 92.6L467.0 90.3L469.5 90.0zM507.5 90.9L509.5 89.0L510.1 91.5zM539.5 92.0L537.4 90.3L539.9 89.4zM355.2 97.5L356.0 95.0L357.8 96.9zM366.9 98.5L367.2 95.6L369.4 96.9zM374.2 98.4L372.9 95.9L375.5 96.0zM386.7 98.0L384.6 96.3L387.0 95.3zM405.5 94.9L404.2 97.4L402.7 95.3zM417.3 96.4L414.8 97.5L415.0 94.9zM440.4 98.1L437.8 97.0L439.8 95.3zM490.3 95.3L493.0 95.4L491.6 97.6zM507.1 96.0L509.7 95.0L509.5 97.6zM540.0 97.4L537.5 96.8L539.3 94.9zM393.6 102.6L391.0 103.2L391.7 100.7zM423.5 101.7L421.3 103.4L420.8 100.9zM460.2 103.4L461.8 101.0L463.1 103.2zM472.0 101.6L474.7 100.9L474.1 103.4zM348.9 108.7L350.6 106.6L351.6 109.1zM366.4 108.7L368.3 106.6L369.1 109.1zM373.3 110.2L373.1 107.3L375.5 108.3zM392.1 109.8L390.5 107.7L393.1 107.3zM399.2 109.4L396.6 108.7L398.3 106.8zM405.1 109.8L402.5 108.7L404.5 107.0zM428.6 108.8L425.9 108.8L427.2 106.6zM466.3 107.1L469.0 106.9L468.0 109.3zM472.6 108.2L474.6 106.6L475.0 109.2zM539.3 109.7L537.4 107.8L539.9 107.1zM314.4 116.2L314.2 113.3L316.6 114.3zM325.7 115.4L326.5 112.7L328.3 114.6zM354.7 113.4L357.3 112.7L356.7 115.3zM397.2 115.8L396.6 113.1L399.1 113.8zM408.5 115.7L408.5 112.9L410.8 114.2zM415.3 116.1L414.1 113.6L416.7 113.7zM421.8 116.2L419.9 114.0L422.5 113.4zM442.7 114.7L444.5 112.6L445.5 115.0zM314.5 121.6L314.4 118.9L316.7 120.0zM354.1 119.4L356.8 118.5L356.5 121.1zM360.1 119.3L362.9 118.5L362.3 121.1zM396.1 120.1L398.0 118.4L398.6 120.9zM403.3 121.4L402.4 118.9L405.0 119.4zM414.4 121.4L414.5 118.7L416.7 120.0zM442.9 121.4L444.0 118.7L445.7 120.6zM318.7 125.9L321.2 124.3L321.5 126.9zM337.4 124.9L340.0 124.8L338.9 127.1zM414.0 126.8L414.9 124.3L416.6 126.3zM437.2 127.2L438.2 124.5L439.9 126.4zM478.8 123.6L481.2 125.1L479.0 126.4zM484.5 124.1L487.1 125.0L485.2 126.8zM331.4 132.2L333.1 130.1L334.1 132.5zM342.7 132.1L344.8 130.2L345.4 132.7zM396.0 131.5L398.3 130.2L398.2 132.8zM401.4 131.8L403.7 130.2L404.0 132.8zM437.2 132.5L438.6 130.2L439.9 132.4zM449.1 130.7L451.8 130.7L450.5 132.9zM484.5 129.4L487.0 130.9L484.9 132.3zM330.8 137.2L333.4 136.1L333.2 138.7zM343.5 136.1L346.0 136.8L344.3 138.7zM373.1 135.3L375.4 137.0L373.1 138.1zM396.1 136.7L398.7 136.4L397.8 138.8zM401.8 137.3L404.2 136.1L404.1 138.7zM413.6 138.3L415.1 136.0L416.4 138.3zM449.0 135.7L451.7 136.6L449.9 138.5zM325.0 143.6L327.3 142.0L327.6 144.5zM366.1 142.8L368.8 142.1L368.3 144.6zM373.3 141.3L375.5 143.0L373.1 144.1zM384.8 141.4L387.2 142.8L385.0 144.2zM395.5 144.3L397.3 142.1L398.4 144.4zM402.1 142.2L404.8 142.5L403.3 144.6zM407.6 142.5L410.3 142.2L409.3 144.6zM425.7 144.3L426.8 141.9L428.3 144.0zM316.2 150.9L314.0 149.3L316.4 148.2zM320.4 151.1L320.3 148.3L322.6 149.4zM324.9 149.2L327.4 147.9L327.4 150.5zM331.5 149.8L333.1 147.7L334.1 150.1zM384.2 148.4L386.9 148.1L385.8 150.5zM424.7 149.5L427.1 147.9L427.4 150.4zM430.6 149.1L433.2 147.9L433.1 150.5zM436.9 150.4L438.3 148.0L439.7 150.2zM443.9 151.4L443.6 148.5L446.0 149.5zM449.3 151.1L449.7 148.3L451.8 149.7zM316.8 156.8L314.2 155.6L316.3 154.0zM320.1 157.3L320.2 154.4L322.5 155.6zM442.7 156.5L444.1 153.9L445.6 156.1zM466.2 155.1L468.6 153.7L468.7 156.3zM471.9 155.5L474.1 153.7L474.7 156.3zM483.9 156.0L485.6 153.8L486.7 156.1zM332.6 163.0L331.8 160.3L334.4 160.9zM372.8 159.7L375.4 160.3L373.7 162.2zM378.0 160.7L380.6 159.7L380.3 162.2zM389.5 159.9L392.4 159.7L391.4 162.1zM408.9 162.5L408.5 159.9L410.9 160.8zM426.6 162.5L426.1 160.0L428.5 160.8zM461.9 163.0L461.2 160.3L463.7 160.9z" fill="#1010e0" stroke="#1010e0" stroke-width="0.5"/>
<path d="M360.3 23.1L363.1 18.8M366.1 22.8L368.9 19.1M371.9 22.7L374.7 19.1M402.8 23.6L403.8 18.8M360.0 29.3L363.3 24.4M372.0 28.2L374.6 25.2M464.9 28.0L461.9 25.2M377.4 33.4L380.6 31.2M442.0 28.6L445.6 32.5M377.0 40.2L381.1 36.5M377.4 46.3L380.9 42.4M388.7 46.3L393.0 42.3M404.2 47.1L403.4 42.3M409.6 46.7L409.5 42.7M415.6 47.6L415.3 41.8M377.3 52.0L380.9 48.4M389.2 52.0L392.5 48.4M404.2 53.1L403.4 48.1M418.0 51.9L422.5 56.3M439.6 51.3L438.7 56.1M450.8 57.0L450.6 62.1M324.2 69.8L328.1 65.9M438.4 63.2L439.0 67.7M443.8 62.5L445.1 68.4M451.1 63.1L450.5 67.8M459.4 69.5L463.3 66.1M318.0 75.7L322.5 71.6M445.3 69.1L444.6 73.5M460.4 75.5L462.8 72.1M324.4 81.5L328.0 77.7M424.5 74.9L428.1 80.0M441.9 80.6L445.3 78.2M342.7 87.3L345.2 83.9M453.2 87.1L457.6 83.6M460.2 87.6L463.0 83.6M480.0 94.3L480.0 89.2M486.8 94.4L485.6 89.1M480.5 100.4L479.9 94.9M382.7 104.0L386.8 101.6M457.0 105.7L456.4 101.3M382.5 110.8L387.2 107.0M455.9 111.9L456.7 106.8M478.0 104.5L480.7 109.1M482.4 104.9L487.3 109.2M465.7 116.8L469.0 113.1M318.0 121.8L322.2 119.2M323.6 122.5L328.5 118.7M329.7 122.2L334.2 118.9M383.8 141.1L386.7 136.2M389.3 140.0L392.5 136.8M409.7 141.4L409.4 136.2M430.2 135.6L433.5 137.7M435.7 134.6L439.9 138.3M449.0 138.0L443.3 137.2M320.6 146.8L321.4 142.5M329.3 145.5L334.4 142.5M436.6 140.7L439.4 143.8M455.1 142.5L449.0 143.6M388.2 149.8L392.7 149.0M382.2 155.8L387.0 154.8" stroke="#0a9a0a" stroke-width="1.05" fill="none"/>
<path d="M364.6 16.5L364.1 19.5L362.0 18.1zM370.5 16.8L369.8 19.8L367.9 18.3zM376.5 16.9L375.7 19.9L373.8 18.4zM404.4 16.0L405.0 19.0L402.6 18.5zM364.8 22.0L364.3 25.1L362.3 23.7zM376.4 23.1L375.5 26.0L373.7 24.4zM459.9 23.3L462.7 24.4L461.1 26.1zM382.8 29.7L381.2 32.2L379.9 30.2zM447.6 34.5L444.7 33.3L446.5 31.6zM383.2 34.7L381.9 37.5L380.3 35.6zM382.7 40.4L381.8 43.3L379.9 41.6zM395.0 40.4L393.8 43.2L392.1 41.4zM403.0 39.6L404.7 42.1L402.2 42.5zM409.3 40.0L410.6 42.6L408.3 42.7zM415.2 39.0L416.5 41.8L414.0 41.9zM382.9 46.4L381.8 49.2L380.0 47.5zM394.4 46.4L393.5 49.3L391.6 47.6zM403.0 45.3L404.7 47.9L402.2 48.3zM424.5 58.3L421.6 57.2L423.4 55.4zM438.2 58.9L437.5 55.9L439.9 56.3zM450.5 64.9L449.3 62.1L451.8 62.2zM330.1 63.9L329.0 66.7L327.2 65.0zM439.4 70.4L437.8 67.8L440.2 67.5zM445.7 71.2L443.9 68.7L446.3 68.2zM450.1 70.6L449.3 67.7L451.7 68.0zM465.4 64.2L464.1 67.0L462.5 65.1zM324.5 69.7L323.3 72.5L321.6 70.7zM444.3 76.3L443.4 73.4L445.8 73.7zM464.4 69.9L463.8 72.8L461.8 71.5zM329.9 75.7L328.9 78.6L327.1 76.9zM429.7 82.3L427.1 80.7L429.1 79.3zM447.6 76.6L446.0 79.2L444.7 77.2zM346.9 81.6L346.2 84.6L344.3 83.2zM459.8 81.9L458.4 84.6L456.8 82.6zM464.6 81.3L464.0 84.3L462.0 82.9zM480.1 86.4L481.3 89.2L478.8 89.2zM485.0 86.3L486.8 88.8L484.4 89.3zM479.6 92.1L481.1 94.8L478.6 95.0zM389.2 100.2L387.4 102.7L386.2 100.6zM456.0 98.5L457.6 101.1L455.2 101.4zM389.4 105.2L388.0 108.0L386.4 106.0zM457.1 104.1L457.9 107.0L455.5 106.6zM482.1 111.5L479.6 109.8L481.8 108.5zM489.4 111.1L486.5 110.2L488.1 108.3zM470.8 110.9L469.9 113.9L468.1 112.2zM324.6 117.7L322.9 120.2L321.6 118.1zM330.7 117.0L329.2 119.7L327.7 117.8zM336.4 117.3L334.9 119.9L333.4 117.9zM388.1 133.7L387.8 136.8L385.6 135.5zM394.4 134.8L393.3 137.6L391.6 135.9zM409.3 133.4L410.7 136.1L408.2 136.2zM435.8 139.2L432.9 138.7L434.2 136.8zM442.0 140.2L439.1 139.3L440.7 137.4zM440.5 136.8L443.5 136.0L443.1 138.4zM322.0 139.7L322.6 142.7L320.2 142.2zM336.8 141.1L335.0 143.6L333.7 141.4zM441.2 145.9L438.5 144.6L440.3 143.0zM446.2 144.0L448.8 142.3L449.2 144.8zM395.5 148.5L392.9 150.2L392.5 147.8zM389.7 154.3L387.2 156.0L386.7 153.6z" fill="#0a9a0a" stroke="#0a9a0a" stroke-width="0.5"/>
<path d="M359.6 41.8L363.8 35.4M364.6 40.7L369.9 36.0M434.8 40.7L440.7 35.9M417.6 45.8L422.8 50.7M422.3 45.7L429.7 51.1M424.2 62.7L428.4 68.7M423.2 68.7L429.1 74.8M370.4 82.2L376.0 76.9M427.0 83.2L436.3 85.2M375.4 96.1L373.6 87.4M332.2 130.5L333.4 123.5M368.4 147.9L377.2 149.8M375.0 149.5L382.4 149.0" stroke="#ffa014" stroke-width="1.05" fill="none"/>
<path d="M365.3 33.0L364.8 36.1L362.7 34.7zM372.0 34.1L370.8 36.9L369.1 35.1zM442.9 34.2L441.5 36.9L440.0 35.0zM424.9 52.6L422.0 51.6L423.7 49.8zM432.0 52.7L429.0 52.1L430.4 50.0zM430.0 71.0L427.4 69.4L429.4 67.9zM431.0 76.8L428.2 75.6L430.0 73.9zM378.0 75.0L376.8 77.8L375.1 76.0zM439.0 85.8L436.0 86.4L436.6 84.0zM373.0 84.7L374.8 87.1L372.4 87.7zM333.9 120.7L334.6 123.7L332.2 123.3zM380.0 150.5L376.9 151.1L377.5 148.6zM385.2 148.8L382.5 150.2L382.3 147.8z" fill="#ffa014" stroke="#ffa014" stroke-width="0.5"/>
<path d="M385.2 58.3L395.9 53.1M385.1 63.6L395.9 59.3M385.0 70.6L396.2 64.4M379.2 76.3L390.3 70.5M380.0 80.9L389.5 86.6M361.6 95.2L353.5 87.5M373.6 94.4L365.3 88.0M366.7 101.4L359.9 93.2M354.8 108.6L348.0 98.0M360.7 107.3L354.2 99.2M368.2 105.6L359.0 100.1M372.6 107.6L365.8 98.9" stroke="#ff1010" stroke-width="1.05" fill="none"/>
<path d="M398.5 51.9L396.5 54.2L395.4 52.0zM398.5 58.3L396.4 60.5L395.5 58.2zM398.7 63.1L396.8 65.5L395.6 63.3zM392.8 69.2L390.9 71.6L389.7 69.3zM391.9 88.1L388.8 87.7L390.1 85.5zM351.5 85.5L354.4 86.6L352.7 88.4zM363.1 86.3L366.0 87.0L364.5 89.0zM358.1 91.1L360.9 92.4L359.0 94.0zM346.5 95.6L349.1 97.3L347.0 98.6zM352.5 97.0L355.2 98.4L353.2 99.9zM356.6 98.6L359.7 99.0L358.4 101.1zM364.0 96.7L366.7 98.1L364.8 99.6z" fill="#ff1010" stroke="#ff1010" stroke-width="0.5"/>
<path d="M317.6 136.5L313.8 117.5M323.7 141.5L319.5 124.2" stroke="#f514f5" stroke-width="1.05" fill="none"/>
<path d="M313.2 114.7L315.0 117.2L312.5 117.7zM318.9 121.5L320.7 123.9L318.3 124.5z" fill="#f514f5" stroke="#f514f5" stroke-width="0.5"/>
</g>
<clipPath id="cpc"><rect x="40.50" y="205.15" width="227.6" height="145.0"/></clipPath>
<g clip-path="url(#cpc)">
<g filter="url(#tblur)"><rect x="32.5" y="197.2" width="243.6" height="161.0" fill="rgb(190,190,190)"/><ellipse cx="155.5" cy="305.1" rx="92" ry="40" fill="rgb(136,136,136)"/><ellipse cx="180.5" cy="230.2" rx="90" ry="25" fill="rgb(200,200,200)"/><ellipse cx="215.5" cy="265.1" rx="45" ry="20" fill="rgb(182,182,182)"/><ellipse cx="225.5" cy="310.1" rx="45" ry="25" fill="rgb(165,165,165)"/><ellipse cx="58.5" cy="260.1" rx="26" ry="18" fill="rgb(245,245,245)"/><ellipse cx="41.5" cy="310.1" rx="7" ry="40" fill="rgb(238,238,238)"/><ellipse cx="68.5" cy="229.2" rx="24" ry="10" fill="rgb(218,218,218)"/><ellipse cx="100.5" cy="211.2" rx="16" ry="9" fill="rgb(232,232,232)"/><ellipse cx="225.5" cy="346.1" rx="40" ry="9" fill="rgb(235,235,235)"/><ellipse cx="262.5" cy="342.1" rx="14" ry="14" fill="rgb(245,245,245)"/><ellipse cx="203.5" cy="343.1" rx="18" ry="8" fill="rgb(232,232,232)"/><ellipse cx="251.5" cy="255.2" rx="16" ry="11" fill="rgb(215,215,215)"/><ellipse cx="257.5" cy="261.1" rx="6" ry="4" fill="rgb(235,235,235)"/><ellipse cx="125.5" cy="326.1" rx="11" ry="8" fill="rgb(212,212,212)"/><ellipse cx="230.5" cy="215.2" rx="30" ry="10" fill="rgb(205,205,205)"/><ellipse cx="105.5" cy="241.2" rx="15" ry="9" fill="rgb(188,188,188)"/><ellipse cx="100.5" cy="237.2" rx="6" ry="4" fill="rgb(170,170,170)"/><ellipse cx="128.5" cy="249.2" rx="17" ry="8" fill="rgb(170,170,170)"/><ellipse cx="123.5" cy="251.2" rx="8" ry="5" fill="rgb(150,150,150)"/><ellipse cx="230.5" cy="241.2" rx="12" ry="7" fill="rgb(178,178,178)"/><ellipse cx="160.5" cy="265.1" rx="20" ry="15" fill="rgb(150,150,150)"/><ellipse cx="255.5" cy="285.1" rx="15" ry="14" fill="rgb(180,180,180)"/><ellipse cx="216.5" cy="285.1" rx="14" ry="9" fill="rgb(172,172,172)"/><ellipse cx="184.5" cy="269.1" rx="8" ry="7" fill="rgb(150,150,150)"/><ellipse cx="68.5" cy="285.1" rx="20" ry="7" fill="rgb(170,170,170)"/><ellipse cx="153.5" cy="334.1" rx="15" ry="10" fill="rgb(140,140,140)"/><ellipse cx="172.5" cy="317.1" rx="9" ry="7" fill="rgb(160,160,160)"/><ellipse cx="210.5" cy="305.1" rx="11" ry="13" fill="rgb(165,165,165)"/><ellipse cx="71.5" cy="324.1" rx="18" ry="14" fill="rgb(132,132,132)"/><ellipse cx="92.5" cy="337.1" rx="10" ry="12" fill="rgb(165,165,165)"/><ellipse cx="48.5" cy="318.1" rx="8" ry="10" fill="rgb(180,180,180)"/><ellipse cx="111.5" cy="273.1" rx="13" ry="8" fill="rgb(120,120,120)"/><ellipse cx="113.5" cy="275.1" rx="5" ry="4" fill="rgb(80,80,80)"/><ellipse cx="97.5" cy="293.1" rx="8" ry="5" fill="rgb(120,120,120)"/><ellipse cx="110.5" cy="303.1" rx="11" ry="7" fill="rgb(85,85,85)"/><ellipse cx="110.5" cy="304.1" rx="6" ry="4" fill="rgb(55,55,55)"/><ellipse cx="144.5" cy="291.1" rx="9" ry="7" fill="rgb(100,100,100)"/><ellipse cx="160.5" cy="279.1" rx="12" ry="6" fill="rgb(105,105,105)"/><ellipse cx="166.5" cy="278.1" rx="7" ry="6" fill="rgb(60,60,60)"/><ellipse cx="194.5" cy="292.1" rx="7" ry="9" fill="rgb(90,90,90)"/><ellipse cx="195.5" cy="294.1" rx="4" ry="4" fill="rgb(55,55,55)"/><ellipse cx="200.5" cy="255.2" rx="8" ry="7" fill="rgb(150,150,150)"/><ellipse cx="201.5" cy="255.2" rx="4" ry="4" fill="rgb(90,90,90)"/><ellipse cx="87.5" cy="331.1" rx="8" ry="12" fill="rgb(115,115,115)"/><ellipse cx="71.5" cy="327.1" rx="9" ry="7" fill="rgb(105,105,105)"/><ellipse cx="178.5" cy="265.1" rx="6" ry="5" fill="rgb(130,130,130)"/><ellipse cx="214.5" cy="325.1" rx="13" ry="5" fill="rgb(115,115,115)"/><ellipse cx="237.5" cy="325.1" rx="9" ry="5" fill="rgb(140,140,140)"/><ellipse cx="162.5" cy="340.1" rx="7" ry="7" fill="rgb(130,130,130)"/><ellipse cx="144.5" cy="295.1" rx="6" ry="4" fill="rgb(75,75,75)"/><ellipse cx="128.5" cy="297.1" rx="5" ry="3" fill="rgb(110,110,110)"/><ellipse cx="152.5" cy="285.1" rx="5" ry="3" fill="rgb(100,100,100)"/><ellipse cx="177.5" cy="281.1" rx="5" ry="4" fill="rgb(105,105,105)"/><ellipse cx="183.5" cy="295.1" rx="4" ry="3" fill="rgb(110,110,110)"/><ellipse cx="206.5" cy="300.1" rx="5" ry="4" fill="rgb(120,120,120)"/><ellipse cx="220.5" cy="313.1" rx="6" ry="4" fill="rgb(130,130,130)"/><ellipse cx="85.5" cy="305.1" rx="5" ry="4" fill="rgb(130,130,130)"/><ellipse cx="60.5" cy="333.1" rx="5" ry="4" fill="rgb(120,120,120)"/><ellipse cx="100.5" cy="323.1" rx="5" ry="4" fill="rgb(130,130,130)"/><ellipse cx="135.5" cy="335.1" rx="5" ry="4" fill="rgb(140,140,140)"/><ellipse cx="180.5" cy="325.1" rx="5" ry="4" fill="rgb(135,135,135)"/><ellipse cx="245.5" cy="305.1" rx="5" ry="4" fill="rgb(150,150,150)"/><ellipse cx="180.1" cy="322.4" rx="4.1" ry="3.4" fill="rgb(120,120,120)"/><ellipse cx="148.6" cy="338.6" rx="3.8" ry="3.4" fill="rgb(98,98,98)"/><ellipse cx="149.3" cy="282.9" rx="3.6" ry="2.9" fill="rgb(95,95,95)"/><ellipse cx="98.8" cy="285.6" rx="4.3" ry="3.1" fill="rgb(100,100,100)"/><ellipse cx="179.0" cy="273.2" rx="2.5" ry="3.3" fill="rgb(102,102,102)"/><ellipse cx="230.0" cy="286.2" rx="4.4" ry="2.8" fill="rgb(118,118,118)"/><ellipse cx="127.7" cy="276.4" rx="2.8" ry="2.1" fill="rgb(105,105,105)"/><ellipse cx="191.1" cy="290.1" rx="3.1" ry="3.2" fill="rgb(111,111,111)"/><ellipse cx="118.7" cy="301.6" rx="3.9" ry="2.1" fill="rgb(129,129,129)"/><ellipse cx="213.0" cy="292.4" rx="3.7" ry="2.0" fill="rgb(96,96,96)"/><ellipse cx="94.8" cy="323.6" rx="4.4" ry="3.4" fill="rgb(107,107,107)"/><ellipse cx="126.5" cy="305.1" rx="4.1" ry="2.2" fill="rgb(121,121,121)"/><ellipse cx="214.9" cy="331.9" rx="2.6" ry="3.4" fill="rgb(98,98,98)"/><ellipse cx="123.6" cy="312.1" rx="4.3" ry="2.5" fill="rgb(127,127,127)"/><ellipse cx="164.5" cy="288.1" rx="3.1" ry="2.3" fill="rgb(97,97,97)"/><ellipse cx="85.3" cy="318.2" rx="4.5" ry="2.2" fill="rgb(96,96,96)"/><ellipse cx="136.7" cy="282.1" rx="3.7" ry="3.2" fill="rgb(110,110,110)"/><ellipse cx="154.2" cy="330.2" rx="2.8" ry="3.1" fill="rgb(128,128,128)"/><ellipse cx="181.6" cy="326.1" rx="2.7" ry="2.7" fill="rgb(100,100,100)"/><ellipse cx="224.4" cy="286.8" rx="3.4" ry="3.5" fill="rgb(124,124,124)"/><ellipse cx="153.1" cy="321.6" rx="3.5" ry="2.4" fill="rgb(109,109,109)"/><ellipse cx="84.8" cy="293.4" rx="4.5" ry="3.4" fill="rgb(116,116,116)"/><ellipse cx="155.4" cy="290.2" rx="2.7" ry="2.4" fill="rgb(122,122,122)"/><ellipse cx="229.0" cy="292.1" rx="4.1" ry="3.2" fill="rgb(119,119,119)"/><ellipse cx="188.3" cy="323.9" rx="3.2" ry="3.1" fill="rgb(104,104,104)"/><ellipse cx="152.6" cy="324.8" rx="3.9" ry="2.4" fill="rgb(128,128,128)"/><ellipse cx="185.4" cy="309.6" rx="2.5" ry="2.8" fill="rgb(103,103,103)"/><ellipse cx="189.8" cy="300.1" rx="4.1" ry="3.0" fill="rgb(122,122,122)"/><ellipse cx="125.1" cy="314.6" rx="4.0" ry="3.2" fill="rgb(107,107,107)"/><ellipse cx="161.4" cy="276.4" rx="4.2" ry="3.4" fill="rgb(111,111,111)"/><ellipse cx="193.8" cy="320.8" rx="4.0" ry="2.3" fill="rgb(122,122,122)"/><ellipse cx="171.7" cy="316.4" rx="3.3" ry="2.9" fill="rgb(122,122,122)"/><ellipse cx="182.9" cy="320.8" rx="2.6" ry="2.2" fill="rgb(110,110,110)"/><ellipse cx="185.5" cy="280.6" rx="3.9" ry="2.9" fill="rgb(96,96,96)"/><ellipse cx="149.8" cy="281.2" rx="2.6" ry="2.2" fill="rgb(106,106,106)"/><ellipse cx="131.6" cy="312.1" rx="3.7" ry="2.4" fill="rgb(126,126,126)"/><ellipse cx="111.2" cy="295.9" rx="2.7" ry="3.2" fill="rgb(108,108,108)"/><ellipse cx="74.5" cy="306.8" rx="3.2" ry="2.9" fill="rgb(128,128,128)"/><ellipse cx="219.2" cy="296.6" rx="4.1" ry="3.0" fill="rgb(107,107,107)"/><ellipse cx="83.9" cy="310.9" rx="3.6" ry="3.4" fill="rgb(128,128,128)"/><ellipse cx="177.2" cy="291.2" rx="4.3" ry="2.0" fill="rgb(98,98,98)"/><ellipse cx="168.7" cy="312.4" rx="2.8" ry="2.9" fill="rgb(126,126,126)"/><ellipse cx="130.7" cy="297.6" rx="3.0" ry="2.4" fill="rgb(129,129,129)"/><ellipse cx="131.5" cy="340.1" rx="4.3" ry="2.9" fill="rgb(104,104,104)"/><ellipse cx="138.6" cy="288.6" rx="4.5" ry="2.7" fill="rgb(105,105,105)"/></g>
<polygon points="37.5,202.2 38.5,225.0 40.5,224.8 44.0,224.2 47.5,223.7 50.9,222.3 52.8,220.2 54.5,217.7 57.0,215.3 60.0,213.6 63.0,212.2 66.5,210.7 69.0,209.0 71.0,207.2 73.5,205.8 76.5,206.1 78.5,205.6 79.5,203.2 79.5,202.2" fill="#fff"/>
<polyline points="38.5,225.0 40.5,224.8 44.0,224.2 47.5,223.7 50.9,222.3 52.8,220.2 54.5,217.7 57.0,215.3 60.0,213.6 63.0,212.2 66.5,210.7 69.0,209.0 71.0,207.2 73.5,205.8 76.5,206.1 78.5,205.6 79.5,203.2" fill="none" stroke="#222" stroke-width="1.1"/>
<polyline points="39.5,243.4 47.2,244.1 54.4,244.6 61.5,247.4 68.7,249.2 75.9,251.2 80.7,252.9 82.6,256.4 84.3,261.2 86.7,266.1 87.8,273.2 87.8,280.4 88.6,287.6 87.8,294.8 89.0,301.9 91.3,310.1 96.0,314.6 100.7,317.9 106.9,320.9 110.5,322.6 115.5,322.1 119.5,319.6 123.3,316.6 126.7,314.4 131.5,311.4 136.3,308.4 141.1,306.6 145.9,304.9 150.7,301.9 155.5,298.9 160.0,295.2 164.6,293.2 171.8,289.6 178.9,283.4 184.7,279.1 188.4,275.4 194.9,268.1 200.7,264.4 206.5,263.1 210.9,263.1 215.3,264.4 219.6,268.9 224.0,271.1 231.1,270.4 242.8,267.4 253.1,267.4 269.5,264.4" fill="none" stroke="#f0509a" stroke-width="1.1"/>
<polyline points="228.4,204.2 228.0,209.2 227.3,213.6 224.0,216.8 219.6,218.0 215.2,218.3 210.8,220.2 206.4,221.2 202.0,219.8 197.6,219.1 194.3,221.2 193.2,224.6 191.0,226.8 188.8,231.2 186.6,235.6 183.3,237.8 180.0,234.5 176.7,232.2 173.4,229.0 169.0,227.8 165.7,224.6 163.5,221.2 163.5,229.0 162.4,235.6 160.2,242.2 160.2,245.9 159.5,250.2 161.7,255.9 162.4,258.9 159.5,261.6 155.2,263.9 150.9,265.2 149.5,268.1 148.0,270.9 145.9,274.9 142.3,278.6 138.7,283.4 136.3,285.8 134.0,291.1" fill="none" stroke="#f0509a" stroke-width="1.1"/>
<polyline points="165.0,204.2 165.0,213.2 163.5,221.2" fill="none" stroke="#f0509a" stroke-width="1.1"/>
<polyline points="188.4,275.4 192.8,278.4 195.7,285.1 196.5,289.1" fill="none" stroke="#f0509a" stroke-width="1.1"/>
<text x="157.5" y="247.6" text-anchor="middle" class="lb">BS</text>
<text x="218.9" y="278.6" text-anchor="middle" class="lb">QZ</text>
<text x="171.2" y="320.1" text-anchor="middle" class="lb">WZS</text>
<text x="116.0" y="326.4" text-anchor="middle" class="lb">LD</text>
<text x="198.2" y="341.0" text-anchor="middle" class="lb">BT</text>
<text x="260.5" y="224.8" text-anchor="middle" class="lb">TC</text>
<text x="98.5" y="241.4" text-anchor="middle" class="lb">CJ</text>
<path d="M95.2 206.7h0.01M107.0 206.7h0.01M112.9 206.7h0.01M118.7 206.7h0.01M124.6 206.7h0.01M130.5 206.7h0.01M189.3 206.7h0.01M212.8 206.7h0.01M224.6 206.7h0.01M236.3 206.7h0.01M248.1 206.7h0.01M259.9 206.7h0.01M65.8 212.5h0.01M77.6 212.5h0.01M95.2 212.5h0.01M112.9 212.5h0.01M124.6 212.5h0.01M142.3 212.5h0.01M165.8 212.5h0.01M183.4 212.5h0.01M265.7 212.5h0.01M59.9 218.4h0.01M77.6 218.4h0.01M83.5 218.4h0.01M107.0 218.4h0.01M112.9 218.4h0.01M124.6 218.4h0.01M142.3 218.4h0.01M148.1 218.4h0.01M154.0 218.4h0.01M189.3 218.4h0.01M212.8 218.4h0.01M218.7 218.4h0.01M54.1 224.3h0.01M59.9 224.3h0.01M65.8 224.3h0.01M71.7 224.3h0.01M77.6 224.3h0.01M89.3 224.3h0.01M95.2 224.3h0.01M101.1 224.3h0.01M107.0 224.3h0.01M112.9 224.3h0.01M118.7 224.3h0.01M130.5 224.3h0.01M154.0 224.3h0.01M171.7 224.3h0.01M177.5 224.3h0.01M189.3 224.3h0.01M195.2 224.3h0.01M212.8 224.3h0.01M218.7 224.3h0.01M224.6 224.3h0.01M230.5 224.3h0.01M259.9 224.3h0.01M42.3 230.2h0.01M48.2 230.2h0.01M65.8 230.2h0.01M71.7 230.2h0.01M77.6 230.2h0.01M83.5 230.2h0.01M89.3 230.2h0.01M101.1 230.2h0.01M107.0 230.2h0.01M112.9 230.2h0.01M118.7 230.2h0.01M165.8 230.2h0.01M183.4 230.2h0.01M195.2 230.2h0.01M206.9 230.2h0.01M218.7 230.2h0.01M224.6 230.2h0.01M248.1 230.2h0.01M265.7 230.2h0.01M42.3 236.1h0.01M48.2 236.1h0.01M54.1 236.1h0.01M59.9 236.1h0.01M65.8 236.1h0.01M71.7 236.1h0.01M77.6 236.1h0.01M83.5 236.1h0.01M101.1 236.1h0.01M112.9 236.1h0.01M171.7 236.1h0.01M183.4 236.1h0.01M206.9 236.1h0.01M218.7 236.1h0.01M224.6 236.1h0.01M230.5 236.1h0.01M259.9 236.1h0.01M42.3 241.9h0.01M48.2 241.9h0.01M54.1 241.9h0.01M59.9 241.9h0.01M65.8 241.9h0.01M71.7 241.9h0.01M77.6 241.9h0.01M101.1 241.9h0.01M107.0 241.9h0.01M112.9 241.9h0.01M118.7 241.9h0.01M183.4 241.9h0.01M189.3 241.9h0.01M224.6 241.9h0.01M230.5 241.9h0.01M236.3 241.9h0.01M242.2 241.9h0.01M42.3 247.8h0.01M48.2 247.8h0.01M54.1 247.8h0.01M59.9 247.8h0.01M65.8 247.8h0.01M71.7 247.8h0.01M77.6 247.8h0.01M83.5 247.8h0.01M107.0 247.8h0.01M112.9 247.8h0.01M118.7 247.8h0.01M177.5 247.8h0.01M183.4 247.8h0.01M230.5 247.8h0.01M236.3 247.8h0.01M265.7 247.8h0.01M42.3 253.7h0.01M59.9 253.7h0.01M71.7 253.7h0.01M77.6 253.7h0.01M83.5 253.7h0.01M118.7 253.7h0.01M130.5 253.7h0.01M159.9 253.7h0.01M165.8 253.7h0.01M171.7 253.7h0.01M177.5 253.7h0.01M248.1 253.7h0.01M254.0 253.7h0.01M259.9 253.7h0.01M42.3 259.6h0.01M48.2 259.6h0.01M54.1 259.6h0.01M59.9 259.6h0.01M65.8 259.6h0.01M71.7 259.6h0.01M77.6 259.6h0.01M83.5 259.6h0.01M107.0 259.6h0.01M112.9 259.6h0.01M124.6 259.6h0.01M130.5 259.6h0.01M218.7 259.6h0.01M254.0 259.6h0.01M42.3 265.4h0.01M48.2 265.4h0.01M54.1 265.4h0.01M65.8 265.4h0.01M71.7 265.4h0.01M77.6 265.4h0.01M89.3 265.4h0.01M95.2 265.4h0.01M148.1 265.4h0.01M154.0 265.4h0.01M159.9 265.4h0.01M236.3 265.4h0.01M259.9 265.4h0.01M265.7 265.4h0.01M42.3 271.3h0.01M48.2 271.3h0.01M54.1 271.3h0.01M59.9 271.3h0.01M65.8 271.3h0.01M71.7 271.3h0.01M89.3 271.3h0.01M95.2 271.3h0.01M124.6 271.3h0.01M148.1 271.3h0.01M165.8 271.3h0.01M224.6 271.3h0.01M236.3 271.3h0.01M42.3 277.2h0.01M48.2 277.2h0.01M54.1 277.2h0.01M59.9 277.2h0.01M65.8 277.2h0.01M71.7 277.2h0.01M107.0 277.2h0.01M118.7 277.2h0.01M130.5 277.2h0.01M189.3 277.2h0.01M195.2 277.2h0.01M201.1 277.2h0.01M218.7 277.2h0.01M230.5 277.2h0.01M248.1 277.2h0.01M254.0 277.2h0.01M259.9 277.2h0.01M265.7 277.2h0.01M48.2 283.1h0.01M54.1 283.1h0.01M59.9 283.1h0.01M77.6 283.1h0.01M95.2 283.1h0.01M118.7 283.1h0.01M154.0 283.1h0.01M165.8 283.1h0.01M183.4 283.1h0.01M218.7 283.1h0.01M242.2 283.1h0.01M248.1 283.1h0.01M42.3 289.0h0.01M54.1 289.0h0.01M59.9 289.0h0.01M65.8 289.0h0.01M77.6 289.0h0.01M89.3 289.0h0.01M101.1 289.0h0.01M124.6 289.0h0.01M148.1 289.0h0.01M154.0 289.0h0.01M159.9 289.0h0.01M171.7 289.0h0.01M183.4 289.0h0.01M189.3 289.0h0.01M212.8 289.0h0.01M230.5 289.0h0.01M236.3 289.0h0.01M265.7 289.0h0.01M42.3 294.9h0.01M59.9 294.9h0.01M65.8 294.9h0.01M77.6 294.9h0.01M107.0 294.9h0.01M130.5 294.9h0.01M142.3 294.9h0.01M148.1 294.9h0.01M154.0 294.9h0.01M171.7 294.9h0.01M177.5 294.9h0.01M218.7 294.9h0.01M230.5 294.9h0.01M248.1 294.9h0.01M48.2 300.7h0.01M95.2 300.7h0.01M101.1 300.7h0.01M107.0 300.7h0.01M112.9 300.7h0.01M118.7 300.7h0.01M124.6 300.7h0.01M148.1 300.7h0.01M154.0 300.7h0.01M159.9 300.7h0.01M165.8 300.7h0.01M171.7 300.7h0.01M201.1 300.7h0.01M206.9 300.7h0.01M242.2 300.7h0.01M259.9 300.7h0.01M265.7 300.7h0.01M42.3 306.6h0.01M48.2 306.6h0.01M54.1 306.6h0.01M59.9 306.6h0.01M83.5 306.6h0.01M89.3 306.6h0.01M118.7 306.6h0.01M148.1 306.6h0.01M154.0 306.6h0.01M159.9 306.6h0.01M165.8 306.6h0.01M171.7 306.6h0.01M177.5 306.6h0.01M218.7 306.6h0.01M224.6 306.6h0.01M248.1 306.6h0.01M265.7 306.6h0.01M65.8 312.5h0.01M71.7 312.5h0.01M89.3 312.5h0.01M95.2 312.5h0.01M118.7 312.5h0.01M148.1 312.5h0.01M159.9 312.5h0.01M165.8 312.5h0.01M177.5 312.5h0.01M212.8 312.5h0.01M218.7 312.5h0.01M224.6 312.5h0.01M236.3 312.5h0.01M242.2 312.5h0.01M248.1 312.5h0.01M254.0 312.5h0.01M265.7 312.5h0.01M48.2 318.4h0.01M65.8 318.4h0.01M77.6 318.4h0.01M89.3 318.4h0.01M107.0 318.4h0.01M118.7 318.4h0.01M136.4 318.4h0.01M142.3 318.4h0.01M159.9 318.4h0.01M201.1 318.4h0.01M206.9 318.4h0.01M212.8 318.4h0.01M218.7 318.4h0.01M242.2 318.4h0.01M248.1 318.4h0.01M254.0 318.4h0.01M259.9 318.4h0.01M48.2 324.2h0.01M77.6 324.2h0.01M83.5 324.2h0.01M95.2 324.2h0.01M101.1 324.2h0.01M154.0 324.2h0.01M159.9 324.2h0.01M171.7 324.2h0.01M177.5 324.2h0.01M195.2 324.2h0.01M201.1 324.2h0.01M206.9 324.2h0.01M224.6 324.2h0.01M230.5 324.2h0.01M242.2 324.2h0.01M259.9 324.2h0.01M265.7 324.2h0.01M77.6 330.1h0.01M89.3 330.1h0.01M95.2 330.1h0.01M101.1 330.1h0.01M124.6 330.1h0.01M136.4 330.1h0.01M142.3 330.1h0.01M183.4 330.1h0.01M195.2 330.1h0.01M206.9 330.1h0.01M218.7 330.1h0.01M248.1 330.1h0.01M254.0 330.1h0.01M259.9 330.1h0.01M42.3 336.0h0.01M48.2 336.0h0.01M54.1 336.0h0.01M77.6 336.0h0.01M83.5 336.0h0.01M89.3 336.0h0.01M95.2 336.0h0.01M101.1 336.0h0.01M154.0 336.0h0.01M171.7 336.0h0.01M189.3 336.0h0.01M206.9 336.0h0.01M224.6 336.0h0.01M230.5 336.0h0.01M242.2 336.0h0.01M248.1 336.0h0.01M254.0 336.0h0.01M259.9 336.0h0.01M48.2 341.9h0.01M83.5 341.9h0.01M95.2 341.9h0.01M101.1 341.9h0.01M107.0 341.9h0.01M130.5 341.9h0.01M148.1 341.9h0.01M206.9 341.9h0.01M212.8 341.9h0.01M218.7 341.9h0.01M224.6 341.9h0.01M230.5 341.9h0.01M236.3 341.9h0.01M242.2 341.9h0.01M248.1 341.9h0.01M254.0 341.9h0.01M42.3 347.8h0.01M48.2 347.8h0.01M54.1 347.8h0.01M77.6 347.8h0.01M83.5 347.8h0.01M95.2 347.8h0.01M118.7 347.8h0.01M136.4 347.8h0.01M159.9 347.8h0.01M165.8 347.8h0.01M171.7 347.8h0.01M189.3 347.8h0.01M206.9 347.8h0.01M212.8 347.8h0.01M218.7 347.8h0.01M236.3 347.8h0.01M242.2 347.8h0.01M248.1 347.8h0.01M254.0 347.8h0.01M259.9 347.8h0.01M265.7 347.8h0.01" stroke="#505050" stroke-width="1.4" stroke-linecap="round"/>
<path d="M82.6 206.8L83.0 206.7M88.4 206.3L89.0 206.5M101.7 205.8L101.3 206.4M160.2 205.8L160.1 206.2M171.1 205.7L171.5 206.4M177.1 205.6L177.4 206.4M182.7 205.5L183.4 206.6M194.3 206.9L194.7 206.8M200.8 207.7L201.0 207.0M206.0 207.5L206.8 206.7M229.9 207.3L230.1 207.0M254.1 205.2L254.0 206.7M266.0 205.8L265.9 206.2M70.5 213.5L71.8 212.5M82.5 211.8L83.3 212.4M88.4 211.4L89.4 212.6M101.3 211.5L101.2 212.2M107.9 211.4L106.9 212.6M119.8 211.8L118.8 212.5M131.4 212.1L130.9 212.4M137.8 212.3L136.3 212.5M154.7 211.6L154.2 212.3M188.5 213.1L189.0 212.7M201.1 213.5L201.1 213.0M217.8 213.5L218.7 212.6M224.0 213.5L224.5 212.7M235.3 213.3L236.2 212.6M253.9 211.6L253.9 212.1M259.4 211.2L259.8 212.5M65.0 218.7L65.3 218.6M70.3 217.9L71.8 218.4M88.5 218.2L88.8 218.3M94.3 217.6L95.1 218.3M100.9 217.3L101.1 218.1M119.5 217.6L118.9 218.2M131.4 218.5L131.0 218.5M137.6 219.1L136.4 218.4M182.6 218.6L182.8 218.6M229.7 218.9L230.0 218.7M235.0 218.6L236.3 218.4M241.0 217.9L242.1 218.4M253.8 217.6L253.9 217.8M259.6 217.3L259.8 218.2M266.8 217.9L265.9 218.3M83.0 223.5L83.2 223.9M125.6 224.0L125.0 224.2M137.2 223.6L136.7 224.1M143.1 223.8L142.7 224.1M149.3 224.0L148.3 224.3M160.6 223.6L160.2 224.0M200.5 225.1L200.8 224.6M241.0 223.5L242.3 224.3M247.0 223.9L247.8 224.2M254.5 222.9L254.0 224.3M53.1 229.4L54.0 230.1M59.2 230.4L59.4 230.4M125.6 229.2L124.7 230.1M131.3 230.0L131.1 230.1M137.3 229.1L136.4 230.2M200.0 230.7L200.9 230.3M235.2 229.8L236.2 230.1M241.7 229.5L241.8 229.7M254.7 229.4L254.2 229.9M89.8 235.1L89.5 235.7M108.2 235.8L107.1 236.0M119.8 236.4L119.0 236.1M131.4 235.8L130.9 235.9M137.5 236.1L136.7 236.1M176.8 234.9L177.5 236.0M188.4 235.7L188.9 235.9M194.2 235.8L194.8 236.0M212.3 237.2L212.7 236.2M235.0 235.5L236.4 236.1M242.4 234.7L242.2 236.0M248.5 234.8L248.1 236.0M254.7 235.4L254.3 235.8M266.7 235.9L266.2 236.0M83.5 240.7L83.5 241.7M90.1 241.6L89.9 241.7M95.5 240.8L95.3 241.7M137.6 241.8L136.6 241.9M143.3 241.9L142.6 241.9M160.7 240.9L160.0 241.8M166.1 241.2L166.0 241.4M193.7 242.0L195.3 241.9M205.9 242.1L206.6 242.0M212.2 242.5L212.4 242.3M217.5 241.9L218.5 241.9M248.6 240.7L248.1 241.9M255.1 240.9L253.9 242.0M260.9 242.9L259.8 241.9M266.6 243.0L265.8 242.0M102.1 247.8L101.5 247.8M143.3 247.6L142.6 247.7M149.0 247.6L148.7 247.7M155.3 247.9L154.2 247.8M160.9 247.3L160.1 247.7M166.8 247.2L165.9 247.7M171.2 246.8L171.6 247.6M218.0 247.4L218.2 247.5M242.7 247.1L242.5 247.4M249.5 248.3L248.0 247.8M254.9 248.1L254.4 247.9M261.0 248.4L260.0 247.9M48.4 252.8L48.3 253.2M54.6 252.8L54.2 253.4M66.5 253.0L66.1 253.4M102.4 253.2L101.2 253.7M107.8 254.7L107.1 253.8M113.4 254.4L113.1 254.1M125.9 253.8L124.7 253.7M143.3 254.2L142.5 253.8M154.8 254.2L154.4 253.9M199.9 253.4L200.9 253.6M206.5 252.7L206.8 253.4M237.3 253.3L236.7 253.6M90.2 259.6L89.9 259.6M96.5 260.1L95.3 259.6M119.9 259.8L119.0 259.6M154.9 260.1L154.3 259.8M161.3 259.5L159.9 259.6M167.0 259.1L165.9 259.5M178.3 258.8L177.8 259.3M188.8 258.4L189.3 259.5M194.9 258.7L195.0 259.1M200.9 258.5L201.0 259.3M212.4 258.7L212.6 259.2M225.5 258.8L224.8 259.4M231.6 259.0L230.6 259.5M237.7 259.3L236.3 259.6M243.6 259.9L242.2 259.6M248.4 260.4L248.3 260.1M260.0 260.4L260.0 260.1M265.2 260.2L265.4 260.0M61.3 265.2L60.0 265.4M84.7 266.1L83.4 265.4M102.1 265.1L101.4 265.3M125.2 266.5L124.7 265.6M131.8 265.9L130.5 265.5M166.4 264.5L165.9 265.2M172.0 264.2L171.7 265.3M178.5 265.0L177.9 265.3M183.7 264.4L183.5 265.1M195.0 264.5L195.1 265.0M207.4 264.5L207.1 265.2M212.4 264.3L212.8 265.3M231.4 264.7L230.6 265.3M243.2 265.9L242.5 265.6M253.5 266.7L253.9 265.5M101.9 272.2L101.3 271.5M113.7 271.8L113.2 271.5M120.1 271.4L118.7 271.3M154.9 271.4L154.6 271.4M177.8 270.0L177.5 271.3M183.5 270.0L183.4 271.3M195.8 270.8L195.6 270.9M201.9 270.5L201.3 271.1M208.0 270.8L207.1 271.2M219.3 270.6L219.0 271.0M231.4 271.4L230.9 271.3M254.3 272.4L254.1 271.6M259.4 272.0L259.6 271.8M265.8 272.4L265.8 271.7M84.5 277.1L83.8 277.2M90.4 277.1L89.7 277.2M102.0 277.9L101.3 277.3M143.1 278.1L142.4 277.3M148.8 277.7L148.6 277.6M178.2 276.1L177.6 277.1M183.8 276.5L183.7 276.7M207.3 276.3L207.1 276.9M225.4 277.0L225.1 277.1M243.3 277.3L242.6 277.2M43.1 283.1L42.9 283.1M66.3 282.4L66.1 282.6M72.5 282.4L72.0 282.9M108.1 283.6L107.2 283.2M113.6 283.5L113.4 283.4M131.4 282.8L130.9 282.9M172.3 282.0L171.7 283.0M190.3 282.3L189.4 283.0M196.0 282.4L195.4 282.9M202.1 282.3L201.2 283.0M207.9 282.3L207.1 283.0M213.5 282.0L212.9 283.0M231.8 282.7L230.5 283.1M254.6 284.4L253.9 283.0M260.3 284.2L259.9 283.3M266.4 284.4L265.7 283.0M49.3 288.8L48.5 288.9M108.0 288.7L107.3 288.9M113.9 288.1L112.9 288.9M131.9 288.5L130.5 289.0M137.6 289.6L136.4 289.0M167.2 288.6L165.8 289.0M178.1 288.2L177.8 288.6M196.0 287.8L195.2 289.0M207.6 288.2L207.2 288.7M225.5 288.7L225.0 288.8M243.0 288.6L242.7 288.7M248.7 290.0L248.2 289.1M49.1 293.8L48.2 294.8M54.8 294.0L54.2 294.6M72.3 293.6L71.7 294.9M83.8 293.8L83.5 294.6M89.7 293.4L89.3 294.9M94.7 294.1L95.0 294.5M100.7 293.8L101.0 294.6M113.7 293.6L112.8 294.9M125.0 294.2L124.9 294.3M137.7 294.9L136.5 294.9M161.2 294.4L159.9 294.9M166.0 293.9L165.9 294.4M189.5 293.8L189.4 294.5M195.7 294.0L195.4 294.5M201.6 293.9L201.2 294.6M212.4 294.0L212.6 294.4M225.0 293.6L224.6 294.8M237.5 294.9L236.6 294.9M242.8 294.1L242.5 294.5M260.7 295.1L260.3 295.0M53.3 299.9L53.9 300.5M64.8 300.1L65.7 300.6M71.4 299.9L71.5 300.3M82.5 300.5L83.1 300.6M88.6 300.3L88.8 300.4M136.9 300.1L136.7 300.3M177.4 299.7L177.5 300.4M218.3 299.4L218.7 300.7M231.0 299.5L230.5 300.7M236.5 299.5L236.4 300.6M249.0 300.3L248.4 300.6M255.2 300.7L254.2 300.7M65.1 306.1L65.4 306.3M70.7 306.8L71.3 306.7M93.8 306.2L95.3 306.6M99.9 305.8L101.1 306.6M106.3 305.8L106.8 306.3M111.8 305.8L112.8 306.6M124.3 305.6L124.5 306.3M130.9 305.2L130.5 306.7M136.8 305.8L136.6 306.2M142.7 305.5L142.3 306.4M183.5 305.3L183.4 306.5M189.1 305.1L189.3 306.7M195.1 305.1L195.2 306.7M230.3 305.6L230.4 306.2M237.1 305.6L236.4 306.5M242.5 305.3L242.2 306.6M255.1 305.7L253.9 306.6M41.8 311.1L42.3 312.6M58.7 312.9L59.9 312.5M106.4 311.5L106.9 312.3M124.5 311.2L124.6 312.4M130.8 311.5L130.6 312.2M136.2 311.4L136.3 312.2M154.6 311.1L154.0 312.6M188.3 311.5L189.3 312.5M206.0 312.0L206.7 312.3M40.9 318.0L42.3 318.4M59.1 318.6L59.4 318.5M70.7 318.8L71.4 318.5M94.1 318.9L95.0 318.4M111.6 318.3L112.8 318.4M124.9 317.5L124.8 317.9M130.1 317.2L130.5 318.2M149.0 317.8L148.5 318.1M154.3 317.0L154.0 318.3M172.3 317.0L171.6 318.5M183.5 317.3L183.4 318.1M194.2 317.9L194.9 318.2M224.0 317.3L224.5 318.2M229.0 318.1L230.5 318.4M235.5 317.4L236.3 318.3M265.7 317.0L265.7 318.3M59.4 324.9L59.6 324.6M89.0 325.0L89.1 324.8M118.7 323.3L118.7 323.8M136.6 323.2L136.4 324.0M143.4 323.6L142.4 324.2M148.9 323.2L148.2 324.2M189.3 322.8L189.3 324.3M211.9 323.6L212.6 324.1M217.4 323.7L218.7 324.3M235.5 323.7L236.0 324.0M248.1 323.4L248.1 323.7M254.3 322.9L254.0 324.2M41.4 329.4L42.1 330.0M59.2 331.4L60.0 330.1M64.9 331.1L65.8 330.2M82.8 330.8L83.1 330.5M111.4 329.8L112.9 330.1M117.6 329.5L118.7 330.1M149.1 329.1L148.2 330.1M154.9 329.4L154.2 330.0M171.6 328.7L171.7 330.1M177.7 329.2L177.6 329.7M188.6 329.7L188.8 329.8M199.9 329.5L201.0 330.1M212.0 330.0L212.3 330.0M223.3 330.0L224.5 330.1M229.7 329.0L230.4 330.1M235.0 329.8L236.3 330.1M241.8 329.3L242.0 329.7M265.1 329.3L265.5 329.8M70.9 337.1L71.6 336.1M125.3 335.5L125.0 335.7M131.3 335.1L130.7 335.8M149.6 335.7L148.0 336.0M160.9 335.8L160.2 335.9M177.2 334.6L177.5 336.0M183.5 335.2L183.5 335.5M212.3 335.3L212.5 335.6M217.6 335.9L218.4 336.0M235.0 336.1L236.3 336.0M71.2 342.7L71.5 342.3M76.7 342.0L77.1 342.0M88.3 341.5L89.1 341.8M113.0 340.8L112.9 341.6M143.5 342.2L142.4 341.9M155.1 341.8L154.4 341.9M173.0 341.5L171.7 341.9M177.9 341.2L177.8 341.4M259.2 341.1L259.6 341.6M64.4 347.7L65.9 347.8M88.2 348.0L89.1 347.8M101.0 346.8L101.1 347.4M131.6 347.9L130.8 347.8M143.7 347.9L142.3 347.8M149.0 347.9L148.6 347.9M184.1 346.5L183.4 347.8M200.3 347.2L200.7 347.5M223.4 347.2L224.5 347.7M229.5 347.4L230.1 347.6" stroke="#45b0f0" stroke-width="1.2" fill="none"/>
<path d="M84.3 206.5L83.1 207.6L82.8 205.9zM90.3 207.0L88.7 207.3L89.2 205.7zM100.5 207.5L100.6 205.8L102.0 206.9zM159.6 207.5L159.3 205.9L160.9 206.5zM172.3 207.6L170.8 206.9L172.2 206.0zM178.0 207.7L176.7 206.8L178.2 206.0zM184.1 207.8L182.7 207.0L184.1 206.2zM196.0 206.4L194.9 207.6L194.4 206.0zM201.3 205.6L201.8 207.2L200.2 206.8zM207.9 205.8L207.4 207.4L206.3 206.1zM231.0 206.0L230.8 207.6L229.5 206.5zM253.8 208.1L253.1 206.6L254.8 206.7zM265.5 207.5L265.1 205.9L266.7 206.5zM72.9 211.6L72.3 213.1L71.2 211.8zM84.4 213.3L82.8 213.1L83.8 211.7zM90.3 213.7L88.7 213.1L90.1 212.1zM100.9 213.6L100.3 212.0L102.0 212.4zM106.0 213.6L106.3 212.0L107.6 213.1zM117.6 213.3L118.3 211.8L119.3 213.2zM129.6 212.9L130.5 211.6L131.2 213.1zM134.9 212.7L136.2 211.7L136.4 213.4zM153.3 213.5L153.5 211.8L154.8 212.8zM190.1 212.0L189.5 213.4L188.5 212.0zM201.0 211.6L201.9 212.9L200.2 213.1zM219.6 211.5L219.3 213.1L218.0 212.0zM225.1 211.5L225.2 213.1L223.7 212.3zM237.4 211.8L236.7 213.3L235.7 211.9zM254.1 213.5L253.1 212.2L254.8 212.0zM260.3 213.8L259.0 212.8L260.6 212.2zM66.6 218.1L65.7 219.4L65.0 217.8zM73.1 218.9L71.5 219.3L72.1 217.6zM90.2 218.6L88.6 219.1L89.0 217.5zM96.1 219.2L94.5 218.9L95.6 217.6zM101.3 219.5L100.2 218.3L101.9 218.0zM117.9 219.2L118.3 217.6L119.5 218.8zM129.6 218.3L131.1 217.6L130.9 219.3zM135.1 217.8L136.7 217.6L136.0 219.2zM184.2 218.2L183.1 219.4L182.6 217.7zM231.2 217.9L230.5 219.4L229.6 218.0zM237.7 218.3L236.4 219.3L236.2 217.6zM243.4 218.9L241.8 219.2L242.4 217.6zM254.1 219.2L253.0 218.0L254.7 217.7zM260.1 219.5L259.0 218.4L260.6 218.0zM264.7 218.9L265.6 217.5L266.3 219.1zM84.0 225.1L82.5 224.4L83.9 223.4zM123.7 224.6L124.8 223.4L125.3 225.0zM135.6 225.0L136.1 223.4L137.2 224.7zM141.4 224.7L142.2 223.3L143.1 224.8zM146.9 224.6L148.1 223.4L148.5 225.1zM159.2 225.0L159.6 223.4L160.8 224.6zM201.7 223.5L201.5 225.1L200.1 224.1zM243.4 225.1L241.8 225.0L242.7 223.6zM249.2 224.7L247.6 225.0L248.1 223.4zM253.5 225.6L253.2 224.0L254.8 224.6zM55.0 231.0L53.4 230.7L54.5 229.4zM60.7 229.9L59.6 231.2L59.1 229.5zM123.6 231.1L124.1 229.5L125.2 230.8zM129.7 230.3L130.9 229.2L131.2 230.9zM135.4 231.2L135.7 229.6L137.0 230.8zM202.1 229.6L201.3 231.0L200.5 229.5zM237.5 230.6L235.9 230.9L236.4 229.3zM242.7 230.8L241.2 230.3L242.5 229.2zM253.3 230.9L253.6 229.3L254.8 230.5zM88.9 237.0L88.7 235.3L90.3 236.1zM105.7 236.3L106.9 235.2L107.3 236.9zM117.7 235.7L119.3 235.3L118.7 236.9zM129.6 236.3L130.7 235.1L131.2 236.7zM135.3 236.0L136.7 235.2L136.6 236.9zM178.3 237.2L176.8 236.5L178.3 235.6zM190.2 236.4L188.6 236.7L189.2 235.1zM196.1 236.3L194.6 236.8L195.0 235.1zM213.3 234.9L213.5 236.6L212.0 235.9zM237.7 236.6L236.1 236.9L236.7 235.3zM242.1 237.4L241.4 235.9L243.1 236.1zM247.7 237.3L247.3 235.7L248.9 236.3zM253.3 236.7L253.7 235.1L254.9 236.4zM264.8 236.2L266.0 235.2L266.3 236.8zM83.5 243.1L82.6 241.7L84.3 241.7zM88.6 242.3L89.5 240.9L90.2 242.4zM95.0 243.0L94.5 241.5L96.1 241.9zM135.2 242.0L136.5 241.1L136.7 242.8zM141.2 242.0L142.5 241.1L142.6 242.8zM159.1 242.9L159.3 241.3L160.7 242.3zM165.5 242.7L165.2 241.1L166.8 241.7zM196.6 241.8L195.3 242.8L195.2 241.1zM208.0 241.7L206.8 242.8L206.5 241.1zM213.5 241.4L212.9 242.9L211.8 241.6zM219.9 241.9L218.5 242.8L218.5 241.1zM247.6 243.2L247.3 241.6L248.9 242.2zM252.8 242.9L253.3 241.4L254.4 242.6zM258.8 240.9L260.4 241.3L259.2 242.5zM264.9 240.9L266.4 241.5L265.1 242.5zM100.1 247.8L101.5 247.0L101.5 248.7zM141.2 248.1L142.4 246.9L142.8 248.6zM147.3 248.0L148.5 246.9L148.9 248.5zM152.8 247.7L154.2 247.0L154.1 248.7zM158.9 248.4L159.7 246.9L160.5 248.4zM164.7 248.5L165.5 247.0L166.4 248.5zM172.1 248.9L170.8 247.9L172.3 247.2zM219.4 248.2L217.8 248.3L218.6 246.8zM241.7 248.5L241.8 246.9L243.2 247.9zM246.7 247.4L248.3 247.0L247.8 248.6zM253.0 247.5L254.6 247.1L254.1 248.7zM258.8 247.3L260.4 247.1L259.6 248.6zM48.0 254.6L47.5 253.0L49.1 253.4zM53.5 254.6L53.5 252.9L55.0 253.9zM65.1 254.4L65.5 252.8L66.7 254.0zM99.8 254.2L100.8 252.9L101.5 254.5zM106.2 252.7L107.7 253.3L106.4 254.3zM112.3 252.9L113.8 253.6L112.4 254.6zM123.3 253.6L124.7 252.8L124.6 254.5zM141.3 253.1L142.9 253.1L142.1 254.6zM153.2 253.2L154.9 253.2L154.0 254.7zM202.2 254.0L200.7 254.5L201.1 252.8zM207.3 254.7L206.0 253.7L207.6 253.1zM235.4 254.0L236.4 252.8L237.0 254.4zM88.5 259.5L90.0 258.8L89.8 260.5zM94.0 259.1L95.6 258.8L95.0 260.4zM117.6 259.3L119.2 258.8L118.8 260.5zM153.1 259.1L154.8 259.0L153.9 260.5zM158.5 259.7L159.8 258.7L159.9 260.4zM164.6 260.0L165.6 258.7L166.2 260.3zM176.8 260.3L177.2 258.7L178.4 260.0zM189.8 260.8L188.5 259.8L190.1 259.2zM195.5 260.4L194.2 259.3L195.8 258.8zM201.2 260.6L200.2 259.4L201.9 259.1zM213.3 260.5L211.9 259.6L213.4 258.8zM223.7 260.3L224.2 258.8L225.3 260.1zM229.4 260.1L230.2 258.7L231.0 260.3zM234.9 259.8L236.2 258.7L236.5 260.4zM240.9 259.3L242.4 258.7L242.0 260.4zM247.8 258.8L249.1 259.7L247.5 260.4zM259.7 258.7L260.8 259.9L259.1 260.3zM266.3 258.9L266.1 260.5L264.7 259.5zM58.6 265.7L59.8 264.6L60.1 266.3zM82.2 264.8L83.8 264.7L83.0 266.2zM100.1 265.8L101.2 264.5L101.7 266.1zM124.1 264.4L125.5 265.2L124.0 266.0zM129.2 265.0L130.8 264.7L130.2 266.3zM165.1 266.4L165.2 264.7L166.6 265.7zM171.3 266.7L170.9 265.1L172.5 265.5zM176.6 265.9L177.5 264.5L178.2 266.1zM183.2 266.5L182.7 264.9L184.3 265.3zM195.4 266.4L194.2 265.2L195.9 264.8zM206.5 266.4L206.3 264.8L207.8 265.5zM213.3 266.6L212.0 265.6L213.6 265.0zM229.5 266.2L230.1 264.7L231.2 266.0zM241.3 265.0L242.9 264.9L242.1 266.4zM254.5 264.2L254.7 265.9L253.2 265.2zM100.3 270.4L101.9 270.9L100.6 272.1zM112.0 270.8L113.6 270.8L112.8 272.3zM117.3 271.3L118.8 270.5L118.7 272.2zM153.2 271.3L154.6 270.5L154.5 272.2zM177.3 272.7L176.7 271.1L178.4 271.5zM183.3 272.7L182.6 271.2L184.3 271.3zM194.6 271.9L195.0 270.3L196.2 271.5zM200.3 272.1L200.7 270.5L201.9 271.7zM205.9 271.9L206.7 270.5L207.5 272.0zM218.1 272.1L218.3 270.5L219.7 271.5zM229.5 271.3L231.0 270.5L230.9 272.2zM253.6 270.3L254.9 271.4L253.3 271.9zM260.4 270.6L260.2 272.3L258.9 271.3zM265.6 270.3L266.6 271.6L264.9 271.7zM82.4 277.3L83.7 276.3L83.9 278.0zM88.3 277.3L89.6 276.3L89.8 278.0zM100.2 276.5L101.8 276.7L100.8 278.0zM141.4 276.3L143.0 276.8L141.7 277.9zM147.5 276.7L149.1 276.9L148.1 278.2zM176.8 278.3L176.9 276.7L178.3 277.6zM183.0 278.0L182.9 276.3L184.4 277.1zM206.5 278.2L206.3 276.5L207.9 277.2zM223.7 277.4L224.9 276.2L225.3 277.9zM241.2 277.1L242.6 276.4L242.5 278.1zM41.5 283.0L42.9 282.3L42.8 284.0zM65.4 283.8L65.4 282.2L66.8 283.1zM70.9 283.8L71.4 282.2L72.5 283.5zM105.9 282.6L107.5 282.4L106.8 284.0zM112.2 282.7L113.8 282.7L112.9 284.1zM129.6 283.4L130.7 282.1L131.2 283.7zM171.0 284.2L171.0 282.6L172.4 283.4zM188.3 283.9L188.9 282.3L189.9 283.7zM194.4 283.8L194.9 282.2L196.0 283.5zM200.1 283.8L200.7 282.3L201.7 283.7zM206.0 283.9L206.5 282.3L207.6 283.7zM212.2 284.1L212.2 282.5L213.6 283.4zM229.1 283.5L230.2 282.3L230.7 283.9zM253.3 281.7L254.7 282.6L253.2 283.4zM259.4 282.0L260.7 283.0L259.1 283.6zM265.1 281.8L266.5 282.7L264.9 283.4zM47.1 289.2L48.3 288.1L48.6 289.8zM106.0 289.2L107.1 288.1L107.6 289.7zM111.8 289.8L112.4 288.3L113.4 289.6zM129.1 289.4L130.2 288.2L130.7 289.8zM135.1 288.3L136.8 288.2L136.0 289.7zM164.4 289.3L165.6 288.1L165.9 289.8zM177.0 289.7L177.2 288.1L178.5 289.1zM194.4 290.1L194.5 288.5L195.9 289.5zM206.2 289.7L206.6 288.1L207.8 289.3zM223.6 289.3L224.7 288.0L225.2 289.7zM241.5 289.4L242.3 288.0L243.1 289.5zM247.5 287.9L248.9 288.7L247.5 289.6zM47.2 295.9L47.6 294.3L48.8 295.4zM53.3 295.7L53.6 294.1L54.9 295.2zM71.1 296.1L70.9 294.5L72.5 295.2zM83.1 295.9L82.7 294.3L84.4 294.9zM89.0 296.3L88.5 294.7L90.2 295.1zM95.7 295.6L94.2 294.9L95.7 294.0zM101.5 295.9L100.2 294.9L101.8 294.2zM112.1 296.1L112.1 294.5L113.5 295.4zM124.2 295.5L124.2 293.9L125.7 294.8zM135.1 294.8L136.5 294.0L136.4 295.7zM158.6 295.3L159.7 294.0L160.1 295.7zM165.5 295.8L165.1 294.2L166.7 294.7zM189.1 295.9L188.5 294.3L190.2 294.7zM194.7 295.7L194.7 294.1L196.1 294.9zM200.5 295.8L200.5 294.2L201.9 295.0zM213.2 295.7L211.8 294.8L213.4 294.1zM224.2 296.1L223.8 294.5L225.4 295.1zM235.2 294.8L236.7 294.0L236.6 295.7zM241.7 295.6L241.8 294.0L243.2 295.0zM259.0 294.6L260.6 294.2L260.1 295.8zM54.9 301.5L53.3 301.1L54.5 299.9zM66.8 301.4L65.2 301.3L66.1 299.9zM72.0 301.6L70.7 300.6L72.3 299.9zM84.4 301.0L82.8 301.4L83.3 299.8zM90.0 301.1L88.4 301.2L89.3 299.7zM135.9 301.4L136.0 299.8L137.4 300.8zM177.7 301.8L176.7 300.5L178.3 300.3zM219.1 302.1L217.9 301.0L219.5 300.5zM229.9 302.0L229.7 300.4L231.3 301.0zM236.2 302.0L235.5 300.5L237.2 300.7zM247.2 301.2L248.0 299.8L248.8 301.3zM252.8 300.8L254.2 299.9L254.2 301.6zM66.6 307.1L64.9 307.0L65.9 305.6zM72.7 306.4L71.5 307.5L71.1 305.9zM96.7 307.0L95.1 307.5L95.5 305.8zM102.3 307.4L100.6 307.3L101.6 305.9zM107.7 307.4L106.1 306.9L107.4 305.8zM113.9 307.4L112.3 307.2L113.3 305.9zM125.0 307.6L123.7 306.6L125.3 306.0zM130.1 308.0L129.7 306.5L131.3 306.9zM135.9 307.4L135.8 305.8L137.3 306.6zM141.8 307.7L141.6 306.1L143.1 306.7zM183.4 307.9L182.6 306.5L184.3 306.6zM189.5 308.1L188.5 306.8L190.2 306.6zM195.3 308.1L194.3 306.8L196.0 306.7zM230.7 307.6L229.6 306.4L231.2 306.1zM235.6 307.6L235.7 306.0L237.1 307.0zM241.9 307.9L241.4 306.4L243.1 306.7zM252.8 307.5L253.4 306.0L254.5 307.3zM42.8 313.9L41.5 312.8L43.1 312.3zM61.2 312.1L60.1 313.3L59.6 311.7zM107.6 313.5L106.1 312.7L107.6 311.8zM124.7 313.8L123.8 312.4L125.5 312.3zM130.2 313.5L129.8 311.9L131.4 312.4zM136.5 313.6L135.5 312.3L137.2 312.1zM153.5 313.9L153.2 312.3L154.8 312.9zM190.3 313.5L188.7 313.1L189.9 311.9zM207.9 313.0L206.3 313.1L207.1 311.6zM43.7 318.8L42.1 319.2L42.5 317.6zM60.8 318.1L59.7 319.3L59.2 317.7zM72.7 318.0L71.8 319.3L71.1 317.7zM96.3 317.9L95.4 319.2L94.7 317.7zM114.2 318.5L112.7 319.2L112.8 317.5zM124.3 319.3L123.9 317.7L125.6 318.2zM130.9 319.6L129.6 318.5L131.3 318.0zM147.3 318.9L148.0 317.4L149.0 318.8zM153.8 319.7L153.2 318.2L154.9 318.5zM171.0 319.7L170.8 318.1L172.4 318.8zM183.4 319.5L182.6 318.0L184.3 318.1zM196.1 318.9L194.5 319.0L195.3 317.5zM225.2 319.4L223.7 318.6L225.2 317.8zM231.9 318.6L230.4 319.2L230.7 317.5zM237.2 319.4L235.6 318.8L236.9 317.7zM265.8 319.7L264.9 318.4L266.6 318.3zM60.5 323.6L60.2 325.2L59.0 324.1zM89.6 323.5L89.9 325.1L88.3 324.5zM118.8 325.2L117.9 323.9L119.6 323.8zM136.2 325.3L135.6 323.8L137.3 324.1zM141.2 324.9L141.9 323.5L142.8 324.9zM147.3 325.3L147.5 323.7L148.9 324.7zM189.3 325.7L188.4 324.3L190.1 324.4zM213.8 324.9L212.1 324.8L213.1 323.4zM220.0 324.8L218.4 325.0L219.1 323.5zM237.1 324.8L235.5 324.7L236.5 323.3zM248.1 325.1L247.3 323.7L249.0 323.8zM253.6 325.6L253.2 324.0L254.8 324.4zM43.2 330.8L41.6 330.7L42.6 329.3zM60.6 328.8L60.7 330.4L59.2 329.7zM66.7 329.1L66.4 330.7L65.1 329.6zM84.1 329.5L83.7 331.1L82.5 329.9zM114.3 330.5L112.7 331.0L113.1 329.3zM119.9 330.7L118.3 330.8L119.0 329.3zM147.2 331.1L147.5 329.5L148.8 330.7zM153.1 330.8L153.7 329.3L154.7 330.7zM171.7 331.5L170.8 330.2L172.5 330.1zM177.4 331.1L176.8 329.6L178.4 329.8zM190.0 330.6L188.4 330.6L189.2 329.1zM202.2 330.8L200.6 330.8L201.4 329.3zM213.7 330.3L212.2 330.9L212.4 329.2zM225.8 330.3L224.4 331.0L224.5 329.3zM231.2 331.2L229.7 330.6L231.1 329.6zM237.7 330.4L236.1 331.0L236.5 329.3zM242.6 331.0L241.3 330.1L242.8 329.3zM266.4 330.9L264.9 330.4L266.1 329.3zM72.5 335.0L72.3 336.6L71.0 335.6zM123.9 336.5L124.5 335.0L125.5 336.4zM129.7 336.9L130.0 335.3L131.3 336.4zM146.7 336.3L147.9 335.2L148.2 336.9zM158.9 336.2L160.1 335.1L160.4 336.8zM177.9 337.4L176.7 336.2L178.4 335.8zM183.3 336.9L182.6 335.4L184.3 335.6zM213.3 336.7L211.8 336.1L213.2 335.1zM219.8 336.1L218.3 336.8L218.5 335.1zM237.7 335.9L236.4 336.9L236.2 335.2zM72.2 341.1L72.2 342.7L70.7 341.8zM78.4 341.8L77.2 342.8L76.9 341.1zM90.4 342.3L88.8 342.6L89.4 341.0zM112.8 343.0L112.0 341.5L113.7 341.7zM141.0 341.6L142.5 341.1L142.2 342.7zM153.0 341.9L154.3 341.0L154.4 342.7zM170.3 342.2L171.5 341.1L171.9 342.7zM177.1 342.6L177.1 341.0L178.6 341.8zM260.5 342.7L259.0 342.1L260.3 341.0zM67.3 347.9L65.8 348.6L66.0 346.9zM90.4 347.6L89.2 348.7L88.9 347.0zM101.2 348.8L100.2 347.5L101.9 347.3zM129.4 347.6L130.9 347.0L130.7 348.7zM140.9 347.6L142.4 346.9L142.1 348.6zM147.3 347.6L148.8 347.0L148.5 348.7zM182.8 349.0L182.7 347.4L184.2 348.2zM201.8 348.3L200.2 348.2L201.2 346.8zM225.8 348.3L224.2 348.5L224.9 347.0zM231.4 348.2L229.8 348.4L230.4 346.8z" fill="#45b0f0" stroke="#45b0f0" stroke-width="0.5"/>
<path d="M150.5 208.0L148.1 206.6M167.0 204.4L165.8 206.6M218.2 208.5L218.6 207.1M150.4 211.2L148.2 212.5M194.1 214.1L194.9 212.9M206.5 214.7L206.9 212.8M229.2 213.8L230.1 212.9M245.5 212.6L248.1 212.5M159.2 216.5L159.8 218.1M194.1 220.3L195.0 218.6M200.9 220.2L201.0 218.9M207.0 220.8L206.9 218.6M246.3 217.8L247.7 218.3M164.3 222.5L165.7 224.1M181.2 225.0L183.2 224.4M206.1 226.2L206.8 224.6M234.6 224.0L235.8 224.2M267.4 223.6L266.3 224.1M94.7 227.9L95.2 230.0M149.4 228.6L148.4 229.9M155.7 229.6L154.5 230.0M161.5 228.4L160.0 230.1M171.1 227.9L171.6 230.0M175.7 230.5L177.1 230.3M187.4 230.8L188.9 230.3M212.9 232.2L212.8 230.6M228.4 229.3L230.2 230.1M261.8 229.6L260.3 230.1M95.4 234.2L95.3 235.6M143.5 234.4L142.5 235.7M150.0 235.6L148.6 235.9M155.3 234.1L154.1 235.9M165.8 233.4L165.8 236.0M199.0 237.0L200.8 236.2M132.2 243.8L130.6 242.0M149.9 241.4L148.6 241.8M155.8 240.7L154.3 241.8M199.5 242.8L200.6 242.2M90.1 245.9L89.5 247.5M97.2 246.8L95.5 247.7M138.3 247.8L136.8 247.8M187.6 247.3L188.8 247.7M193.4 247.3L194.7 247.7M198.6 248.4L201.0 247.8M204.5 247.8L206.8 247.8M224.4 245.9L224.5 247.3M149.9 253.5L148.7 253.6M193.3 252.8L194.9 253.5M212.3 251.9L212.7 253.2M218.4 252.0L218.6 253.1M224.5 251.8L224.6 253.2M231.5 251.6L230.6 253.5M244.0 254.7L242.5 253.9M265.0 255.7L265.6 254.0M144.0 259.6L142.8 259.6M150.0 259.1L148.6 259.5M173.3 257.9L171.8 259.4M184.6 258.2L183.7 259.2M207.0 257.8L206.9 259.1M109.1 265.5L107.3 265.5M114.6 266.6L113.1 265.6M119.1 267.5L118.8 265.8M137.4 267.4L136.5 265.7M144.2 265.7L142.7 265.5M201.8 263.9L201.3 264.9M219.8 263.6L218.9 265.2M226.4 265.2L225.1 265.4M79.4 270.7L78.0 271.2M108.5 272.5L107.4 271.6M137.0 273.6L136.4 271.5M161.6 270.6L160.4 271.1M173.3 270.9L172.2 271.2M191.0 269.6L189.4 271.2M213.0 269.6L212.9 270.8M243.7 272.2L242.7 271.6M115.0 277.9L113.1 277.3M125.8 279.1L124.8 277.4M155.8 278.9L154.1 277.3M167.5 277.8L166.3 277.4M173.5 276.6L172.1 277.1M213.0 275.3L212.9 276.7M238.0 277.5L236.9 277.3M84.3 280.9L83.5 282.9M90.1 281.3L89.5 282.7M138.1 283.5L136.9 283.2M144.0 283.9L142.7 283.3M150.1 283.5L148.5 283.2M161.5 281.4L160.0 282.9M178.4 281.4L177.8 282.7M226.4 283.1L225.1 283.1M120.4 288.8L119.3 288.9M144.0 288.4L142.7 288.8M202.6 287.7L201.3 288.7M220.2 287.9L219.1 288.7M261.3 290.4L260.1 289.2M120.5 293.9L119.1 294.7M182.8 293.0L183.3 294.5M256.1 294.7L254.3 294.8M266.7 296.9L265.9 295.1M43.9 299.4L42.6 300.5M59.2 299.1L59.7 300.3M132.7 300.2L130.7 300.7M144.0 299.6L142.6 300.5M195.8 298.9L195.3 300.3M213.2 298.9L212.9 300.3M224.5 298.8L224.6 300.3M76.0 305.1L77.4 306.4M205.4 304.8L206.8 306.5M261.2 305.2L260.2 306.3M46.0 311.9L48.0 312.4M53.0 310.6L53.9 312.2M75.8 313.3L77.2 312.7M82.0 314.0L83.2 312.7M99.6 311.4L100.7 312.2M111.4 311.6L112.4 312.2M141.8 310.9L142.1 311.9M171.1 310.8L171.5 312.0M183.5 310.7L183.4 312.0M195.3 310.7L195.2 311.9M199.5 311.6L200.6 312.2M229.5 310.9L230.2 312.1M259.8 310.6L259.8 312.1M51.8 318.9L53.9 318.4M82.7 320.5L83.4 318.6M98.6 318.6L101.0 318.4M177.5 315.9L177.5 318.2M64.3 325.8L65.6 324.4M105.1 324.1L106.5 324.2M111.2 322.9L112.6 324.1M131.5 321.7L130.5 324.3M183.3 322.3L183.4 323.8M52.3 331.7L53.9 330.3M69.3 331.1L71.7 330.1M105.7 328.9L106.6 329.8M160.8 328.5L160.1 329.7M167.5 328.1L165.8 330.1M58.0 336.9L59.7 336.1M65.5 337.9L65.8 336.5M105.6 334.7L106.7 335.7M137.8 333.8L136.4 336.0M193.8 334.8L194.8 335.7M199.2 334.2L201.0 336.0M265.1 333.5L265.7 335.9M40.9 340.8L41.9 341.6M52.2 342.0L53.6 341.9M58.6 343.6L59.8 342.1M64.0 342.1L65.3 341.9M118.3 340.0L118.6 341.5M138.1 340.6L136.6 341.7M161.9 340.9L160.1 341.8M184.4 340.3L183.7 341.5M188.7 339.4L189.3 341.8M199.1 341.2L200.7 341.8M264.9 340.5L265.4 341.4M58.3 347.2L59.4 347.6M69.6 347.6L71.4 347.7M113.2 345.6L112.9 347.5M126.5 347.2L125.0 347.6M178.7 345.9L177.7 347.6M194.1 345.6L195.1 347.7" stroke="#1010e0" stroke-width="1.35" fill="none"/>
<path d="M145.8 205.3L148.8 205.5L147.4 207.8zM164.6 208.9L164.7 206.0L167.0 207.2zM219.2 204.8L219.8 207.4L217.3 206.7zM145.9 213.9L147.5 211.4L148.8 213.6zM196.3 211.0L196.0 213.7L193.8 212.2zM207.4 210.4L208.2 213.1L205.6 212.5zM231.7 211.3L231.0 213.8L229.2 212.0zM250.7 212.4L248.1 213.8L248.0 211.2zM160.6 220.3L158.6 218.5L161.0 217.6zM196.3 216.5L196.2 219.3L193.9 218.0zM201.3 216.6L202.3 219.1L199.7 218.8zM206.9 216.0L208.2 218.6L205.6 218.6zM249.9 219.0L247.3 219.5L248.1 217.0zM167.3 226.1L164.7 225.0L166.7 223.3zM185.6 223.6L183.6 225.6L182.8 223.1zM207.8 222.4L208.0 225.2L205.6 224.1zM238.1 224.6L235.6 225.5L236.0 222.9zM264.1 225.0L265.8 222.9L266.7 225.3zM95.8 232.5L93.9 230.3L96.4 229.7zM146.9 231.7L147.4 229.0L149.4 230.7zM152.3 230.7L154.1 228.8L154.9 231.3zM158.3 232.0L159.0 229.2L161.0 230.9zM172.3 232.5L170.4 230.3L172.9 229.7zM179.4 229.8L177.3 231.5L176.8 229.0zM191.2 229.6L189.3 231.5L188.5 229.1zM212.7 228.2L214.1 230.5L211.5 230.6zM232.5 231.1L229.7 231.2L230.8 228.9zM258.0 230.7L259.9 228.8L260.6 231.3zM95.1 237.9L94.0 235.5L96.5 235.7zM141.0 237.7L141.5 235.0L143.5 236.5zM146.3 236.5L148.3 234.7L148.9 237.2zM152.7 238.0L153.0 235.2L155.2 236.6zM165.8 238.7L164.5 236.0L167.1 236.0zM203.1 235.1L201.3 237.3L200.3 235.0zM128.8 240.0L131.5 241.1L129.6 242.9zM146.4 242.5L148.2 240.5L149.0 243.0zM152.2 243.1L153.5 240.7L155.0 242.9zM202.6 241.1L201.2 243.3L200.0 241.0zM88.6 249.7L88.3 247.0L90.7 247.9zM93.3 248.8L94.9 246.5L96.1 248.8zM134.5 247.8L136.8 246.5L136.8 249.1zM191.0 248.3L188.4 248.9L189.1 246.4zM197.0 248.3L194.3 248.9L195.1 246.4zM203.5 247.2L201.3 249.1L200.7 246.6zM209.4 247.8L206.8 249.1L206.8 246.5zM224.7 249.7L223.2 247.5L225.8 247.2zM146.4 253.9L148.5 252.3L148.8 254.9zM197.0 254.6L194.3 254.7L195.4 252.4zM213.3 255.5L211.4 253.6L213.9 252.9zM219.0 255.4L217.3 253.3L219.9 252.9zM224.7 255.6L223.3 253.3L225.9 253.1zM229.4 255.8L229.4 252.9L231.7 254.1zM240.4 252.7L243.2 252.7L241.9 255.0zM266.5 251.7L266.8 254.5L264.4 253.5zM140.5 259.5L142.9 258.3L142.8 260.9zM146.3 260.0L148.3 258.2L148.9 260.7zM170.1 261.2L170.9 258.5L172.7 260.3zM182.2 261.0L182.7 258.4L184.7 260.0zM206.9 261.4L205.6 259.0L208.2 259.1zM104.9 265.4L107.4 264.2L107.3 266.8zM111.1 264.3L113.9 264.5L112.4 266.7zM118.3 263.4L120.1 265.6L117.5 266.0zM135.4 263.5L137.7 265.1L135.4 266.3zM140.3 265.2L142.9 264.2L142.5 266.8zM200.3 267.0L200.1 264.4L202.5 265.5zM217.6 267.3L217.8 264.5L220.0 265.9zM222.7 265.7L224.9 264.1L225.2 266.7zM75.7 271.9L77.6 270.0L78.4 272.4zM105.5 270.2L108.1 270.6L106.6 272.7zM135.8 269.0L137.7 271.2L135.2 271.8zM158.2 272.0L159.9 269.9L160.9 272.3zM170.1 271.8L171.9 269.9L172.6 272.4zM187.6 273.0L188.5 270.3L190.3 272.1zM212.7 273.1L211.6 270.7L214.2 270.9zM240.7 270.4L243.3 270.5L242.0 272.7zM110.7 276.6L113.5 276.0L112.7 278.5zM123.4 275.4L125.9 276.7L123.7 278.2zM152.3 275.5L155.0 276.4L153.2 278.2zM164.1 276.6L166.7 276.2L165.8 278.6zM169.8 277.8L171.7 275.8L172.5 278.3zM212.6 279.1L211.6 276.6L214.2 276.9zM234.7 276.9L237.1 276.0L236.7 278.6zM82.6 285.3L82.3 282.4L84.7 283.4zM88.6 284.8L88.3 282.2L90.7 283.2zM134.6 282.7L137.2 282.0L136.6 284.5zM140.5 282.3L143.2 282.1L142.2 284.5zM146.2 282.7L148.8 281.9L148.3 284.4zM158.3 284.8L159.1 282.1L161.0 283.8zM176.7 284.8L176.6 282.1L178.9 283.3zM222.8 283.0L225.2 281.8L225.1 284.4zM117.1 289.1L119.2 287.6L119.5 290.2zM140.5 289.5L142.4 287.6L143.1 290.1zM199.5 290.3L200.5 287.7L202.2 289.7zM217.2 290.1L218.3 287.6L219.9 289.7zM258.4 287.5L261.0 288.3L259.2 290.1zM116.9 295.8L118.4 293.5L119.7 295.8zM184.1 296.7L182.1 294.9L184.5 294.0zM251.8 295.0L254.2 293.5L254.3 296.1zM264.8 292.8L267.0 294.6L264.7 295.6zM40.7 302.0L41.8 299.5L43.4 301.5zM60.7 302.4L58.5 300.8L60.9 299.7zM128.3 301.3L130.4 299.4L131.0 301.9zM140.5 301.8L141.9 299.4L143.2 301.7zM194.5 302.5L194.1 299.9L196.6 300.7zM212.5 302.6L211.6 300.0L214.2 300.5zM224.6 302.7L223.3 300.3L225.9 300.3zM79.1 308.1L76.5 307.3L78.3 305.5zM208.4 308.4L205.8 307.3L207.8 305.6zM258.5 308.0L259.3 305.4L261.1 307.2zM50.4 313.1L47.6 313.7L48.3 311.2zM55.1 314.4L52.8 312.8L55.1 311.6zM79.3 311.7L77.7 313.9L76.6 311.5zM84.9 311.0L84.2 313.6L82.3 311.9zM102.6 313.6L99.9 313.2L101.5 311.2zM114.4 313.4L111.7 313.3L113.0 311.1zM142.7 314.1L140.8 312.2L143.4 311.6zM172.2 314.2L170.3 312.4L172.7 311.6zM183.3 314.3L182.1 311.9L184.7 312.0zM195.1 314.2L193.9 311.9L196.5 312.0zM202.6 313.4L199.9 313.3L201.3 311.1zM231.5 314.0L229.1 312.8L231.3 311.4zM259.9 314.4L258.5 312.1L261.1 312.0zM56.3 317.8L54.2 319.7L53.5 317.2zM84.2 316.2L84.6 319.0L82.2 318.2zM103.6 318.2L101.1 319.7L100.9 317.1zM177.6 320.8L176.2 318.2L178.8 318.2zM67.4 322.7L66.5 325.4L64.7 323.5zM108.8 324.4L106.4 325.5L106.6 322.9zM114.6 325.6L111.8 325.1L113.5 323.1zM129.5 326.8L129.3 323.8L131.7 324.7zM183.5 326.2L182.1 323.8L184.7 323.7zM55.8 328.5L54.8 331.2L53.0 329.3zM74.1 329.1L72.2 331.3L71.2 328.9zM108.3 331.3L105.7 330.7L107.5 328.8zM159.0 331.8L159.0 329.1L161.3 330.3zM164.1 332.2L164.8 329.3L166.8 331.0zM61.9 335.2L60.2 337.3L59.1 334.9zM66.1 334.1L67.0 336.6L64.5 336.3zM108.4 337.3L105.8 336.7L107.5 334.8zM135.0 338.2L135.3 335.3L137.5 336.7zM196.6 337.2L194.0 336.7L195.6 334.7zM202.9 337.9L200.1 336.9L202.0 335.1zM266.4 338.5L264.5 336.3L267.0 335.6zM43.7 343.0L41.1 342.6L42.7 340.6zM55.9 341.8L53.7 343.2L53.5 340.6zM61.3 340.1L60.8 342.9L58.8 341.3zM67.7 341.7L65.5 343.2L65.2 340.6zM119.2 343.8L117.4 341.8L119.9 341.1zM134.7 343.2L135.8 340.7L137.4 342.7zM157.9 342.9L159.5 340.6L160.7 342.9zM182.4 343.5L182.6 340.8L184.8 342.2zM189.9 344.4L188.0 342.1L190.6 341.5zM203.0 342.6L200.3 343.0L201.1 340.5zM266.6 343.3L264.3 342.0L266.5 340.7zM61.6 348.3L59.0 348.8L59.8 346.4zM73.8 348.0L71.3 349.0L71.5 346.4zM112.5 350.0L111.6 347.3L114.2 347.7zM122.7 348.4L124.6 346.4L125.4 348.9zM176.4 349.7L176.6 346.9L178.8 348.2zM196.3 350.0L194.0 348.3L196.3 347.1z" fill="#1010e0" stroke="#1010e0" stroke-width="0.5"/>
<path d="M133.7 204.6L136.9 207.0M139.8 204.4L142.7 207.1M151.2 203.3L155.1 207.9M237.6 206.9L244.0 206.6M160.3 208.5L159.8 213.8M168.1 210.4L172.8 213.2M175.6 209.4L178.0 213.3M213.2 208.5L212.7 213.7M237.8 211.7L243.9 212.8M169.4 215.9L172.1 218.9M174.9 215.0L178.5 219.6M222.3 221.4L225.2 217.7M160.8 232.2L159.7 237.2M171.7 238.5L171.7 242.6M178.6 237.6L177.2 243.5M209.2 250.9L214.3 246.6M87.3 256.6L89.8 253.1M92.6 257.2L96.2 252.4M134.0 256.3L136.9 253.1M180.7 257.4L184.5 252.2M186.6 257.3L190.3 252.3M96.4 259.3L103.0 259.7M133.5 262.3L137.2 258.8M185.9 268.0L190.4 264.6M247.3 268.8L248.3 264.8M139.0 273.3L143.1 270.8M248.9 275.0L247.9 270.4M156.6 279.4L160.9 276.6M232.8 285.7L237.6 282.2M203.5 291.7L208.3 296.1M75.1 298.2L78.1 301.3M183.6 305.1L183.4 299.1M189.8 305.3L189.1 299.0M200.1 310.6L201.4 305.4M209.9 304.3L213.6 307.2M161.4 317.9L167.4 318.6M38.9 326.9L43.5 323.3M68.7 327.7L72.8 322.9M125.0 328.6L124.5 322.6M44.7 332.4L49.3 329.4M130.2 333.8L130.6 329.2M113.0 339.7L112.8 335.1M118.5 340.2L118.8 334.6M139.8 339.3L143.0 335.0M121.8 344.7L125.4 341.1M190.9 341.7L196.7 341.9M151.8 351.1L154.7 346.8" stroke="#0a9a0a" stroke-width="1.05" fill="none"/>
<path d="M139.0 208.7L136.2 208.0L137.6 206.1zM144.7 208.9L141.9 207.9L143.5 206.2zM156.9 210.0L154.1 208.7L156.0 207.1zM246.8 206.4L244.1 207.8L244.0 205.3zM159.5 216.6L158.5 213.7L161.0 213.9zM175.2 214.7L172.1 214.3L173.4 212.1zM179.5 215.6L177.0 213.9L179.0 212.6zM212.4 216.5L211.5 213.6L213.9 213.9zM246.7 213.3L243.7 214.1L244.1 211.6zM174.0 221.0L171.2 219.7L173.0 218.1zM180.2 221.8L177.5 220.4L179.4 218.8zM226.9 215.4L226.1 218.4L224.2 216.9zM159.0 239.9L158.4 236.9L160.9 237.4zM171.6 245.4L170.5 242.6L172.8 242.7zM176.5 246.2L175.9 243.2L178.4 243.8zM216.4 244.7L215.1 247.5L213.5 245.6zM91.4 250.8L90.8 253.8L88.8 252.4zM97.8 250.2L97.2 253.2L95.1 251.7zM138.7 251.1L137.8 253.9L136.0 252.3zM186.1 249.9L185.5 252.9L183.5 251.5zM192.0 250.1L191.3 253.1L189.3 251.6zM105.8 259.8L102.9 260.9L103.0 258.4zM139.2 256.9L138.0 259.7L136.3 257.9zM192.7 262.9L191.2 265.6L189.7 263.6zM248.9 262.1L249.4 265.1L247.1 264.5zM145.5 269.3L143.8 271.8L142.5 269.7zM247.3 267.6L249.1 270.1L246.7 270.6zM163.2 275.0L161.6 277.6L160.2 275.5zM239.8 280.5L238.3 283.2L236.8 281.2zM210.4 298.0L207.5 297.0L209.1 295.2zM80.1 303.3L77.3 302.1L79.0 300.4zM183.3 296.3L184.6 299.1L182.1 299.2zM188.8 296.2L190.4 298.8L187.9 299.1zM202.0 302.6L202.6 305.7L200.1 305.1zM215.8 308.9L212.8 308.2L214.3 306.2zM170.2 318.9L167.3 319.8L167.6 317.3zM45.7 321.6L44.2 324.3L42.7 322.3zM74.7 320.8L73.8 323.7L71.9 322.1zM124.2 319.9L125.7 322.5L123.2 322.8zM51.6 327.9L50.0 330.5L48.6 328.4zM130.8 326.4L131.8 329.3L129.4 329.1zM112.8 332.3L114.1 335.1L111.6 335.1zM119.0 331.8L120.1 334.7L117.6 334.6zM144.7 332.7L144.0 335.7L142.0 334.2zM127.4 339.1L126.3 341.9L124.5 340.2zM199.5 342.0L196.7 343.2L196.7 340.7zM156.2 344.4L155.7 347.4L153.6 346.1z" fill="#0a9a0a" stroke="#0a9a0a" stroke-width="0.5"/>
<path d="M161.9 221.7L167.5 217.0M130.4 266.4L130.5 273.4M132.6 272.4L138.4 279.8M119.9 279.3L127.1 285.1M94.1 283.0L95.8 292.2M248.7 292.2L256.9 287.2M190.5 313.6L188.8 320.5" stroke="#ffa014" stroke-width="1.05" fill="none"/>
<path d="M169.7 215.1L168.3 217.9L166.7 216.0zM130.6 276.2L129.3 273.4L131.8 273.4zM140.1 282.1L137.4 280.6L139.4 279.1zM129.3 286.9L126.3 286.1L127.9 284.1zM96.3 295.0L94.6 292.4L97.0 292.0zM259.3 285.7L257.5 288.3L256.2 286.1zM188.1 323.2L187.6 320.2L190.0 320.7z" fill="#ffa014" stroke="#ffa014" stroke-width="0.5"/>
<path d="M148.3 234.6L138.5 227.4M119.5 240.5L127.6 233.4M119.8 246.6L127.4 239.2M119.1 251.9L127.9 245.4M124.2 251.8L134.4 245.4M82.7 281.9L74.5 274.4M106.2 288.3L97.9 279.9M78.4 293.1L67.4 286.3M89.3 293.6L79.8 286.1M47.3 322.9L58.1 325.1M160.7 318.5L169.0 327.9M161.5 330.5L168.3 339.3M161.7 336.6L168.2 345.0" stroke="#ff1010" stroke-width="1.05" fill="none"/>
<path d="M136.3 225.8L139.3 226.4L137.8 228.4zM129.8 231.6L128.5 234.4L126.8 232.5zM129.4 237.2L128.3 240.1L126.6 238.3zM130.2 243.7L128.7 246.4L127.2 244.4zM136.8 243.9L135.1 246.4L133.7 244.3zM72.5 272.5L75.4 273.5L73.7 275.3zM96.0 277.9L98.8 279.0L97.1 280.7zM65.0 284.9L68.1 285.3L66.8 287.4zM77.6 284.3L80.6 285.1L79.1 287.0zM60.9 325.6L57.9 326.3L58.4 323.9zM170.9 330.0L168.1 328.7L170.0 327.1zM170.0 341.6L167.3 340.1L169.3 338.6zM169.9 347.2L167.2 345.8L169.2 344.2z" fill="#ff1010" stroke="#ff1010" stroke-width="0.5"/>
<path d="M77.5 262.6L87.9 277.7M87.1 270.4L101.2 282.2M117.4 346.2L99.3 348.9" stroke="#f514f5" stroke-width="1.05" fill="none"/>
<path d="M89.5 280.1L86.8 278.5L88.9 277.0zM103.4 284.0L100.4 283.2L102.0 281.3zM96.5 349.4L99.1 347.7L99.5 350.2z" fill="#f514f5" stroke="#f514f5" stroke-width="0.5"/>
</g>
<clipPath id="cpd"><rect x="313.60" y="205.20" width="227.6" height="145.0"/></clipPath>
<g clip-path="url(#cpd)">
<g filter="url(#tblur)"><rect x="305.6" y="197.2" width="243.6" height="161.0" fill="rgb(190,190,190)"/><ellipse cx="428.6" cy="305.2" rx="92" ry="40" fill="rgb(136,136,136)"/><ellipse cx="453.6" cy="230.2" rx="90" ry="25" fill="rgb(200,200,200)"/><ellipse cx="488.6" cy="265.2" rx="45" ry="20" fill="rgb(182,182,182)"/><ellipse cx="498.6" cy="310.2" rx="45" ry="25" fill="rgb(165,165,165)"/><ellipse cx="331.6" cy="260.2" rx="26" ry="18" fill="rgb(245,245,245)"/><ellipse cx="314.6" cy="310.2" rx="7" ry="40" fill="rgb(238,238,238)"/><ellipse cx="341.6" cy="229.2" rx="24" ry="10" fill="rgb(218,218,218)"/><ellipse cx="373.6" cy="211.2" rx="16" ry="9" fill="rgb(232,232,232)"/><ellipse cx="498.6" cy="346.2" rx="40" ry="9" fill="rgb(235,235,235)"/><ellipse cx="535.6" cy="342.2" rx="14" ry="14" fill="rgb(245,245,245)"/><ellipse cx="476.6" cy="343.2" rx="18" ry="8" fill="rgb(232,232,232)"/><ellipse cx="524.6" cy="255.2" rx="16" ry="11" fill="rgb(215,215,215)"/><ellipse cx="530.6" cy="261.2" rx="6" ry="4" fill="rgb(235,235,235)"/><ellipse cx="398.6" cy="326.2" rx="11" ry="8" fill="rgb(212,212,212)"/><ellipse cx="503.6" cy="215.2" rx="30" ry="10" fill="rgb(205,205,205)"/><ellipse cx="378.6" cy="241.2" rx="15" ry="9" fill="rgb(188,188,188)"/><ellipse cx="373.6" cy="237.2" rx="6" ry="4" fill="rgb(170,170,170)"/><ellipse cx="401.6" cy="249.2" rx="17" ry="8" fill="rgb(170,170,170)"/><ellipse cx="396.6" cy="251.2" rx="8" ry="5" fill="rgb(150,150,150)"/><ellipse cx="503.6" cy="241.2" rx="12" ry="7" fill="rgb(178,178,178)"/><ellipse cx="433.6" cy="265.2" rx="20" ry="15" fill="rgb(150,150,150)"/><ellipse cx="528.6" cy="285.2" rx="15" ry="14" fill="rgb(180,180,180)"/><ellipse cx="489.6" cy="285.2" rx="14" ry="9" fill="rgb(172,172,172)"/><ellipse cx="457.6" cy="269.2" rx="8" ry="7" fill="rgb(150,150,150)"/><ellipse cx="341.6" cy="285.2" rx="20" ry="7" fill="rgb(170,170,170)"/><ellipse cx="426.6" cy="334.2" rx="15" ry="10" fill="rgb(140,140,140)"/><ellipse cx="445.6" cy="317.2" rx="9" ry="7" fill="rgb(160,160,160)"/><ellipse cx="483.6" cy="305.2" rx="11" ry="13" fill="rgb(165,165,165)"/><ellipse cx="344.6" cy="324.2" rx="18" ry="14" fill="rgb(132,132,132)"/><ellipse cx="365.6" cy="337.2" rx="10" ry="12" fill="rgb(165,165,165)"/><ellipse cx="321.6" cy="318.2" rx="8" ry="10" fill="rgb(180,180,180)"/><ellipse cx="384.6" cy="273.2" rx="13" ry="8" fill="rgb(120,120,120)"/><ellipse cx="386.6" cy="275.2" rx="5" ry="4" fill="rgb(80,80,80)"/><ellipse cx="370.6" cy="293.2" rx="8" ry="5" fill="rgb(120,120,120)"/><ellipse cx="383.6" cy="303.2" rx="11" ry="7" fill="rgb(85,85,85)"/><ellipse cx="383.6" cy="304.2" rx="6" ry="4" fill="rgb(55,55,55)"/><ellipse cx="417.6" cy="291.2" rx="9" ry="7" fill="rgb(100,100,100)"/><ellipse cx="433.6" cy="279.2" rx="12" ry="6" fill="rgb(105,105,105)"/><ellipse cx="439.6" cy="278.2" rx="7" ry="6" fill="rgb(60,60,60)"/><ellipse cx="467.6" cy="292.2" rx="7" ry="9" fill="rgb(90,90,90)"/><ellipse cx="468.6" cy="294.2" rx="4" ry="4" fill="rgb(55,55,55)"/><ellipse cx="473.6" cy="255.2" rx="8" ry="7" fill="rgb(150,150,150)"/><ellipse cx="474.6" cy="255.2" rx="4" ry="4" fill="rgb(90,90,90)"/><ellipse cx="360.6" cy="331.2" rx="8" ry="12" fill="rgb(115,115,115)"/><ellipse cx="344.6" cy="327.2" rx="9" ry="7" fill="rgb(105,105,105)"/><ellipse cx="451.6" cy="265.2" rx="6" ry="5" fill="rgb(130,130,130)"/><ellipse cx="487.6" cy="325.2" rx="13" ry="5" fill="rgb(115,115,115)"/><ellipse cx="510.6" cy="325.2" rx="9" ry="5" fill="rgb(140,140,140)"/><ellipse cx="435.6" cy="340.2" rx="7" ry="7" fill="rgb(130,130,130)"/><ellipse cx="417.6" cy="295.2" rx="6" ry="4" fill="rgb(75,75,75)"/><ellipse cx="401.6" cy="297.2" rx="5" ry="3" fill="rgb(110,110,110)"/><ellipse cx="425.6" cy="285.2" rx="5" ry="3" fill="rgb(100,100,100)"/><ellipse cx="450.6" cy="281.2" rx="5" ry="4" fill="rgb(105,105,105)"/><ellipse cx="456.6" cy="295.2" rx="4" ry="3" fill="rgb(110,110,110)"/><ellipse cx="479.6" cy="300.2" rx="5" ry="4" fill="rgb(120,120,120)"/><ellipse cx="493.6" cy="313.2" rx="6" ry="4" fill="rgb(130,130,130)"/><ellipse cx="358.6" cy="305.2" rx="5" ry="4" fill="rgb(130,130,130)"/><ellipse cx="333.6" cy="333.2" rx="5" ry="4" fill="rgb(120,120,120)"/><ellipse cx="373.6" cy="323.2" rx="5" ry="4" fill="rgb(130,130,130)"/><ellipse cx="408.6" cy="335.2" rx="5" ry="4" fill="rgb(140,140,140)"/><ellipse cx="453.6" cy="325.2" rx="5" ry="4" fill="rgb(135,135,135)"/><ellipse cx="518.6" cy="305.2" rx="5" ry="4" fill="rgb(150,150,150)"/><ellipse cx="453.2" cy="322.5" rx="4.1" ry="3.4" fill="rgb(120,120,120)"/><ellipse cx="421.7" cy="338.7" rx="3.8" ry="3.4" fill="rgb(98,98,98)"/><ellipse cx="422.4" cy="282.9" rx="3.6" ry="2.9" fill="rgb(95,95,95)"/><ellipse cx="371.9" cy="285.6" rx="4.3" ry="3.1" fill="rgb(100,100,100)"/><ellipse cx="452.1" cy="273.3" rx="2.5" ry="3.3" fill="rgb(102,102,102)"/><ellipse cx="503.1" cy="286.3" rx="4.4" ry="2.8" fill="rgb(118,118,118)"/><ellipse cx="400.8" cy="276.5" rx="2.8" ry="2.1" fill="rgb(105,105,105)"/><ellipse cx="464.2" cy="290.2" rx="3.1" ry="3.2" fill="rgb(111,111,111)"/><ellipse cx="391.8" cy="301.7" rx="3.9" ry="2.1" fill="rgb(129,129,129)"/><ellipse cx="486.1" cy="292.5" rx="3.7" ry="2.0" fill="rgb(96,96,96)"/><ellipse cx="367.9" cy="323.7" rx="4.4" ry="3.4" fill="rgb(107,107,107)"/><ellipse cx="399.6" cy="305.2" rx="4.1" ry="2.2" fill="rgb(121,121,121)"/><ellipse cx="488.0" cy="332.0" rx="2.6" ry="3.4" fill="rgb(98,98,98)"/><ellipse cx="396.7" cy="312.1" rx="4.3" ry="2.5" fill="rgb(127,127,127)"/><ellipse cx="437.6" cy="288.2" rx="3.1" ry="2.3" fill="rgb(97,97,97)"/><ellipse cx="358.4" cy="318.3" rx="4.5" ry="2.2" fill="rgb(96,96,96)"/><ellipse cx="409.8" cy="282.2" rx="3.7" ry="3.2" fill="rgb(110,110,110)"/><ellipse cx="427.3" cy="330.3" rx="2.8" ry="3.1" fill="rgb(128,128,128)"/><ellipse cx="454.7" cy="326.2" rx="2.7" ry="2.7" fill="rgb(100,100,100)"/><ellipse cx="497.5" cy="286.8" rx="3.4" ry="3.5" fill="rgb(124,124,124)"/><ellipse cx="426.2" cy="321.6" rx="3.5" ry="2.4" fill="rgb(109,109,109)"/><ellipse cx="357.9" cy="293.4" rx="4.5" ry="3.4" fill="rgb(116,116,116)"/><ellipse cx="428.5" cy="290.3" rx="2.7" ry="2.4" fill="rgb(122,122,122)"/><ellipse cx="502.1" cy="292.1" rx="4.1" ry="3.2" fill="rgb(119,119,119)"/><ellipse cx="461.4" cy="324.0" rx="3.2" ry="3.1" fill="rgb(104,104,104)"/><ellipse cx="425.7" cy="324.8" rx="3.9" ry="2.4" fill="rgb(128,128,128)"/><ellipse cx="458.5" cy="309.7" rx="2.5" ry="2.8" fill="rgb(103,103,103)"/><ellipse cx="462.9" cy="300.2" rx="4.1" ry="3.0" fill="rgb(122,122,122)"/><ellipse cx="398.2" cy="314.7" rx="4.0" ry="3.2" fill="rgb(107,107,107)"/><ellipse cx="434.5" cy="276.5" rx="4.2" ry="3.4" fill="rgb(111,111,111)"/><ellipse cx="466.9" cy="320.8" rx="4.0" ry="2.3" fill="rgb(122,122,122)"/><ellipse cx="444.8" cy="316.4" rx="3.3" ry="2.9" fill="rgb(122,122,122)"/><ellipse cx="456.0" cy="320.8" rx="2.6" ry="2.2" fill="rgb(110,110,110)"/><ellipse cx="458.6" cy="280.7" rx="3.9" ry="2.9" fill="rgb(96,96,96)"/><ellipse cx="422.9" cy="281.3" rx="2.6" ry="2.2" fill="rgb(106,106,106)"/><ellipse cx="404.7" cy="312.1" rx="3.7" ry="2.4" fill="rgb(126,126,126)"/><ellipse cx="384.3" cy="296.0" rx="2.7" ry="3.2" fill="rgb(108,108,108)"/><ellipse cx="347.6" cy="306.8" rx="3.2" ry="2.9" fill="rgb(128,128,128)"/><ellipse cx="492.3" cy="296.7" rx="4.1" ry="3.0" fill="rgb(107,107,107)"/><ellipse cx="357.0" cy="310.9" rx="3.6" ry="3.4" fill="rgb(128,128,128)"/><ellipse cx="450.3" cy="291.3" rx="4.3" ry="2.0" fill="rgb(98,98,98)"/><ellipse cx="441.8" cy="312.4" rx="2.8" ry="2.9" fill="rgb(126,126,126)"/><ellipse cx="403.8" cy="297.7" rx="3.0" ry="2.4" fill="rgb(129,129,129)"/><ellipse cx="404.6" cy="340.1" rx="4.3" ry="2.9" fill="rgb(104,104,104)"/><ellipse cx="411.7" cy="288.7" rx="4.5" ry="2.7" fill="rgb(105,105,105)"/></g>
<polygon points="310.6,202.2 311.6,225.0 313.6,224.8 317.1,224.3 320.6,223.7 324.0,222.4 325.9,220.2 327.6,217.7 330.1,215.4 333.1,213.6 336.1,212.2 339.6,210.7 342.1,209.0 344.1,207.2 346.6,205.8 349.6,206.1 351.6,205.6 352.6,203.2 352.6,202.2" fill="#fff"/>
<polyline points="311.6,225.0 313.6,224.8 317.1,224.3 320.6,223.7 324.0,222.4 325.9,220.2 327.6,217.7 330.1,215.4 333.1,213.6 336.1,212.2 339.6,210.7 342.1,209.0 344.1,207.2 346.6,205.8 349.6,206.1 351.6,205.6 352.6,203.2" fill="none" stroke="#222" stroke-width="1.1"/>
<polyline points="312.6,243.4 320.3,244.1 327.5,244.6 334.6,247.4 341.8,249.3 349.0,251.3 353.8,252.9 355.7,256.5 357.4,261.3 359.8,266.1 360.9,273.3 360.9,280.4 361.7,287.6 360.9,294.8 362.1,302.0 364.4,310.1 369.1,314.7 373.8,317.9 380.0,321.0 383.6,322.7 388.6,322.2 392.6,319.7 396.4,316.7 399.8,314.5 404.6,311.5 409.4,308.5 414.2,306.7 419.0,304.9 423.8,301.9 428.6,298.9 433.1,295.3 437.7,293.3 444.9,289.7 452.0,283.4 457.8,279.1 461.5,275.5 468.0,268.2 473.8,264.5 479.6,263.1 484.0,263.1 488.4,264.5 492.7,268.9 497.1,271.2 504.2,270.4 515.9,267.5 526.2,267.5 542.6,264.5" fill="none" stroke="#f0509a" stroke-width="1.1"/>
<polyline points="501.5,204.2 501.1,209.2 500.4,213.6 497.1,216.9 492.7,218.0 488.3,218.4 483.9,220.2 479.5,221.3 475.1,219.8 470.7,219.1 467.4,221.3 466.3,224.6 464.1,226.8 461.9,231.2 459.7,235.6 456.4,237.8 453.1,234.5 449.8,232.3 446.5,229.0 442.1,227.9 438.8,224.6 436.6,221.3 436.6,229.0 435.5,235.6 433.3,242.2 433.3,245.9 432.6,250.2 434.8,256.0 435.5,258.9 432.6,261.7 428.3,263.9 424.0,265.3 422.6,268.2 421.1,271.0 419.0,275.0 415.4,278.6 411.8,283.4 409.4,285.8 407.1,291.2" fill="none" stroke="#f0509a" stroke-width="1.1"/>
<polyline points="438.1,204.2 438.1,213.2 436.6,221.3" fill="none" stroke="#f0509a" stroke-width="1.1"/>
<polyline points="461.5,275.5 465.9,278.5 468.8,285.1 469.6,289.2" fill="none" stroke="#f0509a" stroke-width="1.1"/>
<text x="430.6" y="247.6" text-anchor="middle" class="lb">BS</text>
<text x="492.0" y="278.7" text-anchor="middle" class="lb">QZ</text>
<text x="444.3" y="320.2" text-anchor="middle" class="lb">WZS</text>
<text x="389.1" y="326.5" text-anchor="middle" class="lb">LD</text>
<text x="471.3" y="341.0" text-anchor="middle" class="lb">BT</text>
<text x="533.6" y="224.8" text-anchor="middle" class="lb">TC</text>
<text x="371.6" y="241.4" text-anchor="middle" class="lb">CJ</text>
<path d="M368.3 206.7h0.01M444.8 206.7h0.01M456.5 206.7h0.01M491.8 206.7h0.01M497.7 206.7h0.01M344.8 212.6h0.01M350.7 212.6h0.01M391.8 212.6h0.01M438.9 212.6h0.01M356.6 218.5h0.01M397.7 218.5h0.01M403.6 218.5h0.01M397.7 224.3h0.01M321.3 230.2h0.01M333.0 230.2h0.01M338.9 230.2h0.01M474.2 230.2h0.01M480.0 230.2h0.01M485.9 230.2h0.01M527.1 230.2h0.01M538.8 230.2h0.01M321.3 236.1h0.01M344.8 236.1h0.01M350.7 236.1h0.01M480.0 236.1h0.01M333.0 242.0h0.01M421.2 242.0h0.01M444.8 242.0h0.01M450.6 242.0h0.01M485.9 242.0h0.01M503.6 242.0h0.01M515.3 242.0h0.01M321.3 247.9h0.01M533.0 247.9h0.01M397.7 253.7h0.01M403.6 253.7h0.01M433.0 253.7h0.01M438.9 253.7h0.01M503.6 253.7h0.01M327.2 259.6h0.01M333.0 259.6h0.01M391.8 259.6h0.01M438.9 259.6h0.01M456.5 259.6h0.01M462.4 259.6h0.01M468.3 259.6h0.01M503.6 259.6h0.01M533.0 259.6h0.01M338.9 265.5h0.01M386.0 265.5h0.01M450.6 265.5h0.01M480.0 265.5h0.01M521.2 265.5h0.01M533.0 265.5h0.01M480.0 271.4h0.01M497.7 271.4h0.01M509.4 271.4h0.01M515.3 271.4h0.01M315.4 277.3h0.01M368.3 277.3h0.01M456.5 277.3h0.01M374.2 283.1h0.01M427.1 283.1h0.01M474.2 283.1h0.01M315.4 289.0h0.01M321.3 289.0h0.01M327.2 289.0h0.01M350.7 289.0h0.01M421.2 289.0h0.01M444.8 289.0h0.01M480.0 289.0h0.01M485.9 289.0h0.01M491.8 289.0h0.01M503.6 289.0h0.01M509.4 289.0h0.01M515.3 289.0h0.01M533.0 289.0h0.01M538.8 289.0h0.01M315.4 294.9h0.01M344.8 294.9h0.01M362.4 294.9h0.01M368.3 294.9h0.01M403.6 294.9h0.01M421.2 294.9h0.01M438.9 294.9h0.01M450.6 294.9h0.01M456.5 294.9h0.01M474.2 294.9h0.01M480.0 294.9h0.01M509.4 294.9h0.01M521.2 294.9h0.01M538.8 294.9h0.01M327.2 300.8h0.01M333.0 300.8h0.01M403.6 300.8h0.01M409.5 300.8h0.01M415.4 300.8h0.01M421.2 300.8h0.01M438.9 300.8h0.01M444.8 300.8h0.01M456.5 300.8h0.01M491.8 300.8h0.01M503.6 300.8h0.01M527.1 300.8h0.01M538.8 300.8h0.01M327.2 306.7h0.01M338.9 306.7h0.01M374.2 306.7h0.01M409.5 306.7h0.01M415.4 306.7h0.01M491.8 306.7h0.01M321.3 312.5h0.01M344.8 312.5h0.01M374.2 312.5h0.01M409.5 312.5h0.01M438.9 312.5h0.01M468.3 312.5h0.01M474.2 312.5h0.01M533.0 312.5h0.01M315.4 318.4h0.01M338.9 318.4h0.01M362.4 318.4h0.01M380.1 318.4h0.01M409.5 318.4h0.01M415.4 318.4h0.01M450.6 318.4h0.01M462.4 318.4h0.01M474.2 318.4h0.01M503.6 318.4h0.01M327.2 324.3h0.01M333.0 324.3h0.01M374.2 324.3h0.01M380.1 324.3h0.01M391.8 324.3h0.01M427.1 324.3h0.01M444.8 324.3h0.01M456.5 324.3h0.01M462.4 324.3h0.01M468.3 324.3h0.01M509.4 324.3h0.01M527.1 324.3h0.01M350.7 330.2h0.01M397.7 330.2h0.01M415.4 330.2h0.01M427.1 330.2h0.01M462.4 330.2h0.01M491.8 330.2h0.01M533.0 330.2h0.01M315.4 336.1h0.01M321.3 336.1h0.01M350.7 336.1h0.01M374.2 336.1h0.01M391.8 336.1h0.01M427.1 336.1h0.01M491.8 336.1h0.01M321.3 341.9h0.01M374.2 341.9h0.01M391.8 341.9h0.01M491.8 341.9h0.01M497.7 341.9h0.01M515.3 341.9h0.01M321.3 347.8h0.01M391.8 347.8h0.01M433.0 347.8h0.01M491.8 347.8h0.01M527.1 347.8h0.01" stroke="#505050" stroke-width="1.4" stroke-linecap="round"/>
<path d="M361.5 205.7L362.4 206.7M398.8 205.9L397.7 206.7M427.7 207.3L427.5 207.1M367.5 211.9L368.1 212.4M416.5 211.7L415.3 212.6M434.1 211.8L433.1 212.5M455.5 211.5L456.6 212.6M484.8 212.8L485.6 212.6M491.3 213.4L491.6 212.9M497.1 213.7L497.6 212.7M514.4 212.5L514.8 212.5M349.3 218.3L350.7 218.5M421.9 217.8L421.6 218.2M456.2 217.6L456.3 218.0M479.4 219.0L479.6 218.8M508.6 219.6L509.5 218.4M409.7 223.2L409.5 224.1M472.8 223.8L474.2 224.4M478.8 224.5L479.9 224.4M514.4 224.8L515.0 224.5M520.1 223.7L521.1 224.3M526.0 223.4L527.1 224.3M532.2 223.4L532.8 224.2M538.8 223.5L538.8 223.8M315.8 229.3L315.6 229.8M326.7 229.1L327.1 230.1M343.9 229.2L344.8 230.2M385.1 229.5L385.8 230.1M438.9 229.3L438.9 229.8M467.1 229.4L468.3 230.2M497.4 231.1L497.5 230.6M508.1 230.4L509.4 230.2M315.7 235.2L315.5 235.7M361.8 235.0L362.4 236.0M398.0 235.2L397.9 235.7M434.0 235.2L433.0 236.1M450.0 235.1L450.5 235.9M456.5 234.8L456.5 236.0M485.2 236.5L485.4 236.4M502.5 236.2L503.2 236.1M514.0 236.5L515.3 236.1M520.8 235.2L521.0 235.7M532.6 235.1L532.8 235.7M538.4 235.1L538.7 235.8M350.9 241.1L350.8 241.5M385.4 240.9L385.9 241.8M426.9 241.0L427.1 241.6M433.6 241.1L433.2 241.7M467.0 241.4L468.3 242.0M508.5 242.0L509.0 242.0M520.8 240.5L521.2 242.1M367.5 247.0L368.2 247.7M391.9 247.0L391.9 247.3M433.0 246.4L433.0 247.9M445.5 247.0L444.9 247.7M451.6 246.9L450.7 247.8M490.8 247.4L491.5 247.7M508.7 246.5L509.5 248.0M515.1 246.9L515.2 247.5M520.9 246.8L521.1 247.5M334.2 253.4L333.3 253.7M356.9 252.9L356.7 253.3M385.9 252.5L385.9 253.6M392.1 252.8L391.9 253.4M457.4 252.8L456.6 253.7M468.3 252.7L468.3 253.3M486.3 252.3L485.9 253.8M497.2 252.6L497.6 253.6M533.6 253.1L533.3 253.4M385.5 258.9L385.7 259.2M397.9 258.6L397.8 259.2M410.4 258.5L409.4 259.7M422.1 259.0L421.5 259.4M433.6 259.0L433.4 259.2M498.2 258.5L497.7 259.5M527.4 258.7L527.2 259.2M322.4 266.1L321.4 265.6M345.0 266.3L344.9 266.1M380.4 264.6L380.3 265.1M433.9 265.5L433.5 265.5M445.8 265.7L445.1 265.6M504.2 264.2L503.5 265.5M528.2 265.4L527.4 265.5M316.2 272.4L315.5 271.4M321.0 272.4L321.2 271.7M344.7 272.4L344.7 271.8M368.8 270.6L368.6 271.0M392.2 270.6L392.0 270.9M439.9 272.4L438.8 271.3M457.5 271.6L456.9 271.5M492.7 271.2L492.2 271.3M528.3 271.3L527.3 271.4M321.5 278.2L321.4 277.7M340.2 277.4L339.0 277.3M416.4 276.5L415.5 277.2M434.1 277.6L433.2 277.3M469.3 277.0L468.6 277.2M492.7 276.9L492.2 277.1M504.7 277.5L503.8 277.3M534.0 276.9L533.2 277.2M314.6 284.4L315.5 283.1M321.2 283.9L321.2 283.7M398.2 282.3L397.9 282.8M404.3 282.0L403.6 283.1M422.3 284.1L421.2 283.1M462.7 283.9L462.6 283.7M498.5 282.7L498.1 282.9M522.5 283.4L521.3 283.2M367.5 287.8L368.3 289.1M379.3 288.3L379.9 288.8M403.3 290.0L403.5 289.4M416.7 289.6L415.3 289.0M427.6 290.3L427.1 289.1M439.4 290.2L438.9 289.1M475.0 288.9L474.7 289.0M498.4 288.7L498.2 288.8M322.6 295.0L321.3 294.9M427.6 295.9L427.2 295.1M433.9 295.0L433.4 295.0M492.6 294.4L492.2 294.7M498.3 293.7L497.7 294.8M504.3 293.9L503.7 294.7M515.9 294.2L515.7 294.5M528.4 294.6L527.1 294.9M350.6 299.8L350.6 300.4M356.3 299.7L356.5 300.5M372.9 300.7L374.1 300.8M379.2 300.5L379.6 300.6M385.1 299.7L385.9 300.7M397.5 299.8L397.6 300.4M434.4 301.2L432.9 300.8M462.9 302.1L462.4 300.8M497.9 299.3L497.7 300.8M344.2 306.0L344.5 306.3M350.0 305.8L350.5 306.4M361.6 306.9L361.9 306.8M378.8 307.2L380.1 306.7M397.4 305.7L397.6 306.3M403.2 305.2L403.6 306.8M428.0 306.5L427.6 306.6M433.8 306.7L433.6 306.7M439.6 307.7L438.9 306.8M463.4 306.8L462.8 306.7M486.6 305.8L486.1 306.5M497.6 305.5L497.7 306.5M503.1 305.3L503.6 306.7M510.0 305.3L509.4 306.7M527.6 305.4L527.1 306.7M538.4 305.7L538.7 306.3M361.2 312.9L362.3 312.6M379.3 313.0L379.7 312.8M390.5 312.4L391.8 312.5M415.4 311.3L415.4 312.4M445.9 312.5L445.0 312.5M457.3 313.0L456.9 312.8M463.6 311.9L462.4 312.5M503.4 311.3L503.5 312.4M326.4 317.4L327.1 318.3M373.2 319.2L374.1 318.5M384.7 318.0L385.9 318.4M396.6 317.6L397.7 318.4M439.7 318.7L439.4 318.6M457.4 318.7L457.0 318.6M468.9 317.5L468.5 318.1M491.0 317.7L491.6 318.2M356.4 325.4L356.5 324.6M361.8 325.2L362.3 324.6M403.2 322.9L403.6 324.4M422.1 323.9L421.6 324.1M451.9 324.5L450.8 324.3M479.8 323.4L479.9 323.8M491.3 323.4L491.6 323.9M514.1 324.9L515.3 324.3M532.0 324.2L532.5 324.3M537.7 324.2L538.6 324.3M315.3 329.0L315.4 329.9M320.8 329.5L321.0 329.7M362.7 331.1L362.6 330.6M374.1 331.2L374.2 330.6M379.9 331.0L379.9 330.7M403.3 329.1L403.5 329.9M433.9 330.2L433.5 330.2M457.4 329.6L456.8 330.0M496.6 329.3L497.7 330.2M508.5 330.3L509.0 330.2M514.9 331.1L515.2 330.5M520.1 330.0L520.9 330.1M526.6 330.9L526.8 330.6M325.9 336.2L327.1 336.1M337.7 335.9L338.7 336.0M355.5 337.1L356.6 336.0M397.3 335.3L397.4 335.6M457.9 335.5L456.4 336.1M508.4 337.1L509.5 336.0M520.8 337.4L521.2 336.1M314.8 341.2L315.1 341.6M343.8 342.3L344.5 342.0M416.7 341.4L415.3 341.9M428.3 341.1L427.1 342.0M446.0 342.3L444.9 342.0M452.1 341.6L450.5 342.0M463.5 341.7L462.7 341.9M484.6 341.6L485.9 341.9M502.6 342.1L503.2 342.0M537.8 342.8L538.8 341.9M314.8 347.2L315.0 347.4M337.5 347.7L338.9 347.8M349.9 348.1L350.1 348.0M422.7 348.3L421.1 347.8M439.9 347.8L439.3 347.8M457.4 347.0L456.7 347.7M462.9 346.9L462.6 347.5M496.7 348.7L497.6 347.9M502.5 348.5L503.4 347.9M509.0 348.9L509.4 348.0M520.9 348.7L521.0 348.3M537.9 347.2L538.6 347.7" stroke="#45b0f0" stroke-width="1.2" fill="none"/>
<path d="M363.4 207.7L361.8 207.3L363.0 206.1zM396.6 207.5L397.2 206.0L398.3 207.3zM426.5 206.1L428.1 206.5L426.9 207.7zM369.1 213.3L367.5 213.0L368.7 211.7zM414.2 213.4L414.8 211.9L415.9 213.3zM431.9 213.3L432.6 211.8L433.6 213.2zM457.5 213.7L455.9 213.2L457.2 212.1zM487.0 212.4L485.8 213.5L485.5 211.8zM492.3 211.7L492.3 213.4L490.9 212.5zM498.3 211.5L498.4 213.1L496.9 212.3zM516.2 212.7L514.7 213.4L514.9 211.7zM352.1 218.6L350.6 219.3L350.8 217.6zM420.5 219.1L421.0 217.5L422.1 218.8zM456.9 219.3L455.6 218.4L457.1 217.7zM480.7 217.9L480.2 219.5L479.0 218.2zM510.3 217.3L510.1 218.9L508.8 217.9zM409.3 225.5L408.7 224.0L410.4 224.3zM475.6 224.9L473.9 225.2L474.5 223.6zM481.3 224.1L480.0 225.2L479.8 223.5zM516.2 223.9L515.3 225.3L514.6 223.7zM522.3 225.0L520.6 225.0L521.5 223.6zM528.1 225.3L526.5 225.0L527.6 223.7zM533.7 225.3L532.2 224.7L533.5 223.7zM538.9 225.2L537.9 223.9L539.6 223.7zM315.0 231.1L314.8 229.5L316.3 230.2zM327.6 231.4L326.3 230.4L327.9 229.7zM345.7 231.2L344.1 230.8L345.4 229.6zM386.9 230.9L385.2 230.7L386.3 229.4zM438.8 231.2L438.1 229.8L439.7 229.8zM469.4 231.0L467.8 230.9L468.8 229.5zM498.0 229.3L498.3 230.9L496.7 230.3zM510.7 230.0L509.5 231.1L509.2 229.4zM315.1 237.0L314.7 235.4L316.3 236.0zM363.0 237.2L361.6 236.4L363.1 235.6zM397.4 237.0L397.1 235.4L398.7 235.9zM432.0 237.0L432.5 235.4L433.6 236.7zM451.3 237.1L449.8 236.4L451.3 235.5zM456.5 237.4L455.7 236.0L457.4 236.0zM486.7 235.7L485.8 237.1L485.0 235.6zM504.6 236.0L503.3 237.0L503.2 235.3zM516.6 235.7L515.6 236.9L515.0 235.3zM521.6 237.0L520.3 236.1L521.8 235.4zM533.3 237.1L532.0 236.0L533.7 235.5zM539.3 237.1L537.9 236.2L539.5 235.4zM350.5 242.9L350.0 241.3L351.6 241.7zM386.6 243.0L385.1 242.2L386.6 241.4zM427.3 243.0L426.2 241.8L427.9 241.5zM432.4 242.8L432.5 241.2L433.9 242.2zM469.6 242.6L468.0 242.8L468.7 241.2zM510.4 241.9L509.0 242.8L509.0 241.1zM521.6 243.4L520.4 242.3L522.0 241.8zM369.2 248.7L367.6 248.3L368.8 247.1zM391.8 248.7L391.0 247.2L392.7 247.4zM433.0 249.3L432.2 248.0L433.9 247.9zM444.0 248.8L444.2 247.1L445.6 248.2zM449.7 248.8L450.1 247.2L451.3 248.4zM492.8 248.3L491.1 248.5L491.8 246.9zM510.2 249.2L508.8 248.4L510.2 247.5zM515.5 248.9L514.4 247.7L516.1 247.3zM521.5 248.9L520.3 247.7L521.9 247.3zM331.9 254.0L333.1 252.9L333.5 254.5zM356.2 254.6L355.9 253.0L357.5 253.6zM386.1 255.0L385.1 253.7L386.8 253.5zM391.6 254.7L391.1 253.2L392.8 253.6zM455.7 254.7L456.0 253.1L457.2 254.2zM468.3 254.7L467.4 253.3L469.1 253.3zM485.5 255.1L485.1 253.6L486.7 254.0zM498.2 254.9L496.8 254.0L498.4 253.2zM532.3 254.4L532.7 252.8L533.9 254.0zM386.5 260.3L385.0 259.7L386.4 258.7zM397.5 260.6L396.9 259.1L398.6 259.4zM408.6 260.7L408.8 259.1L410.1 260.2zM420.4 260.2L421.0 258.7L422.0 260.1zM432.4 260.2L432.8 258.6L434.0 259.9zM497.1 260.7L497.0 259.1L498.5 259.9zM526.8 260.5L526.4 258.9L528.0 259.4zM320.2 264.9L321.8 264.8L321.0 266.3zM344.6 264.7L345.8 265.9L344.1 266.3zM379.7 266.4L379.5 264.7L381.0 265.4zM432.1 265.5L433.4 264.6L433.5 266.3zM443.8 265.3L445.3 264.8L444.9 266.4zM502.9 266.8L502.8 265.2L504.3 265.9zM526.0 265.6L527.3 264.6L527.5 266.3zM314.6 270.4L316.1 270.9L314.8 272.0zM321.5 270.4L322.0 271.9L320.4 271.5zM344.9 270.4L345.6 271.9L343.9 271.7zM367.8 272.1L367.9 270.5L369.3 271.4zM391.5 272.2L391.2 270.6L392.8 271.2zM437.8 270.3L439.4 270.7L438.2 271.9zM455.6 271.2L457.1 270.6L456.8 272.3zM490.9 271.6L492.1 270.5L492.4 272.1zM525.9 271.4L527.2 270.5L527.3 272.2zM321.1 276.3L322.2 277.5L320.5 277.8zM337.6 277.1L339.1 276.4L338.9 278.1zM414.4 278.0L414.9 276.5L416.0 277.8zM431.9 276.9L433.5 276.5L433.0 278.1zM467.2 277.5L468.4 276.4L468.8 278.0zM490.9 277.6L491.9 276.3L492.5 277.9zM502.4 277.0L504.0 276.5L503.6 278.1zM531.9 277.6L533.0 276.4L533.5 278.0zM316.2 281.9L316.2 283.5L314.7 282.6zM321.4 282.3L322.1 283.8L320.4 283.6zM397.2 284.0L397.2 282.4L398.7 283.2zM402.9 284.3L402.9 282.6L404.4 283.5zM420.1 282.2L421.8 282.5L420.6 283.7zM462.1 282.4L463.4 283.3L461.9 284.0zM496.9 283.6L497.7 282.2L498.5 283.6zM519.9 282.9L521.4 282.3L521.1 284.0zM369.1 290.2L367.6 289.5L369.0 288.6zM380.9 289.8L379.3 289.4L380.5 288.2zM403.9 288.0L404.3 289.6L402.7 289.2zM414.0 288.4L415.7 288.2L415.0 289.8zM426.6 287.8L427.9 288.7L426.3 289.4zM438.4 287.8L439.7 288.8L438.1 289.5zM473.3 289.1L474.6 288.1L474.8 289.8zM496.9 289.3L497.9 288.0L498.6 289.6zM319.9 294.8L321.4 294.1L321.2 295.7zM426.7 293.9L428.0 294.8L426.5 295.5zM432.1 294.8L433.6 294.1L433.3 295.8zM491.0 295.4L491.7 293.9L492.6 295.4zM497.1 296.1L497.0 294.4L498.5 295.2zM502.8 295.9L503.0 294.2L504.4 295.2zM514.7 295.6L515.0 294.0L516.3 295.1zM525.7 295.2L526.9 294.1L527.3 295.7zM350.8 301.7L349.8 300.5L351.5 300.3zM356.9 301.9L355.7 300.8L357.3 300.3zM375.5 300.9L374.1 301.6L374.2 299.9zM380.9 301.1L379.3 301.4L379.9 299.8zM386.8 301.8L385.2 301.3L386.6 300.2zM397.9 301.7L396.8 300.5L398.5 300.2zM431.6 300.4L433.2 299.9L432.7 301.6zM461.9 299.5L463.2 300.4L461.6 301.1zM497.4 302.2L496.8 300.7L498.5 301.0zM345.4 307.4L343.8 306.8L345.1 305.7zM351.3 307.5L349.8 306.9L351.1 305.9zM363.2 306.5L362.1 307.6L361.7 306.0zM381.4 306.1L380.4 307.4L379.8 305.9zM398.0 307.7L396.8 306.6L398.4 306.1zM404.0 308.1L402.8 307.0L404.4 306.5zM426.2 306.8L427.5 305.7L427.8 307.4zM432.2 306.6L433.6 305.8L433.5 307.5zM438.2 305.6L439.7 306.3L438.2 307.2zM461.4 306.6L462.9 305.9L462.7 307.5zM485.2 307.5L485.4 305.9L486.7 307.0zM497.8 307.9L496.8 306.5L498.5 306.4zM504.0 308.0L502.8 307.0L504.4 306.5zM508.9 308.0L508.6 306.4L510.2 307.0zM526.5 308.0L526.3 306.3L527.9 307.0zM539.3 307.6L537.9 306.7L539.4 306.0zM363.7 312.2L362.5 313.4L362.1 311.8zM380.9 312.0L380.1 313.5L379.3 312.0zM393.2 312.7L391.7 313.4L391.9 311.7zM415.4 313.8L414.5 312.4L416.2 312.4zM443.6 312.6L445.0 311.7L445.1 313.4zM455.7 312.1L457.3 312.0L456.5 313.5zM461.2 313.2L462.0 311.8L462.8 313.3zM503.8 313.8L502.7 312.5L504.4 312.3zM328.0 319.4L326.4 318.8L327.7 317.8zM375.2 317.7L374.6 319.2L373.6 317.8zM387.2 318.9L385.6 319.2L386.2 317.6zM398.8 319.2L397.2 319.1L398.2 317.7zM438.0 318.1L439.6 317.8L439.1 319.4zM455.6 318.1L457.2 317.8L456.7 319.4zM467.7 319.3L467.8 317.7L469.2 318.6zM492.6 319.1L491.0 318.9L492.1 317.6zM356.7 323.2L357.4 324.7L355.7 324.5zM363.0 323.4L363.0 325.0L361.6 324.1zM404.0 325.7L402.8 324.6L404.4 324.1zM420.3 324.7L421.3 323.4L422.0 324.9zM449.4 324.1L450.9 323.5L450.7 325.2zM480.3 325.2L479.1 324.0L480.8 323.7zM492.3 325.2L490.9 324.3L492.4 323.6zM516.6 323.7L515.7 325.1L514.9 323.5zM533.9 324.4L532.4 325.1L532.6 323.4zM539.9 324.4L538.5 325.1L538.7 323.4zM315.5 331.3L314.5 330.0L316.2 329.8zM321.7 330.9L320.2 330.1L321.7 329.2zM362.1 329.3L363.4 330.4L361.8 330.9zM374.3 329.2L375.0 330.7L373.3 330.5zM380.3 329.4L380.8 331.0L379.1 330.5zM403.9 331.3L402.7 330.1L404.3 329.7zM432.1 330.2L433.5 329.3L433.5 331.0zM455.6 330.7L456.4 329.3L457.3 330.7zM498.7 331.1L497.1 330.8L498.2 329.5zM510.4 330.0L509.2 331.1L508.9 329.4zM515.7 329.3L515.9 330.9L514.4 330.2zM522.3 330.3L520.8 331.0L521.0 329.3zM527.5 329.5L527.5 331.1L526.1 330.2zM328.5 335.9L327.1 336.9L327.0 335.2zM340.1 336.2L338.6 336.9L338.8 335.2zM357.6 335.1L357.2 336.6L356.0 335.4zM398.2 336.8L396.7 336.0L398.2 335.1zM455.1 336.6L456.1 335.3L456.7 336.9zM510.5 335.1L510.1 336.6L508.9 335.4zM521.6 334.7L522.0 336.3L520.4 335.8zM316.0 342.7L314.5 342.1L315.8 341.0zM345.8 341.6L344.8 342.8L344.3 341.2zM414.1 342.5L415.0 341.2L415.7 342.7zM425.9 342.8L426.6 341.3L427.5 342.7zM443.5 341.6L445.1 341.1L444.6 342.8zM449.2 342.3L450.4 341.1L450.7 342.8zM461.3 342.2L462.5 341.0L462.9 342.7zM487.2 342.3L485.7 342.7L486.1 341.1zM504.5 341.8L503.3 342.8L503.0 341.2zM539.9 341.0L539.4 342.6L538.3 341.3zM316.0 348.4L314.4 348.0L315.6 346.8zM340.3 348.0L338.9 348.7L339.0 347.0zM351.5 347.6L350.4 348.8L349.9 347.2zM419.8 347.3L421.4 347.0L420.9 348.6zM437.9 347.8L439.3 347.0L439.3 348.7zM455.6 348.6L456.1 347.0L457.3 348.3zM461.9 348.8L461.8 347.1L463.3 347.9zM498.7 346.9L498.2 348.5L497.1 347.2zM504.6 347.2L503.9 348.6L502.9 347.2zM509.9 346.7L510.2 348.3L508.6 347.7zM521.5 346.9L521.8 348.6L520.2 348.0zM539.8 348.4L538.2 348.4L539.1 347.0z" fill="#45b0f0" stroke="#45b0f0" stroke-width="0.5"/>
<path d="M355.2 205.8L356.1 206.3M387.2 205.4L386.3 206.3M392.3 204.7L391.9 206.4M405.3 205.9L404.0 206.5M417.1 207.6L415.7 206.9M435.0 207.4L433.3 206.8M440.3 205.6L439.3 206.4M461.4 204.5L462.3 206.6M467.8 204.5L468.2 206.5M472.3 206.7L473.7 206.7M478.5 207.4L479.5 206.9M484.1 206.9L485.4 206.8M507.5 206.6L509.0 206.7M525.4 205.5L526.8 206.5M532.8 205.0L532.9 206.1M537.6 204.6L538.8 206.6M337.8 210.8L338.7 212.3M354.8 212.5L356.0 212.6M361.9 210.7L362.3 212.2M374.4 210.9L374.3 212.0M387.4 210.5L386.0 212.5M399.6 211.4L397.9 212.4M404.3 210.4L403.7 212.3M429.3 212.1L427.4 212.5M460.8 211.6L462.0 212.3M466.3 212.7L467.9 212.6M471.9 212.1L473.9 212.5M477.6 213.2L479.9 212.6M519.3 210.9L521.1 212.5M525.2 213.1L526.7 212.7M539.7 211.0L539.1 212.1M338.4 216.2L338.9 218.2M361.1 216.7L362.3 218.2M366.7 218.2L367.7 218.3M380.3 216.1L380.1 218.3M429.4 217.9L427.3 218.4M445.1 216.6L444.8 218.0M461.3 216.9L462.1 218.1M466.4 218.7L467.8 218.5M472.4 219.6L473.9 218.6M484.9 220.7L485.9 218.6M490.0 220.0L491.6 218.6M501.4 219.4L503.4 218.5M513.8 218.1L514.7 218.3M519.3 217.5L520.9 218.3M525.5 217.3L526.7 218.2M530.7 218.0L532.8 218.4M539.5 216.7L539.0 218.0M331.6 222.8L332.8 224.1M342.4 224.0L344.6 224.3M360.6 223.1L362.2 224.2M366.0 223.7L368.2 224.3M386.3 222.5L386.0 223.9M403.5 222.0L403.6 224.1M422.2 222.4L421.4 224.0M428.5 222.9L427.4 224.0M445.7 222.2L444.8 224.2M454.7 223.7L456.1 224.2M461.6 222.8L462.1 223.9M466.5 222.7L468.2 224.2M484.1 225.8L485.8 224.5M489.8 225.8L491.7 224.4M350.1 228.6L350.5 229.7M361.2 228.9L362.1 229.8M366.1 229.8L368.1 230.2M415.7 228.5L415.5 229.7M422.2 228.0L421.3 230.1M426.3 228.2L427.0 229.9M432.2 228.2L432.9 229.9M445.6 228.7L445.0 229.8M450.0 228.4L450.5 229.8M456.0 228.3L456.4 229.8M460.8 228.7L462.2 230.0M490.9 231.9L491.6 230.6M502.7 231.8L503.3 230.7M513.1 230.3L515.1 230.2M519.5 229.4L520.8 230.0M531.3 229.1L532.6 230.0M326.2 234.6L326.9 235.6M366.3 234.9L368.2 236.0M390.6 235.1L391.3 235.7M417.1 234.5L415.5 236.0M422.5 234.8L421.6 235.7M427.7 233.7L427.2 236.0M440.1 234.7L439.2 235.7M443.9 233.9L444.7 235.9M460.8 235.5L461.9 235.9M466.1 235.2L468.1 236.0M472.4 235.8L473.6 236.0M490.7 238.0L491.6 236.4M495.6 236.1L497.3 236.1M507.3 237.0L509.3 236.2M526.8 233.8L527.1 235.9M316.5 239.9L315.5 241.8M321.5 239.5L321.3 241.9M327.0 239.9L327.1 241.7M354.8 241.5L356.1 241.8M372.6 241.5L373.6 241.8M378.6 240.1L380.0 241.8M392.0 239.9L391.9 241.6M403.3 239.4L403.6 242.0M438.8 239.9L438.9 241.7M456.4 239.9L456.5 241.6M462.6 239.6L462.4 241.8M471.9 241.0L474.1 241.9M477.8 241.5L479.8 241.9M489.8 242.2L491.4 242.0M496.0 242.0L497.1 242.0M527.1 239.9L527.1 241.6M533.2 240.0L533.0 241.6M539.2 239.5L538.9 241.9M317.8 247.7L315.6 247.8M328.8 247.8L327.8 247.8M333.6 246.3L333.2 247.3M344.2 246.1L344.6 247.4M416.4 246.3L415.6 247.4M422.5 246.2L421.5 247.6M427.9 246.4L427.4 247.3M440.3 246.9L439.4 247.5M456.1 246.3L456.3 247.3M463.3 246.2L462.6 247.4M466.4 246.4L468.1 247.7M472.7 245.8L474.1 247.8M478.5 246.7L479.7 247.6M484.2 246.1L485.8 247.8M496.8 246.5L497.3 247.3M502.7 246.0L503.4 247.5M526.9 246.1L527.0 247.3M540.0 246.5L539.2 247.5M329.3 253.9L327.5 253.8M340.9 252.2L339.0 253.7M360.8 251.6L362.4 253.7M372.6 252.3L374.0 253.5M378.8 252.7L379.6 253.4M422.8 253.3L421.8 253.6M427.9 251.7L427.2 253.4M445.2 251.5L444.8 253.5M452.4 252.3L450.8 253.6M462.3 251.6L462.4 253.4M490.5 251.6L491.7 253.6M509.7 252.1L509.5 253.2M513.9 251.9L515.2 253.6M520.2 251.5L521.1 253.6M528.0 252.3L527.4 253.2M540.9 253.5L539.2 253.7M323.2 260.4L321.6 259.8M367.5 257.8L368.2 259.3M379.4 257.3L380.0 259.5M404.3 258.2L403.9 259.1M429.3 260.1L427.4 259.7M447.2 259.4L444.9 259.6M452.0 258.1L450.9 259.3M480.3 257.8L480.1 259.1M491.3 257.7L491.7 259.2M509.3 257.7L509.4 259.2M515.6 257.9L515.4 259.1M522.5 258.6L521.7 259.2M540.7 259.5L539.3 259.6M316.4 267.0L315.7 265.9M328.5 267.6L327.2 265.6M335.1 266.0L333.3 265.6M393.2 263.4L391.9 265.4M400.0 264.7L397.8 265.5M406.1 265.2L403.7 265.5M416.9 264.6L415.8 265.2M423.2 264.6L421.5 265.4M428.9 265.1L427.6 265.4M441.3 264.9L439.0 265.5M464.4 265.1L462.8 265.4M470.0 266.0L468.8 265.6M475.1 263.9L474.4 265.1M492.3 263.4L491.9 265.2M499.0 264.3L498.1 265.1M511.2 264.2L509.7 265.3M516.3 264.2L515.7 265.0M540.6 265.1L539.3 265.4M327.7 273.0L327.3 271.9M338.9 273.6L338.9 271.7M352.9 271.3L350.9 271.4M364.3 269.8L362.5 271.3M374.0 269.3L374.2 271.0M386.6 269.7L386.1 270.9M399.4 270.5L398.1 271.2M404.9 270.0L403.9 271.0M423.0 271.9L421.7 271.5M428.9 272.4L427.4 271.5M434.3 273.3L433.1 271.6M447.0 272.3L444.9 271.4M452.7 271.4L451.0 271.4M470.0 271.3L468.9 271.4M476.2 270.0L474.2 271.3M488.2 271.2L486.2 271.4M505.4 270.2L503.8 271.2M522.7 269.9L521.4 271.1M535.0 271.2L533.3 271.4M540.3 272.2L539.4 271.7M347.3 277.3L344.9 277.3M388.1 275.9L386.0 277.2M392.3 275.6L392.0 276.7M398.8 275.4L397.9 277.0M405.4 277.1L404.1 277.2M411.4 276.5L409.8 277.1M423.2 277.7L421.6 277.3M445.7 279.0L445.0 277.7M452.8 277.5L450.9 277.3M463.9 278.0L462.9 277.5M476.6 277.3L474.3 277.3M487.7 277.6L486.4 277.4M499.4 277.1L498.3 277.2M511.4 275.8L509.5 277.2M517.3 277.9L515.6 277.4M529.3 277.5L527.3 277.3M340.5 282.0L339.3 282.9M345.9 281.2L344.9 282.9M363.0 280.8L362.5 283.0M445.6 285.0L444.9 283.5M452.2 283.6L451.2 283.3M457.6 284.3L457.0 283.6M468.9 284.8L468.5 283.6M493.8 283.4L492.2 283.2M505.6 283.2L504.0 283.2M511.9 282.6L509.5 283.1M528.5 283.8L527.7 283.4M534.8 283.9L533.3 283.3M335.4 289.5L333.2 289.0M362.7 287.2L362.5 288.5M397.3 290.8L397.6 289.5M411.2 288.9L410.1 289.0M433.8 291.2L433.1 289.2M457.6 290.7L456.8 289.4M463.2 290.5L462.7 289.6M523.6 289.4L521.4 289.0M529.5 289.1L527.2 289.0M329.3 295.2L327.4 294.9M335.3 295.1L333.3 294.9M397.4 297.1L397.7 295.2M411.4 295.1L409.9 294.9M488.3 295.3L486.1 294.9M535.3 295.1L533.1 294.9M344.5 298.3L344.8 300.7M428.3 302.2L427.4 301.1M452.7 301.7L450.9 300.9M482.0 300.2L480.4 300.7M487.4 299.3L486.2 300.5M510.3 298.6L509.5 300.6M534.9 299.8L533.2 300.6M333.9 305.3L333.4 306.1M354.5 305.7L356.4 306.6M384.8 304.2L386.0 306.7M389.9 305.3L391.7 306.5M423.5 306.9L421.5 306.7M446.5 307.9L445.0 306.9M451.6 308.5L450.8 307.0M459.0 306.7L456.6 306.7M476.7 306.7L474.2 306.7M482.0 306.9L480.5 306.7M514.1 304.6L515.2 306.5M533.2 304.1L533.0 306.6M316.8 311.7L315.9 312.2M338.6 310.6L338.8 312.2M348.5 313.4L350.5 312.6M354.9 312.5L356.0 312.5M367.0 313.9L368.0 312.9M384.5 311.5L385.5 312.2M397.7 310.3L397.7 312.3M402.8 311.1L403.3 312.0M422.9 311.4L421.6 312.3M428.4 311.4L427.6 312.1M434.9 312.6L433.5 312.6M452.8 312.4L450.9 312.5M480.5 310.7L480.2 312.1M491.1 311.1L491.5 312.0M497.2 310.2L497.6 312.4M514.3 311.0L515.1 312.1M519.1 311.4L521.1 312.5M524.9 311.9L526.8 312.5M536.9 310.9L538.8 312.5M322.9 317.0L321.5 318.2M342.9 319.4L344.5 318.6M367.6 320.1L368.1 318.9M389.9 317.7L391.5 318.3M404.0 316.2L403.6 318.2M423.1 318.4L421.7 318.4M428.5 316.7L427.3 318.2M435.0 319.6L433.2 318.5M446.6 318.7L445.2 318.5M513.2 318.7L515.0 318.5M519.4 317.5L520.8 318.2M526.2 317.1L526.7 317.9M531.3 317.2L532.7 318.2M537.2 317.0L538.6 318.2M315.1 322.2L315.3 324.0M320.3 322.3L321.2 324.1M336.7 323.6L338.7 324.2M349.3 326.0L350.5 324.5M366.8 325.0L367.8 324.5M384.6 325.6L385.6 324.6M395.5 323.8L397.5 324.3M475.7 323.2L474.5 324.0M484.6 322.2L485.9 324.2M495.9 323.2L497.4 324.1M501.4 325.0L503.4 324.4M336.6 329.9L338.7 330.2M355.2 331.5L356.2 330.5M367.7 331.7L368.1 330.8M384.7 331.3L385.5 330.6M390.5 331.1L391.4 330.5M422.3 327.9L421.3 330.1M441.2 329.4L439.0 330.1M446.2 328.9L445.1 329.9M452.7 330.4L451.0 330.2M468.6 327.8L468.3 330.0M475.1 328.6L474.4 329.8M502.0 331.8L503.4 330.4M536.5 330.4L538.6 330.2M331.4 336.9L332.6 336.3M343.6 338.0L344.7 336.2M361.0 337.7L362.2 336.3M403.7 334.1L403.6 335.6M422.7 335.0L421.7 335.8M440.5 335.9L439.5 336.0M447.0 336.1L445.0 336.1M452.9 336.7L450.8 336.1M473.4 334.5L473.9 335.6M478.7 334.5L479.8 335.8M484.2 334.3L485.8 336.0M495.4 335.5L497.5 336.0M501.5 335.6L503.2 336.0M513.1 337.1L515.2 336.1M525.0 337.6L527.1 336.1M532.0 337.9L532.8 336.4M536.8 336.4L538.5 336.1M325.1 341.9L326.8 341.9M331.3 343.1L332.8 342.1M336.8 342.4L338.6 342.0M350.3 344.0L350.6 342.3M356.4 344.4L356.6 342.1M368.0 343.7L368.2 342.4M396.1 341.0L397.3 341.7M402.9 339.8L403.5 341.7M411.2 339.9L409.5 341.9M423.2 342.6L421.6 342.1M440.6 342.2L439.4 342.0M474.8 339.9L474.3 341.6M477.9 341.0L479.9 341.9M507.2 342.5L509.2 342.0M518.8 342.2L521.0 342.0M326.0 346.6L326.8 347.4M331.2 347.6L332.5 347.8M342.9 347.8L344.3 347.8M355.2 349.5L356.4 348.1M361.8 349.4L362.2 348.4M367.2 349.2L368.0 348.3M384.4 345.8L385.9 347.8M397.3 346.1L397.6 347.3M404.3 346.2L403.8 347.3M428.7 348.4L427.7 348.0M446.6 349.3L444.9 347.9M452.4 349.6L450.7 347.9M480.1 345.3L480.0 347.7M484.4 346.4L485.6 347.6M514.4 349.4L515.0 348.3M530.9 347.4L532.6 347.8" stroke="#1010e0" stroke-width="1.35" fill="none"/>
<path d="M357.9 207.6L355.3 207.4L356.8 205.3zM384.7 208.0L385.4 205.4L387.2 207.2zM391.4 208.7L390.6 206.1L393.2 206.6zM401.9 207.5L403.5 205.3L404.6 207.7zM413.6 205.8L416.3 205.7L415.1 208.0zM431.0 206.0L433.7 205.6L432.8 208.0zM437.4 207.8L438.5 205.3L440.1 207.4zM463.4 208.9L461.1 207.1L463.5 206.0zM468.8 208.9L467.0 206.7L469.5 206.2zM476.0 206.7L473.7 208.0L473.7 205.4zM481.6 206.0L480.0 208.1L479.0 205.7zM487.7 206.5L485.5 208.0L485.3 205.5zM511.4 206.8L509.0 208.0L509.1 205.4zM528.8 207.9L526.0 207.5L527.6 205.4zM533.2 208.4L531.6 206.3L534.2 206.0zM540.1 208.8L537.6 207.2L539.9 205.9zM340.1 214.3L337.6 213.0L339.8 211.6zM358.3 212.6L356.0 213.9L356.1 211.3zM362.9 214.5L361.1 212.5L363.6 211.8zM374.0 214.2L373.0 211.9L375.6 212.1zM384.5 214.7L384.9 211.8L387.1 213.3zM395.8 213.7L397.3 211.3L398.6 213.6zM402.9 214.7L402.4 212.0L404.9 212.7zM424.9 213.1L427.1 211.3L427.6 213.8zM464.0 213.6L461.3 213.4L462.7 211.2zM470.3 212.5L467.9 213.9L467.8 211.3zM476.4 213.0L473.7 213.8L474.2 211.3zM482.4 212.0L480.2 213.9L479.6 211.3zM523.1 214.2L520.3 213.5L522.0 211.5zM529.0 212.1L527.0 213.9L526.4 211.4zM538.0 214.1L538.0 211.5L540.2 212.7zM339.4 220.7L337.6 218.5L340.1 218.0zM363.8 220.2L361.2 219.0L363.3 217.4zM369.9 218.8L367.5 219.6L368.0 217.1zM379.8 220.8L378.8 218.1L381.4 218.4zM424.9 219.0L427.0 217.1L427.6 219.7zM444.4 220.3L443.6 217.8L446.1 218.3zM463.5 220.0L461.1 218.9L463.2 217.3zM470.2 218.2L468.0 219.8L467.7 217.2zM475.9 217.3L474.6 219.7L473.2 217.6zM486.9 216.2L487.1 219.1L484.7 218.0zM493.6 217.0L492.5 219.6L490.8 217.6zM505.7 217.5L503.9 219.7L502.8 217.4zM516.9 218.8L514.4 219.6L515.0 217.0zM523.1 219.5L520.3 219.5L521.5 217.2zM528.6 219.6L526.0 219.2L527.5 217.1zM535.3 218.9L532.5 219.7L533.0 217.1zM538.2 220.2L537.8 217.6L540.2 218.4zM334.5 225.9L331.9 225.0L333.8 223.2zM347.2 224.7L344.5 225.6L344.8 223.0zM364.3 225.5L361.5 225.3L362.9 223.1zM370.7 225.0L367.8 225.6L368.5 223.1zM385.6 226.2L384.8 223.7L387.3 224.1zM403.7 226.6L402.3 224.2L404.9 224.1zM420.3 226.2L420.2 223.5L422.6 224.6zM425.7 225.7L426.5 223.1L428.3 225.0zM443.8 226.5L443.6 223.7L446.0 224.7zM458.4 225.0L455.7 225.4L456.6 223.0zM463.2 225.9L461.0 224.5L463.3 223.2zM470.0 226.0L467.3 225.2L469.1 223.3zM487.7 222.8L486.6 225.5L484.9 223.5zM493.8 222.9L492.5 225.5L490.9 223.4zM351.3 231.9L349.3 230.1L351.7 229.3zM363.6 231.6L361.1 230.7L363.1 229.0zM370.6 230.7L367.8 231.4L368.4 228.9zM415.0 232.0L414.2 229.4L416.7 230.0zM420.3 232.4L420.1 229.6L422.5 230.6zM427.9 232.2L425.8 230.4L428.2 229.5zM433.8 232.2L431.7 230.4L434.1 229.4zM443.9 231.8L443.9 229.1L446.2 230.4zM451.2 232.0L449.3 230.2L451.7 229.4zM457.0 232.1L455.2 230.1L457.7 229.5zM464.0 231.8L461.3 230.9L463.1 229.1zM492.7 228.5L492.7 231.2L490.5 230.0zM504.4 228.6L504.5 231.3L502.2 230.1zM517.6 230.1L515.1 231.5L515.0 228.9zM522.9 231.1L520.2 231.2L521.4 228.8zM534.6 231.4L531.9 231.1L533.4 228.9zM328.1 237.6L325.8 236.3L328.0 234.9zM370.4 237.3L367.5 237.1L368.8 234.9zM393.1 237.1L390.6 236.8L392.1 234.7zM413.6 237.7L414.6 235.0L416.4 236.9zM420.0 237.4L420.7 234.8L422.5 236.6zM426.6 238.5L425.9 235.7L428.4 236.3zM437.6 237.5L438.2 234.9L440.2 236.6zM445.6 238.3L443.5 236.4L445.9 235.5zM464.0 236.7L461.4 237.1L462.3 234.7zM470.4 237.0L467.6 237.2L468.6 234.8zM475.9 236.4L473.4 237.3L473.9 234.7zM492.9 234.2L492.8 237.0L490.5 235.7zM499.8 236.1L497.3 237.4L497.3 234.8zM511.6 235.2L509.8 237.4L508.8 235.0zM527.4 238.4L525.8 236.1L528.3 235.7zM314.3 244.0L314.3 241.2L316.6 242.4zM321.0 244.4L320.0 241.7L322.6 242.0zM327.4 244.1L325.8 241.8L328.4 241.5zM358.3 242.5L355.7 243.1L356.4 240.6zM375.8 242.4L373.3 243.1L374.0 240.6zM381.6 243.9L379.0 242.7L381.0 241.0zM391.7 244.1L390.6 241.6L393.2 241.7zM403.9 244.6L402.3 242.1L404.9 241.8zM439.0 244.1L437.6 241.7L440.2 241.6zM456.6 244.0L455.2 241.7L457.8 241.5zM462.2 244.4L461.1 241.7L463.7 241.9zM476.4 242.9L473.5 243.1L474.6 240.7zM482.2 242.5L479.5 243.2L480.1 240.7zM493.8 241.8L491.5 243.3L491.2 240.7zM499.4 241.9L497.1 243.3L497.1 240.7zM527.0 244.0L525.8 241.6L528.4 241.6zM532.7 244.0L531.7 241.4L534.3 241.7zM538.5 244.4L537.6 241.7L540.1 242.1zM313.0 248.0L315.5 246.6L315.7 249.1zM325.5 248.0L327.7 246.5L327.9 249.1zM332.5 249.4L332.0 246.8L334.5 247.7zM345.4 249.6L343.4 247.8L345.9 247.0zM414.4 249.4L414.5 246.7L416.7 248.2zM419.9 249.5L420.4 246.8L422.5 248.4zM426.4 249.3L426.3 246.7L428.6 247.9zM437.5 248.8L438.6 246.5L440.1 248.6zM457.0 249.4L455.1 247.6L457.6 246.9zM461.5 249.5L461.5 246.8L463.8 248.1zM470.1 249.3L467.3 248.8L468.9 246.7zM475.6 249.9L473.0 248.5L475.2 247.0zM481.5 249.0L478.9 248.6L480.5 246.5zM487.6 249.6L484.9 248.7L486.8 246.9zM498.6 249.2L496.3 248.1L498.4 246.6zM504.4 249.7L502.2 248.0L504.6 247.0zM527.3 249.7L525.7 247.5L528.3 247.2zM537.7 249.3L538.2 246.6L540.2 248.3zM325.1 253.6L327.6 252.5L327.4 255.1zM337.0 255.2L338.2 252.6L339.8 254.7zM364.1 255.9L361.4 254.5L363.5 253.0zM375.8 255.2L373.1 254.5L374.8 252.6zM381.4 254.7L378.8 254.4L380.4 252.3zM419.7 254.2L421.5 252.3L422.2 254.8zM426.4 255.7L426.0 253.0L428.4 253.9zM444.3 256.0L443.5 253.3L446.1 253.7zM448.9 255.2L450.0 252.6L451.7 254.6zM462.5 255.9L461.1 253.5L463.7 253.3zM493.1 255.8L490.6 254.3L492.8 253.0zM509.2 255.4L508.2 253.0L510.8 253.3zM516.8 255.5L514.2 254.4L516.2 252.8zM522.2 255.9L519.9 254.1L522.3 253.1zM526.2 255.2L526.3 252.5L528.5 253.9zM536.7 254.0L539.0 252.4L539.3 255.0zM319.4 258.8L322.1 258.5L321.1 261.0zM369.1 261.5L367.0 259.8L369.4 258.8zM380.8 261.9L378.8 259.8L381.3 259.1zM402.9 261.1L402.7 258.5L405.0 259.6zM424.9 259.2L427.6 258.4L427.1 260.9zM442.3 259.8L444.8 258.3L445.0 260.9zM449.3 261.2L449.9 258.5L451.9 260.2zM479.8 261.4L478.8 259.0L481.4 259.3zM492.3 261.5L490.4 259.5L493.0 258.9zM509.6 261.5L508.1 259.2L510.7 259.1zM515.0 261.4L514.1 258.9L516.7 259.3zM519.9 260.7L520.8 258.2L522.5 260.3zM537.0 259.7L539.2 258.3L539.4 260.9zM314.4 264.0L316.8 265.2L314.6 266.6zM325.8 263.4L328.3 264.9L326.1 266.3zM331.0 265.0L333.6 264.3L333.1 266.8zM390.5 267.6L390.8 264.7L393.0 266.1zM395.4 266.3L397.4 264.2L398.3 266.7zM401.1 265.8L403.5 264.2L403.8 266.8zM413.8 266.4L415.2 264.1L416.5 266.4zM419.3 266.4L421.0 264.2L422.1 266.6zM425.3 265.9L427.3 264.1L427.9 266.7zM436.5 266.1L438.7 264.2L439.3 266.7zM460.4 265.9L462.5 264.1L463.0 266.7zM466.6 265.0L469.1 264.4L468.5 266.9zM473.2 267.1L473.3 264.4L475.5 265.7zM491.3 267.6L490.6 264.9L493.1 265.5zM496.4 266.7L497.2 264.2L499.0 266.1zM507.7 266.8L508.9 264.3L510.4 266.4zM514.4 266.8L514.6 264.2L516.7 265.7zM537.1 265.9L539.0 264.1L539.6 266.6zM326.7 269.7L328.6 271.6L326.1 272.3zM339.0 269.2L340.2 271.7L337.6 271.6zM348.5 271.5L350.9 270.1L351.0 272.7zM360.6 273.0L361.7 270.3L363.4 272.3zM374.4 273.4L372.9 271.2L375.5 270.9zM385.3 273.1L384.9 270.5L387.4 271.3zM396.0 272.2L397.5 270.0L398.7 272.3zM402.3 272.8L403.0 270.2L404.9 271.9zM419.5 270.9L422.1 270.3L421.3 272.8zM425.3 270.4L428.0 270.4L426.8 272.7zM431.7 269.5L434.2 270.8L432.0 272.3zM442.5 270.5L445.4 270.2L444.4 272.6zM448.5 271.4L451.0 270.1L451.0 272.7zM466.6 271.4L468.8 270.1L468.9 272.7zM472.1 272.8L473.5 270.3L475.0 272.4zM483.6 271.6L486.1 270.1L486.3 272.7zM501.7 272.5L503.1 270.1L504.5 272.3zM519.7 272.8L520.5 270.2L522.4 272.1zM530.9 271.5L533.2 270.1L533.4 272.7zM537.4 270.6L540.0 270.5L538.7 272.8zM342.3 277.2L344.9 276.0L344.8 278.6zM383.8 278.6L385.4 276.1L386.7 278.3zM391.4 278.9L390.7 276.4L393.2 277.1zM396.7 279.2L396.7 276.4L399.0 277.6zM401.8 277.4L404.0 275.9L404.2 278.5zM407.5 278.0L409.3 275.9L410.3 278.3zM419.3 276.8L421.9 276.1L421.4 278.6zM443.9 275.6L446.1 277.1L443.8 278.3zM448.5 277.0L451.1 276.0L450.8 278.6zM460.9 276.6L463.5 276.3L462.4 278.7zM471.7 277.2L474.3 276.0L474.3 278.6zM484.1 276.9L486.7 276.1L486.2 278.6zM496.0 277.4L498.2 275.9L498.4 278.5zM507.5 278.8L508.8 276.1L510.3 278.2zM513.3 276.6L516.0 276.1L515.2 278.6zM524.9 277.0L527.5 276.0L527.2 278.6zM337.3 284.3L338.5 281.8L340.0 283.9zM343.7 285.0L343.8 282.2L346.1 283.5zM361.9 285.5L361.2 282.7L363.7 283.3zM443.9 281.3L446.1 282.9L443.7 284.0zM449.0 282.7L451.6 282.1L450.8 284.6zM455.4 282.0L457.9 282.7L456.1 284.5zM467.6 281.5L469.7 283.2L467.3 284.1zM489.8 282.8L492.4 281.9L492.0 284.5zM501.6 283.1L504.0 281.9L503.9 284.5zM507.0 283.7L509.2 281.9L509.8 284.4zM525.6 282.4L528.2 282.2L527.1 284.6zM531.1 282.4L533.8 282.1L532.9 284.5zM330.6 288.5L333.4 287.8L332.9 290.3zM362.2 290.9L361.2 288.4L363.8 288.7zM398.1 287.3L398.9 289.8L396.3 289.3zM407.8 289.1L410.0 287.7L410.1 290.3zM432.2 286.8L434.3 288.7L431.9 289.7zM455.5 287.4L457.8 288.7L455.7 290.1zM461.6 287.5L463.8 289.0L461.5 290.1zM518.8 288.7L521.6 287.8L521.2 290.3zM524.7 288.9L527.3 287.7L527.2 290.3zM325.0 294.6L327.6 293.6L327.3 296.2zM330.8 294.7L333.4 293.6L333.2 296.2zM398.1 292.7L399.0 295.3L396.4 295.0zM407.5 294.7L410.0 293.7L409.8 296.2zM483.6 294.5L486.3 293.7L485.8 296.2zM530.6 294.7L533.3 293.6L533.0 296.2zM345.1 303.2L343.5 300.8L346.1 300.5zM425.9 299.4L428.4 300.3L426.5 302.0zM448.6 299.8L451.4 299.7L450.3 302.1zM478.1 301.3L480.1 299.4L480.8 301.9zM484.4 302.2L485.3 299.6L487.1 301.5zM508.6 302.9L508.3 300.1L510.7 301.1zM531.1 301.8L532.6 299.5L533.8 301.8zM332.2 308.1L332.2 305.5L334.5 306.8zM358.7 307.6L355.8 307.7L356.9 305.4zM387.1 309.1L384.8 307.2L387.1 306.1zM393.8 308.0L390.9 307.6L392.4 305.5zM419.0 306.5L421.6 305.4L421.4 308.0zM443.1 305.4L445.8 305.8L444.3 307.9zM449.7 304.8L452.0 306.4L449.6 307.6zM454.1 306.6L456.7 305.4L456.6 308.0zM471.6 306.6L474.2 305.4L474.2 308.0zM478.1 306.4L480.6 305.4L480.3 308.0zM516.5 308.7L514.1 307.2L516.4 305.9zM532.7 309.2L531.7 306.4L534.3 306.7zM314.0 313.4L315.3 311.1L316.6 313.3zM339.3 314.5L337.6 312.4L340.1 311.9zM352.8 311.7L351.0 313.8L350.0 311.4zM358.2 312.6L355.9 313.8L356.0 311.2zM369.6 311.1L369.0 313.8L367.1 312.0zM387.4 313.5L384.8 313.3L386.2 311.2zM397.7 314.7L396.4 312.3L399.0 312.2zM404.4 314.0L402.2 312.6L404.5 311.4zM419.6 313.7L420.8 311.2L422.3 313.4zM425.9 313.7L426.7 311.2L428.4 313.1zM431.1 312.4L433.6 311.3L433.4 313.9zM448.5 312.7L450.9 311.2L451.0 313.8zM479.5 314.4L478.9 311.7L481.4 312.4zM492.5 314.0L490.4 312.5L492.7 311.4zM498.2 314.9L496.4 312.6L498.9 312.1zM516.3 314.1L514.0 312.8L516.1 311.4zM523.3 313.7L520.4 313.6L521.7 311.3zM529.2 313.2L526.5 313.7L527.2 311.2zM540.8 314.1L537.9 313.5L539.6 311.5zM319.7 319.9L320.6 317.2L322.4 319.2zM346.7 317.5L345.1 319.7L344.0 317.4zM369.1 316.8L369.3 319.4L366.9 318.3zM393.8 319.2L391.1 319.5L392.0 317.1zM403.2 320.7L402.4 318.0L404.9 318.4zM419.4 318.5L421.7 317.1L421.8 319.7zM425.8 320.1L426.3 317.4L428.3 319.0zM431.0 317.2L433.8 317.4L432.5 319.6zM442.9 318.1L445.4 317.2L445.1 319.8zM517.4 318.2L515.2 319.7L514.8 317.2zM523.0 319.3L520.3 319.4L521.4 317.1zM528.0 319.8L525.7 318.6L527.8 317.2zM534.6 319.6L531.9 319.2L533.4 317.1zM540.5 319.9L537.8 319.2L539.5 317.2zM315.7 326.4L314.1 324.2L316.6 323.7zM322.3 326.3L320.0 324.7L322.3 323.5zM341.2 325.0L338.3 325.5L339.1 323.0zM352.1 322.6L351.5 325.4L349.5 323.7zM369.9 323.6L368.4 325.7L367.3 323.4zM387.4 323.0L386.5 325.6L384.7 323.7zM400.0 324.8L397.2 325.5L397.8 323.0zM472.7 325.4L473.8 323.0L475.3 325.1zM487.3 326.4L484.8 324.9L487.0 323.5zM499.5 325.4L496.7 325.2L498.0 323.0zM505.8 323.6L503.7 325.6L503.0 323.1zM341.3 330.5L338.6 331.4L338.9 328.9zM357.9 328.8L357.2 331.4L355.3 329.6zM368.9 328.7L369.3 331.2L366.9 330.3zM387.2 329.0L386.4 331.5L384.6 329.6zM393.2 329.2L392.1 331.6L390.6 329.5zM420.2 332.5L420.1 329.6L422.5 330.6zM436.6 331.0L438.6 328.9L439.4 331.4zM443.3 331.5L444.2 328.9L445.9 330.9zM448.6 330.0L451.1 328.9L450.9 331.5zM467.9 332.5L467.0 329.8L469.6 330.2zM473.2 331.7L473.3 329.1L475.5 330.5zM505.1 328.6L504.3 331.3L502.4 329.5zM541.1 329.9L538.8 331.5L538.5 328.9zM334.6 335.2L333.2 337.4L332.0 335.2zM346.0 334.1L345.8 336.9L343.6 335.5zM363.9 334.4L363.2 337.1L361.3 335.4zM403.5 338.0L402.3 335.5L404.9 335.7zM419.7 337.1L420.9 334.7L422.4 336.8zM437.2 336.2L439.4 334.7L439.6 337.3zM442.5 336.0L445.1 334.8L445.0 337.4zM448.4 335.4L451.2 334.9L450.5 337.4zM474.9 337.6L472.7 336.1L475.1 335.0zM481.4 337.7L478.8 336.7L480.8 335.0zM487.6 337.8L484.9 336.9L486.7 335.0zM499.9 336.6L497.1 337.3L497.8 334.7zM505.6 336.5L503.0 337.3L503.5 334.7zM517.5 335.0L515.8 337.3L514.6 335.0zM529.2 334.5L527.8 337.1L526.3 335.0zM533.9 334.3L533.9 337.0L531.6 335.8zM540.8 335.7L538.7 337.4L538.3 334.8zM329.2 342.0L326.7 343.2L326.8 340.6zM334.8 340.8L333.5 343.2L332.0 341.0zM341.0 341.4L338.9 343.3L338.3 340.7zM351.1 339.8L351.9 342.5L349.3 342.0zM356.7 339.5L357.8 342.2L355.3 342.0zM368.6 340.2L369.5 342.7L367.0 342.2zM399.3 342.9L396.6 342.8L397.9 340.6zM404.3 344.0L402.3 342.1L404.7 341.3zM407.8 343.9L408.5 341.1L410.5 342.8zM419.3 341.3L422.0 340.8L421.2 343.3zM437.1 341.6L439.6 340.8L439.2 343.3zM473.6 343.9L473.0 341.2L475.5 342.0zM482.2 342.9L479.4 343.1L480.4 340.7zM511.7 341.3L509.6 343.3L508.9 340.7zM523.6 341.7L521.2 343.2L520.9 340.7zM328.4 349.0L325.8 348.3L327.7 346.5zM334.8 348.0L332.4 349.1L332.7 346.5zM346.7 347.8L344.3 349.1L344.3 346.5zM358.0 346.2L357.4 348.9L355.4 347.2zM363.1 346.3L363.4 348.9L361.0 347.9zM369.4 346.5L369.0 349.1L366.9 347.5zM387.6 349.8L384.9 348.6L386.9 346.9zM398.2 349.5L396.3 347.6L398.8 346.9zM402.9 349.4L402.6 346.8L405.0 347.8zM425.5 347.2L428.1 346.8L427.2 349.2zM442.9 346.3L445.7 346.9L444.1 348.9zM448.9 346.0L451.6 347.0L449.8 348.8zM480.0 350.3L478.7 347.7L481.3 347.7zM487.4 349.2L484.8 348.5L486.5 346.6zM516.3 346.3L516.1 348.9L513.9 347.6zM535.0 348.2L532.4 349.0L532.8 346.5z" fill="#1010e0" stroke="#1010e0" stroke-width="0.5"/>
<path d="M371.6 209.6L375.0 205.9M378.1 209.9L380.6 205.9M450.1 211.1L450.8 205.1M503.5 210.7L503.6 205.5M511.3 207.6L516.6 206.4M517.0 207.4L522.6 206.5M376.8 215.6L381.3 211.4M445.5 217.1L444.5 210.8M450.6 217.3L450.7 210.7M504.2 215.8L503.5 212.0M508.6 217.1L509.8 210.9M532.1 216.9L533.3 211.0M329.6 221.3L334.3 217.4M341.7 221.8L346.0 217.1M372.2 221.8L374.8 217.5M406.6 216.6L410.1 218.8M413.0 215.3L416.0 219.3M451.4 222.2L450.4 217.5M494.6 220.4L498.4 218.0M323.7 226.8L328.3 223.5M336.6 227.4L339.6 223.5M347.5 227.0L351.7 223.5M354.0 226.5L357.1 223.9M371.2 226.1L374.8 224.0M376.7 226.4L381.1 223.7M411.5 221.9L416.9 225.3M450.1 227.8L450.7 223.6M493.7 226.7L499.3 223.4M499.6 225.2L504.7 224.1M504.9 224.2L511.2 224.4M371.5 233.7L375.2 228.9M377.4 233.0L380.8 229.5M331.0 238.8L333.4 235.6M370.4 238.6L375.7 235.1M377.7 238.4L380.5 235.7M336.7 238.1L339.8 243.4M342.0 238.5L345.8 243.3M359.3 244.6L363.5 241.1M364.5 244.5L369.8 241.0M335.4 245.3L340.2 248.8M359.6 251.7L363.6 246.3M371.2 249.6L374.8 247.5M376.6 250.2L381.2 247.1M312.4 255.9L316.1 253.2M318.6 257.3L322.3 252.4M341.7 256.6L345.9 252.7M311.6 262.0L316.8 258.7M335.7 261.9L339.8 259.0M342.8 262.3L345.2 259.1M372.4 256.6L374.6 260.3M372.2 268.3L374.6 264.9M453.7 269.0L457.6 264.2M485.8 269.6L485.9 264.2M333.0 275.7L333.1 269.9M377.4 273.7L380.7 270.9M459.2 273.8L463.4 270.7M325.3 280.2L327.6 276.6M329.9 279.9L334.1 276.4M438.2 280.7L439.0 276.5M477.6 273.9L480.8 278.3M521.1 281.4L521.2 275.9M324.4 285.3L327.7 282.7M329.5 285.4L334.2 282.4M386.7 286.6L385.8 282.4M392.6 287.2L391.6 281.9M433.0 287.4L433.0 281.7M439.4 287.0L438.7 282.0M477.7 279.3L480.9 284.6M482.5 280.9L487.0 283.8M515.3 286.5L515.3 282.5M335.4 291.6L340.2 288.1M342.8 292.4L345.4 288.1M383.9 284.8L386.8 290.7M390.6 284.5L392.3 290.8M447.3 289.6L451.3 288.9M464.8 286.9L469.3 289.7M336.2 297.8L339.7 294.0M386.8 291.3L385.8 295.7M388.7 291.4L393.1 296.3M411.6 297.7L416.9 293.8M441.1 294.0L445.7 295.1M465.9 291.2L469.1 296.2M359.8 303.4L363.1 300.1M364.9 302.9L369.4 300.1M389.1 304.3L392.9 299.4M513.0 303.7L515.9 300.1M518.3 303.9L522.2 299.7M365.0 308.6L369.3 306.1M517.6 309.3L522.5 305.7M482.5 315.3L487.2 311.5M505.7 312.4L510.4 312.6M351.6 323.0L350.3 316.6M357.1 321.8L356.4 317.7M477.0 321.0L481.0 317.6M483.7 321.1L486.4 317.9M505.5 318.8L510.6 318.3M342.8 327.0L345.2 323.8M410.2 327.8L409.3 323.5M416.2 328.0L415.1 323.3M430.1 326.4L433.6 323.8M435.6 326.2L439.7 323.8M521.5 328.3L521.1 323.1M342.6 332.7L345.2 329.7M409.7 334.2L409.4 329.0M384.9 340.1L386.3 334.7M406.0 335.4L410.2 336.2M412.0 336.8L416.0 335.9M462.8 340.3L462.3 334.6M385.6 345.6L386.0 341.1M455.4 346.1L456.9 340.5M465.8 350.0L468.7 347.4M471.6 350.5L474.8 347.2" stroke="#0a9a0a" stroke-width="1.05" fill="none"/>
<path d="M376.8 203.8L375.9 206.7L374.0 205.0zM382.0 203.5L381.6 206.6L379.5 205.3zM451.1 202.3L452.1 205.3L449.6 205.0zM503.6 202.7L504.8 205.5L502.3 205.4zM519.3 205.8L516.9 207.6L516.3 205.2zM525.4 206.0L522.8 207.7L522.4 205.2zM383.4 209.6L382.2 212.4L380.5 210.5zM444.0 208.0L445.7 210.6L443.2 211.0zM450.7 207.9L451.9 210.7L449.4 210.7zM503.0 209.4L504.6 211.8L502.3 212.2zM510.3 208.1L511.0 211.1L508.5 210.6zM533.8 208.3L534.5 211.3L532.0 210.8zM336.5 215.7L335.1 218.4L333.6 216.4zM347.9 215.1L346.9 218.0L345.1 216.3zM376.2 215.1L375.8 218.1L373.7 216.9zM412.4 220.3L409.4 219.9L410.7 217.8zM417.7 221.6L415.0 220.1L417.0 218.6zM449.9 214.7L451.7 217.2L449.2 217.7zM500.8 216.5L499.0 219.0L497.7 217.0zM330.6 221.9L329.0 224.5L327.6 222.5zM341.3 221.2L340.6 224.2L338.6 222.7zM353.9 221.7L352.5 224.4L350.9 222.5zM359.1 222.1L357.8 224.8L356.3 223.0zM377.2 222.5L375.4 225.0L374.2 222.9zM383.5 222.3L381.7 224.8L380.5 222.7zM419.3 226.8L416.2 226.3L417.5 224.2zM451.2 220.9L451.9 223.8L449.6 223.5zM501.7 222.0L499.9 224.5L498.6 222.3zM507.5 223.5L505.0 225.3L504.5 222.9zM514.0 224.5L511.2 225.6L511.3 223.1zM376.9 226.7L376.2 229.7L374.2 228.2zM382.7 227.5L381.7 230.3L379.9 228.6zM335.0 233.4L334.4 236.3L332.5 234.9zM378.0 233.6L376.4 236.2L375.0 234.1zM382.4 233.8L381.3 236.5L379.7 234.8zM341.2 245.9L338.7 244.1L340.9 242.8zM347.6 245.4L344.8 244.0L346.8 242.5zM365.6 239.3L364.3 242.1L362.7 240.2zM372.2 239.5L370.5 242.1L369.2 240.0zM342.4 250.4L339.4 249.8L340.9 247.8zM365.2 244.1L364.6 247.1L362.6 245.6zM377.2 246.1L375.4 248.5L374.2 246.5zM383.6 245.5L381.9 248.1L380.5 246.1zM318.4 251.5L316.8 254.2L315.4 252.2zM324.0 250.1L323.3 253.1L321.3 251.6zM347.9 250.8L346.7 253.7L345.0 251.8zM319.2 257.2L317.5 259.8L316.1 257.7zM342.1 257.3L340.6 260.0L339.1 257.9zM346.8 256.9L346.1 259.8L344.2 258.4zM376.0 262.7L373.5 260.9L375.6 259.7zM376.2 262.7L375.6 265.6L373.6 264.2zM459.4 262.0L458.6 265.0L456.6 263.4zM486.0 261.4L487.2 264.2L484.7 264.2zM333.1 267.1L334.3 269.9L331.8 269.9zM382.8 269.1L381.5 271.8L379.9 270.0zM465.6 269.0L464.1 271.7L462.6 269.6zM329.0 274.3L328.6 277.3L326.5 276.0zM336.2 274.6L334.9 277.4L333.3 275.4zM439.5 273.8L440.2 276.8L437.8 276.3zM482.4 280.6L479.8 279.1L481.8 277.6zM521.3 273.1L522.5 275.9L520.0 275.9zM329.9 281.0L328.5 283.6L327.0 281.8zM336.6 280.8L334.9 283.4L333.6 281.3zM385.2 279.7L387.0 282.1L384.6 282.6zM391.1 279.1L392.8 281.6L390.4 282.1zM433.0 278.9L434.2 281.7L431.7 281.7zM438.3 279.2L440.0 281.8L437.5 282.2zM482.4 286.9L479.9 285.2L482.0 283.9zM489.4 285.3L486.3 284.9L487.7 282.8zM515.3 279.8L516.5 282.5L514.1 282.5zM342.5 286.5L340.9 289.1L339.5 287.1zM346.8 285.7L346.4 288.7L344.3 287.4zM388.0 293.2L385.7 291.3L387.9 290.2zM393.1 293.5L391.1 291.1L393.5 290.5zM454.0 288.4L451.5 290.1L451.1 287.7zM471.7 291.1L468.7 290.7L470.0 288.6zM341.7 292.0L340.7 294.9L338.8 293.2zM385.1 298.5L384.6 295.5L386.9 296.0zM395.0 298.4L392.2 297.2L394.0 295.5zM419.1 292.1L417.6 294.8L416.1 292.8zM448.4 295.8L445.4 296.3L446.0 294.0zM470.6 298.6L468.1 296.9L470.2 295.5zM365.1 298.1L364.0 301.0L362.2 299.2zM371.8 298.6L370.1 301.2L368.7 299.0zM394.6 297.2L393.9 300.2L391.9 298.7zM517.7 297.9L516.9 300.8L515.0 299.3zM524.1 297.7L523.1 300.6L521.3 298.9zM371.7 304.7L369.9 307.2L368.6 305.0zM524.8 304.1L523.3 306.7L521.8 304.7zM489.4 309.7L488.0 312.5L486.4 310.5zM513.2 312.7L510.4 313.8L510.5 311.4zM349.7 313.8L351.5 316.3L349.1 316.8zM356.0 315.0L357.6 317.5L355.3 317.9zM483.1 315.9L481.8 318.6L480.2 316.7zM488.1 315.7L487.3 318.6L485.5 317.1zM513.4 318.0L510.8 319.5L510.5 317.0zM346.8 321.6L346.1 324.5L344.2 323.1zM408.7 320.8L410.5 323.3L408.1 323.8zM414.6 320.6L416.3 323.0L413.9 323.6zM435.9 322.2L434.3 324.8L433.0 322.9zM442.1 322.4L440.3 324.9L439.1 322.8zM520.9 320.3L522.4 323.0L519.9 323.2zM347.0 327.7L346.1 330.5L344.3 328.9zM409.2 326.2L410.6 328.9L408.2 329.0zM387.0 332.0L387.5 335.0L385.1 334.4zM413.0 336.7L410.0 337.4L410.4 335.0zM418.7 335.3L416.3 337.1L415.8 334.7zM462.0 331.8L463.5 334.5L461.0 334.7zM386.3 338.3L387.3 341.2L384.8 341.0zM457.6 337.8L458.1 340.8L455.7 340.2zM470.8 345.6L469.5 348.3L468.0 346.5zM476.7 345.2L475.7 348.0L473.9 346.3z" fill="#0a9a0a" stroke="#0a9a0a" stroke-width="0.5"/>
<path d="M406.5 202.5L410.8 208.6M416.8 203.9L423.3 208.0M405.3 208.6L411.7 214.7M417.4 208.7L423.1 214.5M382.9 223.0L387.5 216.2M387.1 222.6L394.5 216.2M434.2 223.3L432.5 216.3M439.6 223.7L438.6 216.0M386.7 227.4L394.5 222.7M433.7 229.5L432.7 221.9M438.7 229.3L439.0 222.2M352.2 234.1L358.9 228.2M388.2 234.5L393.7 228.1M406.2 225.8L411.1 232.4M334.4 239.2L341.1 234.6M353.4 240.9L358.2 233.6M382.9 240.2L387.4 234.3M405.9 232.4L411.1 237.8M408.4 258.8L410.0 251.4M414.4 258.8L415.8 251.4M469.3 257.8L476.9 251.5M484.9 256.7L477.5 252.3M416.2 265.1L414.9 256.9M470.3 262.7L475.8 258.3M489.3 264.4L484.1 257.1M404.0 266.5L412.2 265.0M404.5 271.1L411.6 271.5M409.9 271.2L418.0 271.5M423.5 273.9L428.7 278.7M534.8 281.1L540.8 275.4M535.4 286.8L540.4 281.5M462.5 301.0L462.3 291.6M316.4 306.9L314.9 297.4M321.6 305.9L321.2 298.4M464.3 296.9L470.2 302.7M469.7 297.4L476.4 302.4M314.9 312.3L315.6 303.8M322.4 312.1L320.7 304.0M464.2 302.9L470.3 308.5M326.1 318.1L327.7 309.7M334.4 318.1L332.4 309.7M331.8 324.1L333.7 315.5M493.4 322.6L500.0 316.2M475.3 329.0L482.1 330.7M480.0 330.3L489.0 330.1M363.3 336.6L370.5 335.8M381.3 341.0L379.5 333.8M464.3 340.3L470.4 333.8M357.3 342.4L364.8 341.7M380.4 347.2L379.9 339.5M464.3 346.3L470.4 339.7M522.2 341.6L529.2 342.1M527.2 342.1L535.9 341.9M404.1 349.3L412.2 347.1M409.7 346.9L418.2 348.3" stroke="#ffa014" stroke-width="1.05" fill="none"/>
<path d="M412.4 210.9L409.8 209.3L411.8 207.9zM425.7 209.5L422.7 209.0L424.0 206.9zM413.7 216.6L410.8 215.6L412.5 213.8zM425.1 216.4L422.2 215.3L424.0 213.6zM389.1 213.9L388.5 216.9L386.4 215.5zM396.6 214.4L395.3 217.1L393.6 215.2zM431.8 213.6L433.7 216.0L431.2 216.6zM438.2 213.3L439.8 215.9L437.3 216.2zM396.9 221.3L395.2 223.8L393.9 221.7zM432.3 219.1L433.9 221.8L431.4 222.1zM439.0 219.4L440.2 222.2L437.7 222.1zM360.9 226.3L359.7 229.1L358.0 227.2zM395.5 225.9L394.6 228.9L392.7 227.2zM412.8 234.6L410.1 233.1L412.1 231.6zM343.4 233.0L341.8 235.6L340.4 233.6zM359.8 231.3L359.3 234.3L357.2 232.9zM389.1 232.0L388.4 235.0L386.4 233.5zM413.1 239.8L410.2 238.7L412.0 237.0zM410.5 248.6L411.2 251.6L408.7 251.1zM416.3 248.7L417.0 251.7L414.6 251.2zM479.0 249.7L477.7 252.5L476.1 250.5zM475.1 250.8L478.2 251.2L476.9 253.3zM414.5 254.2L416.2 256.7L413.7 257.1zM478.0 256.6L476.6 259.3L475.0 257.3zM482.5 254.8L485.1 256.4L483.1 257.8zM414.9 264.5L412.4 266.2L411.9 263.8zM414.4 271.7L411.6 272.8L411.7 270.3zM420.8 271.6L418.0 272.7L418.1 270.2zM430.8 280.6L427.9 279.7L429.6 277.8zM542.9 273.5L541.7 276.3L540.0 274.5zM542.3 279.5L541.3 282.4L539.5 280.6zM462.3 288.8L463.6 291.6L461.1 291.6zM314.4 294.7L316.1 297.2L313.6 297.6zM321.0 295.6L322.4 298.4L319.9 298.5zM472.2 304.7L469.3 303.6L471.1 301.8zM478.6 304.1L475.6 303.4L477.1 301.4zM315.9 301.0L316.9 303.9L314.4 303.7zM320.2 301.2L322.0 303.7L319.5 304.2zM472.4 310.4L469.5 309.5L471.2 307.6zM328.2 307.0L328.9 310.0L326.5 309.5zM331.7 307.0L333.6 309.4L331.1 310.0zM334.3 312.8L334.9 315.8L332.5 315.2zM502.0 314.2L500.9 317.1L499.1 315.3zM484.8 331.3L481.8 331.9L482.4 329.5zM491.8 330.1L489.1 331.4L489.0 328.9zM373.3 335.5L370.7 337.1L370.4 334.6zM378.8 331.1L380.7 333.5L378.3 334.1zM472.3 331.8L471.3 334.7L469.5 333.0zM367.6 341.5L364.9 343.0L364.7 340.5zM379.8 336.7L381.2 339.4L378.7 339.6zM472.3 337.6L471.3 340.5L469.5 338.8zM532.0 342.3L529.1 343.3L529.3 340.8zM538.7 341.8L536.0 343.1L535.9 340.6zM414.9 346.4L412.5 348.3L411.9 345.9zM421.0 348.7L418.0 349.5L418.4 347.0z" fill="#ffa014" stroke="#ffa014" stroke-width="0.5"/>
<path d="M392.5 235.8L401.0 226.7M399.5 236.5L406.1 226.3M398.6 241.8L406.8 232.5M393.8 248.1L400.1 238.2M405.4 236.0L411.9 245.6M409.0 237.4L419.5 244.9M345.6 253.3L353.8 244.5M351.4 253.0L359.7 244.7M379.8 252.3L389.9 245.1M392.0 252.3L401.2 245.1M399.5 253.1L405.9 244.8M404.2 242.2L412.8 251.5M345.1 258.6L354.1 250.7M363.8 259.6L371.1 250.1M344.6 263.8L354.4 257.0M350.8 263.5L360.0 257.3M358.5 265.9L364.9 255.7M350.8 273.4L350.6 260.4M358.4 273.0L355.4 260.7M360.6 272.6L363.6 261.1M367.4 272.0L368.9 261.8M356.8 278.1L356.4 267.5M376.0 269.9L373.1 281.9M378.5 270.0L381.1 281.8M381.8 275.9L379.0 287.7M405.8 276.9L411.8 287.0M411.3 277.7L417.7 286.3M350.4 285.0L360.3 291.5M374.9 282.1L373.8 293.2M345.0 291.6L353.9 296.8M350.4 290.6L360.4 297.6M373.1 287.9L374.9 299.1M378.7 288.4L380.9 298.7M333.4 297.0L342.1 303.0M425.7 337.4L437.5 335.2M426.1 341.7L437.1 342.1M366.8 348.2L378.8 347.6M373.0 349.6L384.5 346.7" stroke="#ff1010" stroke-width="1.05" fill="none"/>
<path d="M402.9 224.6L401.9 227.5L400.1 225.8zM407.7 223.9L407.2 227.0L405.1 225.6zM408.6 230.4L407.7 233.4L405.8 231.7zM401.7 235.9L401.2 238.9L399.1 237.6zM413.5 247.9L410.9 246.3L413.0 244.9zM421.7 246.6L418.7 246.0L420.2 243.9zM355.7 242.5L354.7 245.4L352.9 243.7zM361.7 242.7L360.6 245.6L358.9 243.8zM392.1 243.4L390.6 246.1L389.1 244.1zM403.4 243.4L402.0 246.1L400.4 244.1zM407.7 242.6L406.9 245.6L405.0 244.1zM414.7 253.6L411.9 252.3L413.7 250.7zM356.2 248.9L354.9 251.7L353.3 249.8zM372.8 247.9L372.1 250.8L370.1 249.3zM356.7 255.5L355.1 258.1L353.7 256.0zM362.3 255.7L360.7 258.3L359.3 256.3zM366.4 253.4L366.0 256.4L363.9 255.0zM350.6 257.6L351.8 260.4L349.4 260.4zM354.7 258.0L356.6 260.4L354.2 261.1zM364.3 258.4L364.8 261.4L362.4 260.8zM369.3 259.0L370.1 262.0L367.6 261.6zM356.3 264.7L357.7 267.4L355.2 267.5zM372.4 284.6L371.9 281.6L374.3 282.2zM381.7 284.5L379.9 282.1L382.3 281.5zM378.3 290.4L377.8 287.4L380.2 288.0zM413.2 289.4L410.7 287.6L412.8 286.4zM419.4 288.6L416.7 287.1L418.7 285.6zM362.7 293.0L359.7 292.5L361.0 290.4zM373.5 296.0L372.5 293.1L375.0 293.3zM356.3 298.2L353.3 297.9L354.5 295.7zM362.7 299.2L359.7 298.6L361.1 296.5zM375.3 301.9L373.6 299.3L376.1 298.9zM381.4 301.4L379.6 298.9L382.1 298.4zM344.4 304.6L341.4 304.0L342.9 302.0zM440.3 334.7L437.8 336.4L437.3 334.0zM439.9 342.2L437.1 343.3L437.2 340.8zM381.6 347.4L378.8 348.8L378.7 346.3zM387.2 346.1L384.8 348.0L384.2 345.5z" fill="#ff1010" stroke="#ff1010" stroke-width="0.5"/>
<path d="M342.4 271.0L356.7 281.9M349.3 270.6L361.7 282.0M354.4 270.8L368.3 282.0M345.7 274.7L354.2 289.1M350.1 274.6L361.4 289.5M360.8 275.8L373.9 288.5M316.4 330.3L335.2 330.1M323.1 330.6L340.2 329.9" stroke="#f514f5" stroke-width="1.05" fill="none"/>
<path d="M359.0 283.6L356.0 282.9L357.5 280.9zM363.8 283.9L360.9 282.9L362.6 281.1zM370.5 283.7L367.5 283.0L369.1 281.0zM355.6 291.5L353.1 289.8L355.3 288.5zM363.1 291.7L360.4 290.3L362.4 288.7zM375.9 290.4L373.0 289.4L374.7 287.6zM338.0 330.1L335.2 331.3L335.1 328.8zM343.0 329.7L340.3 331.1L340.2 328.6z" fill="#f514f5" stroke="#f514f5" stroke-width="0.5"/>
</g>
<g stroke="#222" stroke-width="1"><line x1="40.50" y1="163.20" x2="40.50" y2="165.80"/><line x1="55.67" y1="163.20" x2="55.67" y2="165.80"/><line x1="70.85" y1="163.20" x2="70.85" y2="167.40"/><line x1="86.02" y1="163.20" x2="86.02" y2="165.80"/><line x1="101.19" y1="163.20" x2="101.19" y2="165.80"/><line x1="116.37" y1="163.20" x2="116.37" y2="165.80"/><line x1="131.54" y1="163.20" x2="131.54" y2="167.40"/><line x1="146.71" y1="163.20" x2="146.71" y2="165.80"/><line x1="161.89" y1="163.20" x2="161.89" y2="165.80"/><line x1="177.06" y1="163.20" x2="177.06" y2="165.80"/><line x1="192.23" y1="163.20" x2="192.23" y2="167.40"/><line x1="207.41" y1="163.20" x2="207.41" y2="165.80"/><line x1="222.58" y1="163.20" x2="222.58" y2="165.80"/><line x1="237.75" y1="163.20" x2="237.75" y2="165.80"/><line x1="252.93" y1="163.20" x2="252.93" y2="167.40"/><line x1="40.50" y1="147.09" x2="36.30" y2="147.09"/><line x1="40.50" y1="130.98" x2="37.90" y2="130.98"/><line x1="40.50" y1="114.87" x2="37.90" y2="114.87"/><line x1="40.50" y1="98.76" x2="36.30" y2="98.76"/><line x1="40.50" y1="82.64" x2="37.90" y2="82.64"/><line x1="40.50" y1="66.53" x2="37.90" y2="66.53"/><line x1="40.50" y1="50.42" x2="36.30" y2="50.42"/><line x1="40.50" y1="34.31" x2="37.90" y2="34.31"/><line x1="40.50" y1="18.20" x2="37.90" y2="18.20"/></g>
<text x="70.85" y="179.20" text-anchor="middle" class="ax">108.9° E</text>
<text x="131.54" y="179.20" text-anchor="middle" class="ax">109.3° E</text>
<text x="192.23" y="179.20" text-anchor="middle" class="ax">109.7° E</text>
<text x="252.93" y="179.20" text-anchor="middle" class="ax">110.1° E</text>
<text x="32.50" y="55.12" text-anchor="end" class="ax">19.3° N</text>
<text x="32.50" y="103.46" text-anchor="end" class="ax">19° N</text>
<text x="32.50" y="151.79" text-anchor="end" class="ax">18.7° N</text>
<rect x="40.50" y="18.20" width="227.6" height="145.0" fill="none" stroke="#222" stroke-width="1.4"/>
<text x="40.60" y="10.70" class="ti">(a) CNTL</text>
<g stroke="#222" stroke-width="1"><line x1="313.60" y1="163.30" x2="313.60" y2="165.90"/><line x1="328.77" y1="163.30" x2="328.77" y2="165.90"/><line x1="343.95" y1="163.30" x2="343.95" y2="167.50"/><line x1="359.12" y1="163.30" x2="359.12" y2="165.90"/><line x1="374.29" y1="163.30" x2="374.29" y2="165.90"/><line x1="389.47" y1="163.30" x2="389.47" y2="165.90"/><line x1="404.64" y1="163.30" x2="404.64" y2="167.50"/><line x1="419.81" y1="163.30" x2="419.81" y2="165.90"/><line x1="434.99" y1="163.30" x2="434.99" y2="165.90"/><line x1="450.16" y1="163.30" x2="450.16" y2="165.90"/><line x1="465.33" y1="163.30" x2="465.33" y2="167.50"/><line x1="480.51" y1="163.30" x2="480.51" y2="165.90"/><line x1="495.68" y1="163.30" x2="495.68" y2="165.90"/><line x1="510.85" y1="163.30" x2="510.85" y2="165.90"/><line x1="526.03" y1="163.30" x2="526.03" y2="167.50"/><line x1="313.60" y1="147.19" x2="309.40" y2="147.19"/><line x1="313.60" y1="131.08" x2="311.00" y2="131.08"/><line x1="313.60" y1="114.97" x2="311.00" y2="114.97"/><line x1="313.60" y1="98.86" x2="309.40" y2="98.86"/><line x1="313.60" y1="82.74" x2="311.00" y2="82.74"/><line x1="313.60" y1="66.63" x2="311.00" y2="66.63"/><line x1="313.60" y1="50.52" x2="309.40" y2="50.52"/><line x1="313.60" y1="34.41" x2="311.00" y2="34.41"/><line x1="313.60" y1="18.30" x2="311.00" y2="18.30"/></g>
<text x="343.95" y="179.30" text-anchor="middle" class="ax">108.9° E</text>
<text x="404.64" y="179.30" text-anchor="middle" class="ax">109.3° E</text>
<text x="465.33" y="179.30" text-anchor="middle" class="ax">109.7° E</text>
<text x="526.03" y="179.30" text-anchor="middle" class="ax">110.1° E</text>
<text x="305.60" y="55.22" text-anchor="end" class="ax">19.3° N</text>
<text x="305.60" y="103.56" text-anchor="end" class="ax">19° N</text>
<text x="305.60" y="151.89" text-anchor="end" class="ax">18.7° N</text>
<rect x="313.60" y="18.30" width="227.6" height="145.0" fill="none" stroke="#222" stroke-width="1.4"/>
<text x="313.70" y="10.80" class="ti">(b) FOREST−CNTL</text>
<g stroke="#222" stroke-width="1"><line x1="40.50" y1="350.15" x2="40.50" y2="352.75"/><line x1="55.67" y1="350.15" x2="55.67" y2="352.75"/><line x1="70.85" y1="350.15" x2="70.85" y2="354.35"/><line x1="86.02" y1="350.15" x2="86.02" y2="352.75"/><line x1="101.19" y1="350.15" x2="101.19" y2="352.75"/><line x1="116.37" y1="350.15" x2="116.37" y2="352.75"/><line x1="131.54" y1="350.15" x2="131.54" y2="354.35"/><line x1="146.71" y1="350.15" x2="146.71" y2="352.75"/><line x1="161.89" y1="350.15" x2="161.89" y2="352.75"/><line x1="177.06" y1="350.15" x2="177.06" y2="352.75"/><line x1="192.23" y1="350.15" x2="192.23" y2="354.35"/><line x1="207.41" y1="350.15" x2="207.41" y2="352.75"/><line x1="222.58" y1="350.15" x2="222.58" y2="352.75"/><line x1="237.75" y1="350.15" x2="237.75" y2="352.75"/><line x1="252.93" y1="350.15" x2="252.93" y2="354.35"/><line x1="40.50" y1="334.04" x2="36.30" y2="334.04"/><line x1="40.50" y1="317.93" x2="37.90" y2="317.93"/><line x1="40.50" y1="301.82" x2="37.90" y2="301.82"/><line x1="40.50" y1="285.71" x2="36.30" y2="285.71"/><line x1="40.50" y1="269.59" x2="37.90" y2="269.59"/><line x1="40.50" y1="253.48" x2="37.90" y2="253.48"/><line x1="40.50" y1="237.37" x2="36.30" y2="237.37"/><line x1="40.50" y1="221.26" x2="37.90" y2="221.26"/><line x1="40.50" y1="205.15" x2="37.90" y2="205.15"/></g>
<text x="70.85" y="366.15" text-anchor="middle" class="ax">108.9° E</text>
<text x="131.54" y="366.15" text-anchor="middle" class="ax">109.3° E</text>
<text x="192.23" y="366.15" text-anchor="middle" class="ax">109.7° E</text>
<text x="252.93" y="366.15" text-anchor="middle" class="ax">110.1° E</text>
<text x="32.50" y="242.07" text-anchor="end" class="ax">19.3° N</text>
<text x="32.50" y="290.41" text-anchor="end" class="ax">19° N</text>
<text x="32.50" y="338.74" text-anchor="end" class="ax">18.7° N</text>
<rect x="40.50" y="205.15" width="227.6" height="145.0" fill="none" stroke="#222" stroke-width="1.4"/>
<text x="40.60" y="197.65" class="ti">(c) GRASS−CNTL</text>
<g stroke="#222" stroke-width="1"><line x1="313.60" y1="350.20" x2="313.60" y2="352.80"/><line x1="328.77" y1="350.20" x2="328.77" y2="352.80"/><line x1="343.95" y1="350.20" x2="343.95" y2="354.40"/><line x1="359.12" y1="350.20" x2="359.12" y2="352.80"/><line x1="374.29" y1="350.20" x2="374.29" y2="352.80"/><line x1="389.47" y1="350.20" x2="389.47" y2="352.80"/><line x1="404.64" y1="350.20" x2="404.64" y2="354.40"/><line x1="419.81" y1="350.20" x2="419.81" y2="352.80"/><line x1="434.99" y1="350.20" x2="434.99" y2="352.80"/><line x1="450.16" y1="350.20" x2="450.16" y2="352.80"/><line x1="465.33" y1="350.20" x2="465.33" y2="354.40"/><line x1="480.51" y1="350.20" x2="480.51" y2="352.80"/><line x1="495.68" y1="350.20" x2="495.68" y2="352.80"/><line x1="510.85" y1="350.20" x2="510.85" y2="352.80"/><line x1="526.03" y1="350.20" x2="526.03" y2="354.40"/><line x1="313.60" y1="334.09" x2="309.40" y2="334.09"/><line x1="313.60" y1="317.98" x2="311.00" y2="317.98"/><line x1="313.60" y1="301.87" x2="311.00" y2="301.87"/><line x1="313.60" y1="285.76" x2="309.40" y2="285.76"/><line x1="313.60" y1="269.64" x2="311.00" y2="269.64"/><line x1="313.60" y1="253.53" x2="311.00" y2="253.53"/><line x1="313.60" y1="237.42" x2="309.40" y2="237.42"/><line x1="313.60" y1="221.31" x2="311.00" y2="221.31"/><line x1="313.60" y1="205.20" x2="311.00" y2="205.20"/></g>
<text x="343.95" y="366.20" text-anchor="middle" class="ax">108.9° E</text>
<text x="404.64" y="366.20" text-anchor="middle" class="ax">109.3° E</text>
<text x="465.33" y="366.20" text-anchor="middle" class="ax">109.7° E</text>
<text x="526.03" y="366.20" text-anchor="middle" class="ax">110.1° E</text>
<text x="305.60" y="242.12" text-anchor="end" class="ax">19.3° N</text>
<text x="305.60" y="290.46" text-anchor="end" class="ax">19° N</text>
<text x="305.60" y="338.79" text-anchor="end" class="ax">18.7° N</text>
<rect x="313.60" y="205.20" width="227.6" height="145.0" fill="none" stroke="#222" stroke-width="1.4"/>
<text x="313.70" y="197.70" class="ti">(d) DESERT−CNTL</text>
<rect x="35.80" y="375.6" width="25.91" height="8.20" fill="#d9d9d9"/>
<rect x="61.41" y="375.6" width="25.91" height="8.20" fill="#c0c0c0"/>
<rect x="87.02" y="375.6" width="25.91" height="8.20" fill="#a6a6a6"/>
<rect x="112.63" y="375.6" width="25.91" height="8.20" fill="#8f8f8f"/>
<rect x="138.24" y="375.6" width="25.91" height="8.20" fill="#787878"/>
<rect x="163.86" y="375.6" width="25.91" height="8.20" fill="#5e5e5e"/>
<rect x="189.47" y="375.6" width="25.91" height="8.20" fill="#464646"/>
<rect x="215.08" y="375.6" width="25.91" height="8.20" fill="#2e2e2e"/>
<rect x="240.69" y="375.6" width="25.91" height="8.20" fill="#0a0a0a"/>
<rect x="35.8" y="375.6" width="230.50" height="8.20" fill="none" stroke="#222" stroke-width="1"/>
<line x1="35.80" y1="383.8" x2="35.80" y2="386.80" stroke="#222" stroke-width="1"/>
<text x="35.80" y="398.8" text-anchor="middle" class="cb">50</text>
<line x1="61.41" y1="383.8" x2="61.41" y2="386.80" stroke="#222" stroke-width="1"/>
<text x="61.41" y="398.8" text-anchor="middle" class="cb">100</text>
<line x1="87.02" y1="383.8" x2="87.02" y2="386.80" stroke="#222" stroke-width="1"/>
<text x="87.02" y="398.8" text-anchor="middle" class="cb">200</text>
<line x1="112.63" y1="383.8" x2="112.63" y2="386.80" stroke="#222" stroke-width="1"/>
<text x="112.63" y="398.8" text-anchor="middle" class="cb">400</text>
<line x1="138.24" y1="383.8" x2="138.24" y2="386.80" stroke="#222" stroke-width="1"/>
<text x="138.24" y="398.8" text-anchor="middle" class="cb">600</text>
<line x1="163.86" y1="383.8" x2="163.86" y2="386.80" stroke="#222" stroke-width="1"/>
<text x="163.86" y="398.8" text-anchor="middle" class="cb">800</text>
<line x1="189.47" y1="383.8" x2="189.47" y2="386.80" stroke="#222" stroke-width="1"/>
<text x="189.47" y="398.8" text-anchor="middle" class="cb">1000</text>
<line x1="215.08" y1="383.8" x2="215.08" y2="386.80" stroke="#222" stroke-width="1"/>
<text x="215.08" y="398.8" text-anchor="middle" class="cb">1200</text>
<line x1="240.69" y1="383.8" x2="240.69" y2="386.80" stroke="#222" stroke-width="1"/>
<text x="240.69" y="398.8" text-anchor="middle" class="cb">1400</text>
<line x1="266.30" y1="383.8" x2="266.30" y2="386.80" stroke="#222" stroke-width="1"/>
<text x="266.30" y="398.8" text-anchor="middle" class="cb">1600</text>
<text x="152" y="411.3" text-anchor="middle" class="cbu">m</text>
<rect x="314.90" y="375.4" width="31.66" height="8.00" fill="#20a0f0"/>
<rect x="346.26" y="375.4" width="31.66" height="8.00" fill="#1414e6"/>
<rect x="377.62" y="375.4" width="31.66" height="8.00" fill="#149614"/>
<rect x="408.98" y="375.4" width="31.66" height="8.00" fill="#ff9c14"/>
<rect x="440.34" y="375.4" width="31.66" height="8.00" fill="#f01414"/>
<rect x="471.70" y="375.4" width="31.66" height="8.00" fill="#b40a0a"/>
<rect x="503.06" y="375.4" width="31.66" height="8.00" fill="#f014f0"/>
<polygon points="534.42,375.4 545.32,379.40 534.42,383.4" fill="#a050d0"/>
<polygon points="314.9,375.4 534.42,375.4 545.32,379.40 534.42,383.4 314.9,383.4" fill="none" stroke="#222" stroke-width="1"/>
<line x1="314.90" y1="383.4" x2="314.90" y2="386.40" stroke="#222" stroke-width="1"/>
<text x="314.90" y="398.8" text-anchor="middle" class="cb">0.5</text>
<line x1="346.26" y1="383.4" x2="346.26" y2="386.40" stroke="#222" stroke-width="1"/>
<text x="346.26" y="398.8" text-anchor="middle" class="cb">1.0</text>
<line x1="377.62" y1="383.4" x2="377.62" y2="386.40" stroke="#222" stroke-width="1"/>
<text x="377.62" y="398.8" text-anchor="middle" class="cb">2.0</text>
<line x1="408.98" y1="383.4" x2="408.98" y2="386.40" stroke="#222" stroke-width="1"/>
<text x="408.98" y="398.8" text-anchor="middle" class="cb">3.0</text>
<line x1="440.34" y1="383.4" x2="440.34" y2="386.40" stroke="#222" stroke-width="1"/>
<text x="440.34" y="398.8" text-anchor="middle" class="cb">4.0</text>
<line x1="471.70" y1="383.4" x2="471.70" y2="386.40" stroke="#222" stroke-width="1"/>
<text x="471.70" y="398.8" text-anchor="middle" class="cb">5.0</text>
<line x1="503.06" y1="383.4" x2="503.06" y2="386.40" stroke="#222" stroke-width="1"/>
<text x="503.06" y="398.8" text-anchor="middle" class="cb">6.0</text>
<line x1="534.42" y1="383.4" x2="534.42" y2="386.40" stroke="#222" stroke-width="1"/>
<text x="534.42" y="398.8" text-anchor="middle" class="cb">7.0</text>
<text x="415.6" y="414" class="cbu">m·s<tspan dy="-4.4" font-size="9.2">−1</tspan></text>
<line x1="240" y1="4.4" x2="256.5" y2="4.4" stroke="#111" stroke-width="1.3"/>
<polygon points="259.8,4.4 255.2,2.5 255.2,6.3" fill="#111"/>
<text x="233.8" y="15.6" class="cb2">6 m·s<tspan dy="-2.9" font-size="8">−1</tspan></text>
</svg></body></html>
